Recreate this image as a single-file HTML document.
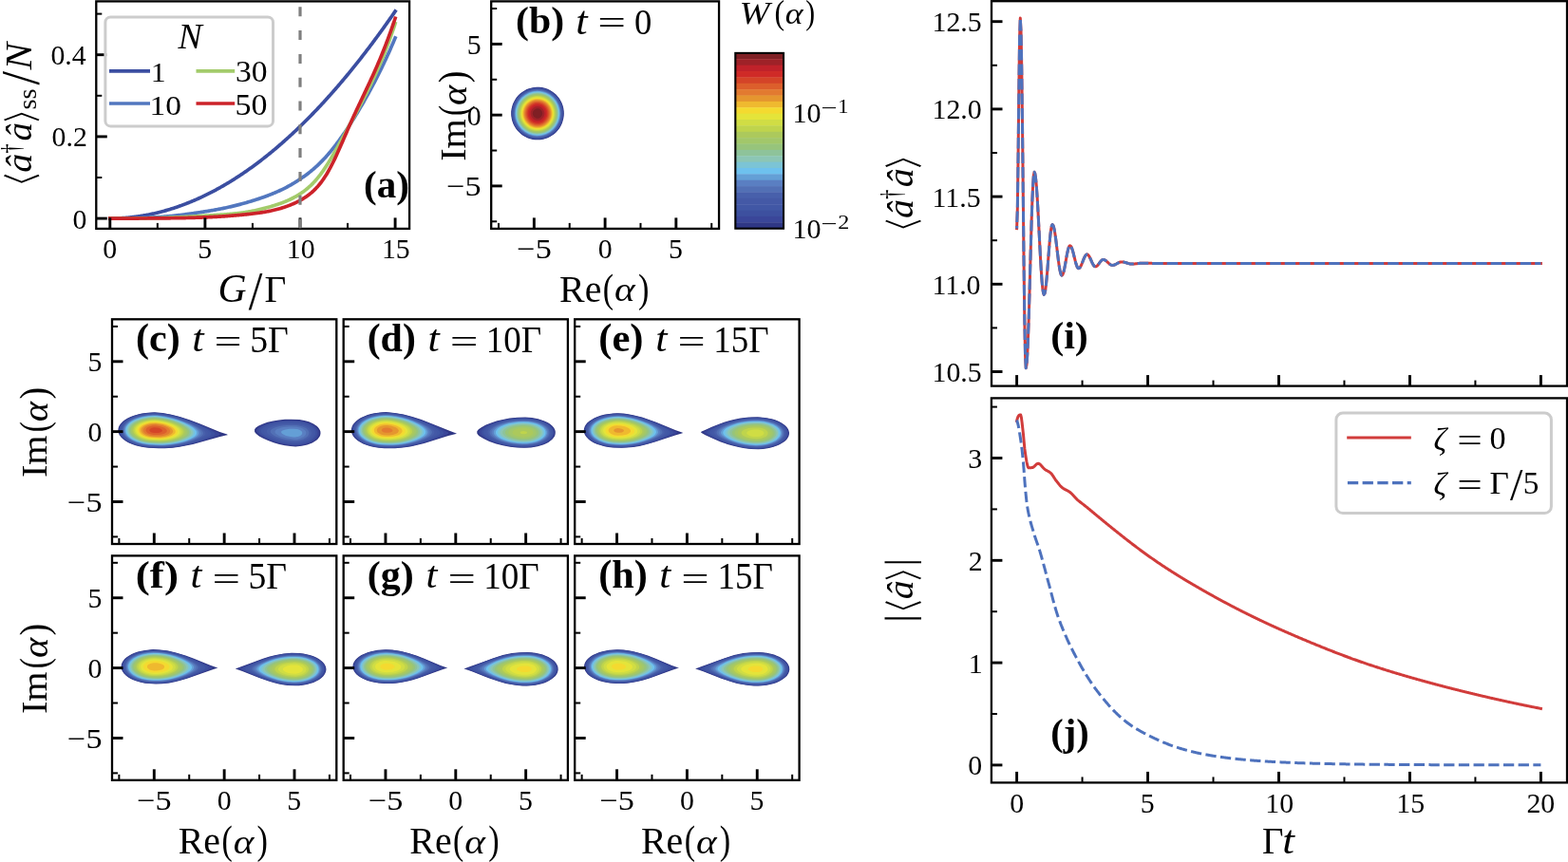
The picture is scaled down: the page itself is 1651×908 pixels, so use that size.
<!DOCTYPE html>
<html><head><meta charset="utf-8"><title>figure</title>
<style>html,body{margin:0;padding:0;background:#fff;overflow:hidden}svg{display:block}</style>
</head><body>
<svg width="1651" height="908" viewBox="0 0 1651 908">
<rect width="1651" height="908" fill="#fff"/>
<defs><clipPath id="ca"><rect x="101.30" y="1.40" width="329.80" height="239.50"/></clipPath></defs>
<path d="M115.80,230.10 L116.80,230.10 L117.81,230.09 L118.81,230.08 L119.82,230.06 L120.82,230.04 L121.83,230.01 L122.83,229.98 L123.83,229.94 L124.84,229.90 L125.84,229.86 L126.85,229.80 L127.85,229.75 L128.86,229.69 L129.86,229.62 L130.87,229.55 L131.87,229.48 L132.87,229.39 L133.88,229.31 L134.88,229.22 L135.89,229.12 L136.89,229.02 L137.90,228.92 L138.90,228.81 L139.90,228.69 L140.91,228.57 L141.91,228.45 L142.92,228.32 L143.92,228.19 L144.93,228.05 L145.93,227.90 L146.93,227.75 L147.94,227.60 L148.94,227.44 L149.95,227.28 L150.95,227.11 L151.96,226.94 L152.96,226.76 L153.97,226.58 L154.97,226.39 L155.97,226.20 L156.98,226.00 L157.98,225.79 L158.99,225.59 L159.99,225.37 L161.00,225.16 L162.00,224.94 L163.00,224.71 L164.01,224.48 L165.01,224.24 L166.02,224.00 L167.02,223.75 L168.03,223.50 L169.03,223.24 L170.03,222.98 L171.04,222.72 L172.04,222.45 L173.05,222.17 L174.05,221.89 L175.06,221.60 L176.06,221.31 L177.07,221.02 L178.07,220.72 L179.07,220.41 L180.08,220.10 L181.08,219.79 L182.09,219.47 L183.09,219.14 L184.10,218.81 L185.10,218.48 L186.10,218.14 L187.11,217.80 L188.11,217.45 L189.12,217.09 L190.12,216.74 L191.13,216.37 L192.13,216.00 L193.13,215.63 L194.14,215.25 L195.14,214.87 L196.15,214.48 L197.15,214.09 L198.16,213.69 L199.16,213.29 L200.17,212.88 L201.17,212.47 L202.17,212.05 L203.18,211.63 L204.18,211.20 L205.19,210.77 L206.19,210.33 L207.20,209.89 L208.20,209.44 L209.20,208.99 L210.21,208.53 L211.21,208.07 L212.22,207.61 L213.22,207.14 L214.23,206.66 L215.23,206.18 L216.23,205.69 L217.24,205.20 L218.24,204.71 L219.25,204.21 L220.25,203.70 L221.26,203.19 L222.26,202.68 L223.27,202.16 L224.27,201.63 L225.27,201.10 L226.28,200.57 L227.28,200.03 L228.29,199.48 L229.29,198.94 L230.30,198.38 L231.30,197.82 L232.30,197.26 L233.31,196.69 L234.31,196.12 L235.32,195.54 L236.32,194.96 L237.33,194.37 L238.33,193.77 L239.33,193.18 L240.34,192.57 L241.34,191.97 L242.35,191.35 L243.35,190.74 L244.36,190.11 L245.36,189.49 L246.37,188.85 L247.37,188.22 L248.37,187.57 L249.38,186.93 L250.38,186.28 L251.39,185.62 L252.39,184.96 L253.40,184.29 L254.40,183.62 L255.40,182.94 L256.41,182.26 L257.41,181.58 L258.42,180.89 L259.42,180.19 L260.43,179.49 L261.43,178.79 L262.43,178.08 L263.44,177.36 L264.44,176.64 L265.45,175.92 L266.45,175.19 L267.46,174.45 L268.46,173.71 L269.47,172.97 L270.47,172.22 L271.47,171.46 L272.48,170.71 L273.48,169.94 L274.49,169.17 L275.49,168.40 L276.50,167.62 L277.50,166.84 L278.50,166.05 L279.51,165.26 L280.51,164.46 L281.52,163.65 L282.52,162.85 L283.53,162.03 L284.53,161.22 L285.53,160.39 L286.54,159.57 L287.54,158.73 L288.55,157.90 L289.55,157.05 L290.56,156.21 L291.56,155.36 L292.57,154.50 L293.57,153.64 L294.57,152.77 L295.58,151.90 L296.58,151.02 L297.59,150.14 L298.59,149.26 L299.60,148.37 L300.60,147.47 L301.60,146.57 L302.61,145.66 L303.61,144.75 L304.62,143.84 L305.62,142.92 L306.63,141.99 L307.63,141.06 L308.63,140.13 L309.64,139.19 L310.64,138.24 L311.65,137.30 L312.65,136.34 L313.66,135.38 L314.66,134.42 L315.67,133.45 L316.67,132.48 L317.67,131.50 L318.68,130.51 L319.68,129.52 L320.69,128.53 L321.69,127.53 L322.70,126.53 L323.70,125.52 L324.70,124.51 L325.71,123.49 L326.71,122.47 L327.72,121.44 L328.72,120.41 L329.73,119.37 L330.73,118.33 L331.73,117.28 L332.74,116.23 L333.74,115.17 L334.75,114.11 L335.75,113.05 L336.76,111.97 L337.76,110.90 L338.77,109.82 L339.77,108.73 L340.77,107.64 L341.78,106.54 L342.78,105.44 L343.79,104.34 L344.79,103.23 L345.80,102.11 L346.80,100.99 L347.80,99.87 L348.81,98.74 L349.81,97.60 L350.82,96.46 L351.82,95.32 L352.83,94.17 L353.83,93.01 L354.83,91.85 L355.84,90.69 L356.84,89.52 L357.85,88.35 L358.85,87.17 L359.86,85.98 L360.86,84.80 L361.87,83.60 L362.87,82.40 L363.87,81.20 L364.88,79.99 L365.88,78.78 L366.89,77.56 L367.89,76.34 L368.90,75.11 L369.90,73.88 L370.90,72.64 L371.91,71.40 L372.91,70.15 L373.92,68.90 L374.92,67.64 L375.93,66.38 L376.93,65.11 L377.93,63.84 L378.94,62.57 L379.94,61.28 L380.95,60.00 L381.95,58.71 L382.96,57.41 L383.96,56.11 L384.97,54.81 L385.97,53.49 L386.97,52.18 L387.98,50.86 L388.98,49.53 L389.99,48.20 L390.99,46.87 L392.00,45.53 L393.00,44.18 L394.00,42.83 L395.01,41.48 L396.01,40.12 L397.02,38.76 L398.02,37.39 L399.03,36.01 L400.03,34.63 L401.03,33.25 L402.04,31.86 L403.04,30.47 L404.05,29.07 L405.05,27.67 L406.06,26.26 L407.06,24.84 L408.07,23.43 L409.07,22.00 L410.07,20.58 L411.08,19.14 L412.08,17.71 L413.09,16.26 L414.09,14.82 L415.10,13.36 L416.10,11.91" fill="none" stroke="#3b4ea1" stroke-width="3.7" stroke-linejoin="round" stroke-linecap="square" clip-path="url(#ca)"/>
<path d="M115.80,230.10 L116.80,230.10 L117.81,230.10 L118.81,230.10 L119.82,230.09 L120.82,230.09 L121.83,230.08 L122.83,230.07 L123.83,230.06 L124.84,230.06 L125.84,230.05 L126.85,230.03 L127.85,230.02 L128.86,230.01 L129.86,229.99 L130.87,229.98 L131.87,229.96 L132.87,229.94 L133.88,229.92 L134.88,229.90 L135.89,229.88 L136.89,229.86 L137.90,229.83 L138.90,229.81 L139.90,229.78 L140.91,229.76 L141.91,229.73 L142.92,229.70 L143.92,229.67 L144.93,229.64 L145.93,229.61 L146.93,229.57 L147.94,229.54 L148.94,229.50 L149.95,229.47 L150.95,229.43 L151.96,229.39 L152.96,229.35 L153.97,229.31 L154.97,229.27 L155.97,229.22 L156.98,229.18 L157.98,229.14 L158.99,229.09 L159.99,229.04 L161.00,228.99 L162.00,228.94 L163.00,228.89 L164.01,228.83 L165.01,228.77 L166.02,228.71 L167.02,228.64 L168.03,228.58 L169.03,228.51 L170.03,228.44 L171.04,228.36 L172.04,228.28 L173.05,228.20 L174.05,228.12 L175.06,228.04 L176.06,227.95 L177.07,227.86 L178.07,227.77 L179.07,227.67 L180.08,227.58 L181.08,227.48 L182.09,227.37 L183.09,227.27 L184.10,227.16 L185.10,227.05 L186.10,226.94 L187.11,226.83 L188.11,226.71 L189.12,226.59 L190.12,226.47 L191.13,226.35 L192.13,226.22 L193.13,226.09 L194.14,225.96 L195.14,225.83 L196.15,225.70 L197.15,225.57 L198.16,225.43 L199.16,225.29 L200.17,225.15 L201.17,225.02 L202.17,224.87 L203.18,224.73 L204.18,224.59 L205.19,224.45 L206.19,224.30 L207.20,224.15 L208.20,224.01 L209.20,223.86 L210.21,223.71 L211.21,223.56 L212.22,223.41 L213.22,223.25 L214.23,223.10 L215.23,222.94 L216.23,222.78 L217.24,222.63 L218.24,222.46 L219.25,222.30 L220.25,222.14 L221.26,221.97 L222.26,221.80 L223.27,221.63 L224.27,221.46 L225.27,221.28 L226.28,221.11 L227.28,220.93 L228.29,220.74 L229.29,220.55 L230.30,220.36 L231.30,220.17 L232.30,219.97 L233.31,219.77 L234.31,219.57 L235.32,219.36 L236.32,219.15 L237.33,218.94 L238.33,218.73 L239.33,218.51 L240.34,218.28 L241.34,218.06 L242.35,217.83 L243.35,217.60 L244.36,217.36 L245.36,217.12 L246.37,216.88 L247.37,216.64 L248.37,216.39 L249.38,216.13 L250.38,215.88 L251.39,215.62 L252.39,215.36 L253.40,215.09 L254.40,214.82 L255.40,214.55 L256.41,214.27 L257.41,213.99 L258.42,213.71 L259.42,213.43 L260.43,213.14 L261.43,212.84 L262.43,212.55 L263.44,212.25 L264.44,211.94 L265.45,211.63 L266.45,211.32 L267.46,211.01 L268.46,210.69 L269.47,210.36 L270.47,210.03 L271.47,209.70 L272.48,209.37 L273.48,209.03 L274.49,208.68 L275.49,208.34 L276.50,207.98 L277.50,207.63 L278.50,207.27 L279.51,206.90 L280.51,206.53 L281.52,206.15 L282.52,205.77 L283.53,205.39 L284.53,205.00 L285.53,204.60 L286.54,204.20 L287.54,203.79 L288.55,203.38 L289.55,202.96 L290.56,202.53 L291.56,202.10 L292.57,201.66 L293.57,201.21 L294.57,200.75 L295.58,200.28 L296.58,199.81 L297.59,199.32 L298.59,198.83 L299.60,198.32 L300.60,197.81 L301.60,197.29 L302.61,196.75 L303.61,196.21 L304.62,195.65 L305.62,195.09 L306.63,194.52 L307.63,193.93 L308.63,193.34 L309.64,192.73 L310.64,192.12 L311.65,191.49 L312.65,190.86 L313.66,190.21 L314.66,189.56 L315.67,188.89 L316.67,188.22 L317.67,187.53 L318.68,186.84 L319.68,186.13 L320.69,185.41 L321.69,184.68 L322.70,183.94 L323.70,183.18 L324.70,182.41 L325.71,181.63 L326.71,180.83 L327.72,180.02 L328.72,179.19 L329.73,178.35 L330.73,177.48 L331.73,176.60 L332.74,175.71 L333.74,174.79 L334.75,173.85 L335.75,172.90 L336.76,171.92 L337.76,170.92 L338.77,169.91 L339.77,168.87 L340.77,167.82 L341.78,166.74 L342.78,165.64 L343.79,164.53 L344.79,163.39 L345.80,162.23 L346.80,161.06 L347.80,159.86 L348.81,158.65 L349.81,157.41 L350.82,156.15 L351.82,154.88 L352.83,153.59 L353.83,152.27 L354.83,150.94 L355.84,149.59 L356.84,148.23 L357.85,146.84 L358.85,145.44 L359.86,144.02 L360.86,142.59 L361.87,141.14 L362.87,139.67 L363.87,138.19 L364.88,136.69 L365.88,135.18 L366.89,133.65 L367.89,132.11 L368.90,130.55 L369.90,128.97 L370.90,127.38 L371.91,125.78 L372.91,124.16 L373.92,122.53 L374.92,120.88 L375.93,119.22 L376.93,117.54 L377.93,115.86 L378.94,114.15 L379.94,112.44 L380.95,110.71 L381.95,108.97 L382.96,107.22 L383.96,105.45 L384.97,103.67 L385.97,101.88 L386.97,100.07 L387.98,98.25 L388.98,96.42 L389.99,94.57 L390.99,92.70 L392.00,90.82 L393.00,88.93 L394.00,87.02 L395.01,85.09 L396.01,83.14 L397.02,81.18 L398.02,79.20 L399.03,77.21 L400.03,75.19 L401.03,73.16 L402.04,71.10 L403.04,69.03 L404.05,66.93 L405.05,64.82 L406.06,62.68 L407.06,60.52 L408.07,58.33 L409.07,56.13 L410.07,53.89 L411.08,51.63 L412.08,49.35 L413.09,47.04 L414.09,44.70 L415.10,42.33 L416.10,39.93" fill="none" stroke="#5277bf" stroke-width="3.7" stroke-linejoin="round" stroke-linecap="square" clip-path="url(#ca)"/>
<path d="M115.80,230.10 L116.80,230.10 L117.81,230.10 L118.81,230.10 L119.82,230.10 L120.82,230.09 L121.83,230.09 L122.83,230.09 L123.83,230.09 L124.84,230.08 L125.84,230.08 L126.85,230.07 L127.85,230.07 L128.86,230.06 L129.86,230.06 L130.87,230.05 L131.87,230.04 L132.87,230.04 L133.88,230.03 L134.88,230.02 L135.89,230.01 L136.89,230.00 L137.90,229.99 L138.90,229.98 L139.90,229.97 L140.91,229.96 L141.91,229.95 L142.92,229.94 L143.92,229.93 L144.93,229.92 L145.93,229.90 L146.93,229.89 L147.94,229.88 L148.94,229.86 L149.95,229.85 L150.95,229.83 L151.96,229.82 L152.96,229.80 L153.97,229.78 L154.97,229.77 L155.97,229.75 L156.98,229.74 L157.98,229.72 L158.99,229.70 L159.99,229.68 L161.00,229.67 L162.00,229.65 L163.00,229.63 L164.01,229.60 L165.01,229.58 L166.02,229.56 L167.02,229.54 L168.03,229.51 L169.03,229.48 L170.03,229.46 L171.04,229.43 L172.04,229.40 L173.05,229.37 L174.05,229.34 L175.06,229.31 L176.06,229.27 L177.07,229.24 L178.07,229.20 L179.07,229.17 L180.08,229.13 L181.08,229.09 L182.09,229.05 L183.09,229.01 L184.10,228.97 L185.10,228.92 L186.10,228.88 L187.11,228.83 L188.11,228.79 L189.12,228.74 L190.12,228.69 L191.13,228.64 L192.13,228.59 L193.13,228.54 L194.14,228.48 L195.14,228.43 L196.15,228.38 L197.15,228.32 L198.16,228.26 L199.16,228.21 L200.17,228.15 L201.17,228.10 L202.17,228.04 L203.18,227.98 L204.18,227.92 L205.19,227.87 L206.19,227.81 L207.20,227.75 L208.20,227.69 L209.20,227.63 L210.21,227.57 L211.21,227.51 L212.22,227.46 L213.22,227.40 L214.23,227.34 L215.23,227.28 L216.23,227.22 L217.24,227.16 L218.24,227.10 L219.25,227.04 L220.25,226.98 L221.26,226.91 L222.26,226.85 L223.27,226.79 L224.27,226.73 L225.27,226.67 L226.28,226.60 L227.28,226.54 L228.29,226.47 L229.29,226.41 L230.30,226.34 L231.30,226.27 L232.30,226.20 L233.31,226.13 L234.31,226.06 L235.32,225.99 L236.32,225.91 L237.33,225.84 L238.33,225.76 L239.33,225.68 L240.34,225.60 L241.34,225.52 L242.35,225.43 L243.35,225.34 L244.36,225.25 L245.36,225.16 L246.37,225.06 L247.37,224.96 L248.37,224.86 L249.38,224.75 L250.38,224.64 L251.39,224.52 L252.39,224.40 L253.40,224.28 L254.40,224.15 L255.40,224.01 L256.41,223.87 L257.41,223.72 L258.42,223.57 L259.42,223.41 L260.43,223.25 L261.43,223.08 L262.43,222.91 L263.44,222.73 L264.44,222.54 L265.45,222.35 L266.45,222.15 L267.46,221.95 L268.46,221.74 L269.47,221.53 L270.47,221.31 L271.47,221.08 L272.48,220.85 L273.48,220.61 L274.49,220.37 L275.49,220.12 L276.50,219.87 L277.50,219.61 L278.50,219.35 L279.51,219.09 L280.51,218.82 L281.52,218.54 L282.52,218.27 L283.53,217.98 L284.53,217.70 L285.53,217.40 L286.54,217.11 L287.54,216.81 L288.55,216.50 L289.55,216.18 L290.56,215.86 L291.56,215.54 L292.57,215.20 L293.57,214.86 L294.57,214.51 L295.58,214.15 L296.58,213.79 L297.59,213.41 L298.59,213.03 L299.60,212.63 L300.60,212.22 L301.60,211.80 L302.61,211.37 L303.61,210.93 L304.62,210.47 L305.62,210.00 L306.63,209.52 L307.63,209.02 L308.63,208.51 L309.64,207.98 L310.64,207.43 L311.65,206.87 L312.65,206.29 L313.66,205.69 L314.66,205.07 L315.67,204.43 L316.67,203.77 L317.67,203.08 L318.68,202.38 L319.68,201.65 L320.69,200.89 L321.69,200.11 L322.70,199.31 L323.70,198.47 L324.70,197.61 L325.71,196.71 L326.71,195.79 L327.72,194.84 L328.72,193.85 L329.73,192.83 L330.73,191.77 L331.73,190.68 L332.74,189.55 L333.74,188.38 L334.75,187.17 L335.75,185.92 L336.76,184.64 L337.76,183.31 L338.77,181.95 L339.77,180.55 L340.77,179.12 L341.78,177.65 L342.78,176.14 L343.79,174.61 L344.79,173.04 L345.80,171.44 L346.80,169.81 L347.80,168.15 L348.81,166.47 L349.81,164.77 L350.82,163.04 L351.82,161.29 L352.83,159.53 L353.83,157.75 L354.83,155.95 L355.84,154.14 L356.84,152.32 L357.85,150.49 L358.85,148.66 L359.86,146.82 L360.86,144.98 L361.87,143.14 L362.87,141.30 L363.87,139.45 L364.88,137.60 L365.88,135.75 L366.89,133.90 L367.89,132.05 L368.90,130.20 L369.90,128.34 L370.90,126.49 L371.91,124.63 L372.91,122.77 L373.92,120.90 L374.92,119.03 L375.93,117.15 L376.93,115.27 L377.93,113.38 L378.94,111.48 L379.94,109.56 L380.95,107.64 L381.95,105.70 L382.96,103.75 L383.96,101.78 L384.97,99.80 L385.97,97.81 L386.97,95.79 L387.98,93.76 L388.98,91.71 L389.99,89.65 L390.99,87.56 L392.00,85.45 L393.00,83.32 L394.00,81.16 L395.01,78.98 L396.01,76.77 L397.02,74.54 L398.02,72.28 L399.03,69.99 L400.03,67.66 L401.03,65.30 L402.04,62.91 L403.04,60.48 L404.05,58.01 L405.05,55.49 L406.06,52.94 L407.06,50.34 L408.07,47.69 L409.07,44.99 L410.07,42.25 L411.08,39.45 L412.08,36.61 L413.09,33.73 L414.09,30.79 L415.10,27.81 L416.10,24.79" fill="none" stroke="#a3cb6b" stroke-width="3.7" stroke-linejoin="round" stroke-linecap="square" clip-path="url(#ca)"/>
<path d="M115.80,230.10 L116.80,230.10 L117.81,230.10 L118.81,230.10 L119.82,230.10 L120.82,230.10 L121.83,230.10 L122.83,230.10 L123.83,230.09 L124.84,230.09 L125.84,230.09 L126.85,230.09 L127.85,230.09 L128.86,230.09 L129.86,230.08 L130.87,230.08 L131.87,230.08 L132.87,230.08 L133.88,230.07 L134.88,230.07 L135.89,230.07 L136.89,230.06 L137.90,230.06 L138.90,230.06 L139.90,230.05 L140.91,230.05 L141.91,230.04 L142.92,230.04 L143.92,230.04 L144.93,230.03 L145.93,230.03 L146.93,230.02 L147.94,230.02 L148.94,230.01 L149.95,230.01 L150.95,230.00 L151.96,229.99 L152.96,229.99 L153.97,229.98 L154.97,229.98 L155.97,229.97 L156.98,229.96 L157.98,229.96 L158.99,229.95 L159.99,229.95 L161.00,229.94 L162.00,229.94 L163.00,229.93 L164.01,229.92 L165.01,229.92 L166.02,229.91 L167.02,229.90 L168.03,229.89 L169.03,229.89 L170.03,229.88 L171.04,229.87 L172.04,229.86 L173.05,229.85 L174.05,229.84 L175.06,229.83 L176.06,229.82 L177.07,229.81 L178.07,229.80 L179.07,229.79 L180.08,229.77 L181.08,229.76 L182.09,229.75 L183.09,229.73 L184.10,229.72 L185.10,229.71 L186.10,229.69 L187.11,229.67 L188.11,229.66 L189.12,229.64 L190.12,229.62 L191.13,229.61 L192.13,229.59 L193.13,229.57 L194.14,229.55 L195.14,229.53 L196.15,229.51 L197.15,229.48 L198.16,229.46 L199.16,229.44 L200.17,229.41 L201.17,229.39 L202.17,229.36 L203.18,229.33 L204.18,229.31 L205.19,229.28 L206.19,229.25 L207.20,229.22 L208.20,229.19 L209.20,229.15 L210.21,229.12 L211.21,229.08 L212.22,229.05 L213.22,229.01 L214.23,228.97 L215.23,228.93 L216.23,228.89 L217.24,228.85 L218.24,228.81 L219.25,228.76 L220.25,228.72 L221.26,228.67 L222.26,228.62 L223.27,228.58 L224.27,228.52 L225.27,228.47 L226.28,228.42 L227.28,228.36 L228.29,228.31 L229.29,228.25 L230.30,228.19 L231.30,228.13 L232.30,228.07 L233.31,228.00 L234.31,227.94 L235.32,227.87 L236.32,227.80 L237.33,227.73 L238.33,227.66 L239.33,227.59 L240.34,227.51 L241.34,227.44 L242.35,227.36 L243.35,227.28 L244.36,227.20 L245.36,227.12 L246.37,227.03 L247.37,226.95 L248.37,226.86 L249.38,226.77 L250.38,226.68 L251.39,226.59 L252.39,226.50 L253.40,226.40 L254.40,226.31 L255.40,226.21 L256.41,226.11 L257.41,226.01 L258.42,225.91 L259.42,225.81 L260.43,225.70 L261.43,225.59 L262.43,225.48 L263.44,225.37 L264.44,225.26 L265.45,225.14 L266.45,225.02 L267.46,224.90 L268.46,224.77 L269.47,224.65 L270.47,224.51 L271.47,224.38 L272.48,224.24 L273.48,224.10 L274.49,223.95 L275.49,223.80 L276.50,223.65 L277.50,223.49 L278.50,223.32 L279.51,223.15 L280.51,222.97 L281.52,222.79 L282.52,222.60 L283.53,222.40 L284.53,222.19 L285.53,221.98 L286.54,221.77 L287.54,221.54 L288.55,221.31 L289.55,221.07 L290.56,220.82 L291.56,220.56 L292.57,220.29 L293.57,220.02 L294.57,219.74 L295.58,219.45 L296.58,219.14 L297.59,218.83 L298.59,218.51 L299.60,218.18 L300.60,217.85 L301.60,217.50 L302.61,217.13 L303.61,216.76 L304.62,216.38 L305.62,215.98 L306.63,215.58 L307.63,215.16 L308.63,214.72 L309.64,214.27 L310.64,213.81 L311.65,213.34 L312.65,212.85 L313.66,212.34 L314.66,211.82 L315.67,211.28 L316.67,210.72 L317.67,210.15 L318.68,209.55 L319.68,208.94 L320.69,208.30 L321.69,207.64 L322.70,206.95 L323.70,206.24 L324.70,205.50 L325.71,204.73 L326.71,203.93 L327.72,203.10 L328.72,202.23 L329.73,201.32 L330.73,200.38 L331.73,199.39 L332.74,198.36 L333.74,197.28 L334.75,196.16 L335.75,194.99 L336.76,193.76 L337.76,192.49 L338.77,191.16 L339.77,189.77 L340.77,188.33 L341.78,186.83 L342.78,185.28 L343.79,183.66 L344.79,181.99 L345.80,180.26 L346.80,178.47 L347.80,176.63 L348.81,174.73 L349.81,172.77 L350.82,170.77 L351.82,168.72 L352.83,166.62 L353.83,164.47 L354.83,162.29 L355.84,160.08 L356.84,157.84 L357.85,155.57 L358.85,153.29 L359.86,150.99 L360.86,148.68 L361.87,146.37 L362.87,144.05 L363.87,141.73 L364.88,139.42 L365.88,137.11 L366.89,134.81 L367.89,132.53 L368.90,130.26 L369.90,128.02 L370.90,125.79 L371.91,123.57 L372.91,121.38 L373.92,119.19 L374.92,117.03 L375.93,114.87 L376.93,112.73 L377.93,110.60 L378.94,108.47 L379.94,106.35 L380.95,104.23 L381.95,102.11 L382.96,99.99 L383.96,97.87 L384.97,95.75 L385.97,93.62 L386.97,91.49 L387.98,89.34 L388.98,87.19 L389.99,85.03 L390.99,82.85 L392.00,80.66 L393.00,78.45 L394.00,76.23 L395.01,73.98 L396.01,71.70 L397.02,69.41 L398.02,67.08 L399.03,64.73 L400.03,62.35 L401.03,59.94 L402.04,57.50 L403.04,55.03 L404.05,52.52 L405.05,49.98 L406.06,47.39 L407.06,44.77 L408.07,42.10 L409.07,39.40 L410.07,36.64 L411.08,33.85 L412.08,31.01 L413.09,28.13 L414.09,25.21 L415.10,22.24 L416.10,19.23" fill="none" stroke="#cc2229" stroke-width="3.7" stroke-linejoin="round" stroke-linecap="square" clip-path="url(#ca)"/>
<rect x="101.30" y="1.40" width="329.80" height="239.50" fill="none" stroke="#000" stroke-width="2.3"/>
<line x1="115.80" y1="240.90" x2="115.80" y2="229.40" stroke="#000" stroke-width="2.9"/>
<line x1="215.90" y1="240.90" x2="215.90" y2="229.40" stroke="#000" stroke-width="2.9"/>
<line x1="316.00" y1="240.90" x2="316.00" y2="229.40" stroke="#000" stroke-width="2.9"/>
<line x1="416.10" y1="240.90" x2="416.10" y2="229.40" stroke="#000" stroke-width="2.9"/>
<line x1="165.85" y1="240.90" x2="165.85" y2="234.90" stroke="#000" stroke-width="2.0"/>
<line x1="265.95" y1="240.90" x2="265.95" y2="234.90" stroke="#000" stroke-width="2.0"/>
<line x1="366.05" y1="240.90" x2="366.05" y2="234.90" stroke="#000" stroke-width="2.0"/>
<line x1="101.30" y1="230.10" x2="112.80" y2="230.10" stroke="#000" stroke-width="2.9"/>
<line x1="101.30" y1="143.90" x2="112.80" y2="143.90" stroke="#000" stroke-width="2.9"/>
<line x1="101.30" y1="57.70" x2="112.80" y2="57.70" stroke="#000" stroke-width="2.9"/>
<line x1="101.30" y1="187.00" x2="107.30" y2="187.00" stroke="#000" stroke-width="2.0"/>
<line x1="101.30" y1="100.80" x2="107.30" y2="100.80" stroke="#000" stroke-width="2.0"/>
<line x1="101.30" y1="14.60" x2="107.30" y2="14.60" stroke="#000" stroke-width="2.0"/>
<line x1="316.0" y1="7.3" x2="316.0" y2="240.9" stroke="#7f7f7f" stroke-width="3.2" stroke-dasharray="10,14.8" clip-path="url(#ca)"/>
<text transform="translate(108.35,272.20) scale(1.0000,1)" font-family="Liberation Serif, DejaVu Serif, serif" font-size="29.80" fill="#000">0</text>
<text transform="translate(208.17,272.20) scale(1.0000,1)" font-family="Liberation Serif, DejaVu Serif, serif" font-size="29.80" fill="#000">5</text>
<text transform="translate(301.86,272.20) scale(1.0000,1)" font-family="Liberation Serif, DejaVu Serif, serif" font-size="29.80" fill="#000">10</text>
<text transform="translate(401.97,272.20) scale(1.0000,1)" font-family="Liberation Serif, DejaVu Serif, serif" font-size="29.80" fill="#000">15</text>
<text transform="translate(76.43,240.50) scale(1.0000,1)" font-family="Liberation Serif, DejaVu Serif, serif" font-size="29.80" fill="#000">0</text>
<text transform="translate(54.59,154.30) scale(1.0000,1)" font-family="Liberation Serif, DejaVu Serif, serif" font-size="29.80" fill="#000">0.2</text>
<text transform="translate(53.42,68.10) scale(1.0000,1)" font-family="Liberation Serif, DejaVu Serif, serif" font-size="29.80" fill="#000">0.4</text>
<rect x="110.9" y="18.05" width="176.6" height="114.85" rx="5.5" ry="5.5" fill="#fff" fill-opacity="0.8" stroke="#cccccc" stroke-width="3.0"/>
<text transform="translate(187.48,51.30) scale(0.9961,1)" font-family="Liberation Serif, DejaVu Serif, serif" font-style="italic" font-size="38.03" fill="#000">N</text>
<line x1="116.85" y1="74.90" x2="156.15" y2="74.90" stroke="#3b4ea1" stroke-width="3.7" stroke-linecap="square"/>
<line x1="116.85" y1="109.00" x2="156.15" y2="109.00" stroke="#5277bf" stroke-width="3.7" stroke-linecap="square"/>
<line x1="208.35" y1="74.90" x2="245.35" y2="74.90" stroke="#a3cb6b" stroke-width="3.7" stroke-linecap="square"/>
<line x1="208.35" y1="109.00" x2="245.35" y2="109.00" stroke="#cc2229" stroke-width="3.7" stroke-linecap="square"/>
<text transform="translate(158.70,86.40) scale(1.0431,1)" font-family="Liberation Serif, DejaVu Serif, serif" font-size="30.50" fill="#000">1</text>
<text transform="translate(157.56,120.60) scale(1.0954,1)" font-family="Liberation Serif, DejaVu Serif, serif" font-size="30.50" fill="#000">10</text>
<text transform="translate(247.89,86.40) scale(1.1012,1)" font-family="Liberation Serif, DejaVu Serif, serif" font-size="30.50" fill="#000">30</text>
<text transform="translate(247.53,120.60) scale(1.1137,1)" font-family="Liberation Serif, DejaVu Serif, serif" font-size="30.50" fill="#000">50</text>
<text transform="translate(383.09,208.16) scale(1.0124,1)" font-family="Liberation Serif, DejaVu Serif, serif" font-weight="bold" font-size="40.59" fill="#000">(a)</text>
<text transform="translate(229.60,317.83) scale(0.9985,1)" font-family="Liberation Serif, DejaVu Serif, serif" font-style="italic" font-size="41.74" fill="#000">G</text>
<text transform="translate(261.70,326.34) scale(0.9178,1)" font-family="Liberation Serif, DejaVu Serif, serif" font-size="57.25" fill="#000">/</text>
<text transform="translate(278.56,317.70) scale(0.9748,1)" font-family="Liberation Serif, DejaVu Serif, serif" font-size="40.47" fill="#000">Γ</text>
<text transform="translate(38.24,192.70) rotate(-90) translate(-14.54,0) scale(0.6144,1)" font-family="Noto Sans CJK JP, sans-serif" font-size="40.24" fill="#000">〈</text>
<text transform="translate(33.10,180.50) rotate(-90) translate(-1.19,0) scale(1.0297,1)" font-family="Liberation Serif, DejaVu Serif, serif" font-style="italic" font-size="38.83" fill="#000">â</text>
<text transform="translate(20.96,160.90) rotate(-90) translate(-0.62,0) scale(0.6719,1)" font-family="Liberation Serif, DejaVu Serif, serif" font-size="30.21" fill="#000">†</text>
<text transform="translate(33.10,147.30) rotate(-90) translate(-1.16,0) scale(1.0059,1)" font-family="Liberation Serif, DejaVu Serif, serif" font-style="italic" font-size="38.83" fill="#000">â</text>
<text transform="translate(38.24,127.20) rotate(-90) translate(-1.23,0) scale(0.5868,1)" font-family="Noto Sans CJK JP, sans-serif" font-size="40.24" fill="#000">〉</text>
<text transform="translate(38.44,114.40) rotate(-90) translate(-1.16,0) scale(1.0748,1)" font-family="Liberation Serif, DejaVu Serif, serif" font-size="26.41" fill="#000">ss</text>
<text transform="translate(41.15,89.60) rotate(-90) translate(-0.00,0) scale(0.9197,1)" font-family="Liberation Serif, DejaVu Serif, serif" font-size="56.36" fill="#000">/</text>
<text transform="translate(32.70,73.70) rotate(-90) translate(0.31,0) scale(1.0640,1)" font-family="Liberation Serif, DejaVu Serif, serif" font-style="italic" font-size="40.17" fill="#000">N</text>
<defs><clipPath id="cb"><rect x="517.20" y="1.40" width="239.85" height="239.50"/></clipPath></defs>
<g clip-path="url(#cb)"><path d="M561.0 146.9l2.5 .3 3 .1 2.4 -.1 3 -.5 4.8 -1.5 2.4 -1.2 2.4 -1.4 2.3 -1.7 1.9 -1.7 1.7 -1.9 1.8 -2.4 1.4 -2.4 1.4 -3 1.3 -4.8 .4 -3 .1 -2.3 -.1 -2.4 -.4 -3 -.8 -3 -.9 -2.4 -1.2 -2.4 -1.4 -2.4 -3.3 -4 -1.8 -1.6 -2.4 -1.8 -2.4 -1.4 -2.4 -1.2 -3 -1 -3 -.7 -3 -.4 -2.4 0 -2.9 .2 -2.4 .5 -3 .8 -2.4 .9 -2.4 1.3 -2.4 1.5 -2.4 1.9 -1.8 1.8 -1.7 2 -1.6 2.4 -1.3 2.4 -1.1 2.4 -1.3 4.8 -.4 3 0 2.4 .1 2.3 .5 3 .6 2.4 1.1 3 1.2 2.4 1.5 2.4 1.8 2.3 1.8 1.8 1.8 1.6 2.4 1.7 2.4 1.4 2.4 1.1 2.4 .8 2.8 .7z" fill="#2f3785"/><path d="M560.5 146.3l4.8 .5 3 -.1 2.4 -.3 2.4 -.5 3 -1 2.4 -1.1 2.4 -1.4 2.4 -1.7 1.8 -1.6 1.8 -2 1.7 -2.2 1.4 -2.4 1.2 -2.4 1.5 -4.8 .4 -2.4 .2 -2.9 -.1 -3 -.3 -2.4 -.7 -3 -.9 -2.4 -1.1 -2.4 -1.4 -2.4 -1.8 -2.4 -1.6 -1.8 -3.9 -3.2 -2.4 -1.5 -2.4 -1.1 -2.4 -.9 -3 -.8 -3 -.4 -2.4 -.1 -2.4 .1 -2.9 .4 -2.4 .6 -3 1.1 -4.2 2.3 -1.8 1.3 -2.4 2.1 -3.2 3.7 -1.5 2.4 -1.2 2.4 -.9 2.4 -.8 3 -.4 3 -.1 2.4 .1 2.3 .4 3 1.4 4.8 1 2.4 1.4 2.4 1.8 2.4 1.5 1.8 1.9 1.8 2.2 1.6 2.4 1.5 2.4 1.2 2.4 .9 2.9 .8z" fill="#3a4699"/><path d="M564.0 146.3l2.5 0 3 -.2 4.8 -1.1 2.4 -.9 2.4 -1.2 4.2 -2.9 1.8 -1.6 2 -2.3 2.7 -4.2 1.1 -2.4 1 -3 .8 -4.8 .1 -2.9 -.1 -2.4 -.6 -3 -.6 -2.4 -1 -2.4 -1.2 -2.4 -1.5 -2.4 -1.4 -1.8 -1.7 -1.8 -2 -1.7 -4.2 -2.7 -2.4 -1.2 -2.4 -.8 -2.4 -.6 -3 -.4 -3 -.1 -2.4 .1 -2.9 .6 -2.4 .6 -2.4 .9 -2.4 1.2 -2.4 1.6 -1.8 1.4 -1.9 1.7 -2 2.4 -2.7 4.2 -1 2.4 -1 3 -.8 4.8 0 3 .2 2.3 1 4.8 .9 2.4 1.2 2.4 1.5 2.4 1.6 2.1 3.6 3.4 2.4 1.7 2.4 1.4 4.8 1.9 2.4 .5 2.8 .4z" fill="#3d509f"/><path d="M563.0 145.7l4.7 .1 3 -.4 2.4 -.5 2.4 -.8 2.4 -1.1 4.2 -2.6 2.1 -1.9 1.7 -1.8 1.5 -1.8 1.5 -2.4 1.9 -4.2 .7 -2.4 .6 -3 .2 -4.7 -.3 -3 -.5 -2.4 -.8 -2.4 -1 -2.4 -2.6 -4.2 -3.2 -3.6 -1.8 -1.5 -2.4 -1.7 -2.4 -1.3 -2.4 -1 -2.4 -.7 -3 -.6 -2.4 -.2 -3 0 -4.7 .8 -4.8 1.8 -2.4 1.3 -2.4 1.6 -2.4 2.1 -1.6 1.8 -2.9 4.2 -1.8 4.2 -.7 2.4 -.6 3 -.1 2.4 .1 2.9 .8 4.8 1.9 4.8 1.3 2.4 1.7 2.4 1.9 2.1 1.8 1.6 1.8 1.3 2.4 1.5 2.4 1.2 2.4 .9 2.4 .6 2.4 .4z" fill="#4157a5"/><path d="M562.4 145.1l4.7 .2 4.8 -.7 2.4 -.6 2.4 -1 2.4 -1.2 2.4 -1.6 2 -1.7 1.8 -1.8 1.4 -1.8 1.6 -2.4 2 -4.2 .9 -3 .4 -2.4 .2 -4.7 -.3 -3 -.6 -2.4 -.7 -2.4 -1.1 -2.4 -2.6 -4.2 -3.3 -3.6 -1.7 -1.4 -2.4 -1.5 -2.4 -1.3 -2.4 -.9 -4.8 -1.2 -2.4 -.2 -3 0 -4.7 .8 -2.4 .8 -2.4 1 -4.2 2.6 -2.2 1.9 -1.7 1.8 -1.9 2.4 -1.1 1.8 -1.9 4.2 -1.2 4.8 -.2 4.8 .3 2.9 .5 2.4 .7 2.4 1 2.4 2.6 4.2 3.3 3.7 1.8 1.5 2.4 1.6 4.2 2 3 .9 2.4 .5z" fill="#4459a6"/><path d="M561.9 144.5l2.8 .3 2.4 0 4.8 -.7 2.4 -.7 2.4 -1 4.2 -2.4 3.7 -3.3 1.5 -1.8 1.6 -2.4 2 -4.2 1.3 -4.8 .3 -2.3 0 -3 -.8 -4.8 -.7 -2.4 -1 -2.4 -2.5 -4.2 -1.8 -2.2 -1.8 -1.7 -2.4 -1.9 -1.8 -1.1 -4.2 -1.9 -4.8 -1.2 -4.8 -.2 -2.3 .3 -2.4 .4 -4.2 1.5 -2.4 1.2 -2.4 1.5 -2.1 1.7 -1.7 1.8 -1.5 1.8 -1.6 2.4 -1.9 4.2 -1.2 4.8 -.3 4.8 .7 4.7 .7 2.4 .9 2.4 2.5 4.2 3.1 3.6 1.8 1.5 2.4 1.7 4.2 2 2.4 .8 2.5 .6z" fill="#4860ab"/><path d="M561.6 143.9l2.5 .3 2.4 .1 4.8 -.6 4.2 -1.3 4.2 -2.3 3.6 -2.9 1.8 -1.9 1.6 -2.2 2.2 -4.2 .9 -2.4 .5 -2.4 .5 -4.7 -.5 -4.8 -.6 -2.4 -.9 -2.4 -2.3 -4.2 -3 -3.6 -2 -1.8 -1.8 -1.3 -2.4 -1.4 -2.4 -1.1 -2.4 -.8 -2.4 -.5 -4.8 -.4 -4.7 .6 -2.4 .7 -2.4 .9 -4.2 2.5 -3.6 3.1 -2.9 3.7 -2.1 4.2 -.8 2.4 -.6 2.4 -.4 4.8 .6 4.7 .6 2.4 .9 2.4 2.4 4.2 3.1 3.6 1.6 1.4 2.4 1.8 4.2 2.1 4.6 1.3z" fill="#5270b5"/><path d="M561.3 143.3l2.8 .4 2.4 0 2.4 -.1 2.4 -.5 4.2 -1.3 4.2 -2.3 3.4 -2.8 2.9 -3.6 2.3 -4.2 .9 -2.4 .6 -2.4 .3 -2.4 .1 -2.3 -.1 -2.4 -.4 -2.4 -.6 -2.4 -.9 -2.4 -2.4 -4.2 -3 -3.6 -3.7 -2.9 -4.2 -2.1 -2.4 -.8 -2.4 -.6 -4.8 -.3 -4.7 .6 -2.4 .7 -2.4 .9 -3.6 2.1 -3.6 3 -2.8 3.6 -2.2 4.2 -.9 2.4 -.5 2.4 -.4 4.8 .5 4.7 1.4 4.2 2.3 4.2 2.9 3.6 2.1 1.8 1.8 1.3 4.2 2.2 4.3 1.3z" fill="#5a7fc2"/><path d="M561.2 142.7l4.1 .5 2.4 -.1 2.4 -.3 2.4 -.5 2.4 -.9 4.2 -2.2 3.6 -2.9 1.8 -2 1.3 -1.8 2.2 -4.2 1.2 -4.2 .4 -2.4 .1 -2.3 -.2 -2.4 -.4 -2.4 -1.3 -4.2 -2.2 -4.2 -2.9 -3.5 -3.6 -2.9 -4.2 -2.2 -2.4 -.8 -2.4 -.6 -4.2 -.4 -4.7 .5 -4.2 1.3 -4.2 2.3 -3.6 2.9 -1.8 2.1 -1.4 1.9 -2.1 4.2 -1.2 4.2 -.4 4.2 .1 2.3 .4 2.4 1.2 4.2 2.2 4.2 3 3.7 3.6 2.9 4.2 2.3 4.2 1.3z" fill="#649fd6"/><path d="M561.1 142.1l4.2 .5 2.4 -.1 2.4 -.3 4.2 -1.1 4.2 -2.2 3.6 -2.8 2.6 -3 1.1 -1.8 1.3 -2.4 1.4 -4.2 .6 -4.1 0 -2.4 -.3 -2.4 -1.1 -4.2 -1 -2.4 -1.4 -2.4 -2.9 -3.6 -3.3 -2.7 -1.8 -1.1 -2.4 -1.2 -4.2 -1.3 -2.4 -.4 -2.4 -.1 -4.1 .4 -4.2 1.2 -4.2 2.2 -3.6 2.8 -2.7 3.2 -1.1 1.8 -1.2 2.4 -1.4 4.2 -.4 2.4 -.1 2.4 .4 4.1 .5 2.4 .8 2.4 1.9 3.6 2.8 3.6 3.5 2.9 1.8 1.2 2.4 1.2 4.1 1.3z" fill="#6ec1ee"/><path d="M561.1 141.5l4.2 .5 2.4 0 2.4 -.4 4.2 -1.2 2.4 -1.1 1.8 -1.1 3.3 -2.7 3 -3.6 1.9 -3.6 1.3 -4.2 .5 -4.1 -.3 -4.2 -1.1 -4.2 -1.1 -2.4 -1 -1.8 -2.9 -3.6 -3 -2.6 -1.8 -1.2 -2.4 -1.2 -4.2 -1.3 -2.4 -.4 -2.4 -.1 -4.1 .4 -4.2 1.2 -3.6 1.9 -3.5 2.7 -2.7 3 -1.2 1.8 -1.2 2.4 -1.4 4.2 -.4 2.4 -.1 2.4 .4 4.1 .5 2.4 .9 2.4 1.9 3.6 3 3.6 3.2 2.7 3.6 1.9 4.1 1.4z" fill="#7cc4d5"/><path d="M561.2 140.9l4.1 .5 4.2 -.3 4.2 -1.1 2.4 -1.1 1.8 -1 1.8 -1.3 1.8 -1.6 2.6 -3.1 2 -3.6 1.3 -4.2 .5 -4.1 -.3 -4.2 -1.2 -4.2 -1.1 -2.4 -1 -1.8 -2.8 -3.4 -1.8 -1.6 -1.8 -1.3 -3.6 -1.9 -4.2 -1.2 -4.2 -.4 -4.1 .4 -4.2 1.3 -3.6 1.9 -1.8 1.3 -1.8 1.6 -2.7 3.3 -1.9 3.6 -1.3 4.2 -.4 4.2 .4 4.1 1.2 4.2 1.8 3.6 1.3 1.8 1.6 1.8 3 2.5 3.6 2.1 4.2 1.4z" fill="#8cc6b5"/><path d="M561.4 140.3l3.9 .5 4.2 -.3 4.2 -1.1 3.6 -1.8 3.4 -2.7 2.6 -3 2.1 -3.6 1.4 -4.2 .5 -4.1 -.3 -4.2 -1.2 -4.2 -1.9 -3.6 -1.3 -1.8 -1.6 -1.8 -3.1 -2.6 -3.6 -1.9 -4.2 -1.3 -4.2 -.4 -4.1 .4 -4.2 1.3 -3.6 2 -3 2.5 -2.5 3 -2 3.6 -1.4 4.2 -.4 4.2 .4 4.1 1.3 4.2 1.9 3.6 2.7 3.3 3 2.5 3.6 2 3.8 1.2z" fill="#8ec39a"/><path d="M561.6 139.7l3.7 .5 4.2 -.3 4.2 -1.2 3.6 -1.9 3.1 -2.5 2.5 -3 2.1 -3.6 1.1 -3.6 .5 -3.5 -.2 -4.2 -1.1 -4.2 -1.8 -3.6 -2.6 -3.4 -3 -2.6 -3.6 -2 -4.2 -1.3 -4.2 -.5 -4.1 .5 -3.6 1.1 -3.6 1.9 -3.3 2.7 -2.5 3 -1.9 3.6 -1.1 3.6 -.5 4.2 .4 4.1 1.1 3.6 1.8 3.6 2.4 3 3 2.6 3.6 2.1 4 1.3z" fill="#97c47b"/><path d="M561.9 139.1l4 .4 3.6 -.3 3.6 -1 3.6 -1.8 3.4 -2.7 2.5 -3 1.9 -3.6 1.1 -3.6 .4 -4.1 -.5 -4.2 -1.1 -3.6 -2 -3.6 -2.6 -3 -3.1 -2.4 -3.6 -1.8 -3.6 -1 -3.6 -.3 -4.1 .5 -3.6 1.1 -3.6 2 -3 2.5 -2.4 3 -1.8 3.6 -1.1 3.6 -.3 3.6 .4 4.1 1.1 3.6 1.9 3.6 2.5 3 2.9 2.4 3.4 1.8 3.7 1.2z" fill="#a2c76a"/><path d="M562.4 138.5l4.1 .3 3.6 -.4 3.6 -1.2 3.1 -1.7 2.9 -2.4 2.4 -3 1.9 -3.6 1 -3.6 .3 -3.5 -.5 -4.2 -1.2 -3.6 -1.7 -3 -2.5 -3 -3.3 -2.6 -3.6 -1.7 -3.6 -.9 -3.6 -.2 -3.5 .5 -3.6 1.1 -3.6 2.1 -2.6 2.3 -2.3 3 -1.8 3.6 -1 3.6 -.2 3.6 .4 3.5 1.1 3.6 2.1 3.6 2.5 2.9 3 2.3 3 1.5 3.6 1.1z" fill="#acc95c"/><path d="M563.1 137.9l3.4 .2 3.6 -.4 3.6 -1.2 3 -1.8 2.6 -2.2 2.4 -3 1.8 -3.6 .9 -3.6 .2 -3.5 -.5 -3.6 -1.2 -3.6 -1.8 -3 -2.6 -2.9 -3 -2.2 -3 -1.4 -3.6 -1 -3.6 -.2 -3.5 .5 -3.6 1.2 -3 1.8 -2.8 2.4 -2.3 3 -1.5 3 -1 3.6 -.2 3.6 .4 3.5 1.2 3.6 1.7 3 2.6 3 3.1 2.3 3 1.5 3.7 1z" fill="#bfd44c"/><path d="M564.1 137.3l3.6 0 3.6 -.7 3 -1.3 3 -1.9 2.4 -2.4 1.9 -2.7 1.3 -3 .8 -3.6 .1 -3.5 -.4 -3 -1.4 -3.6 -1.7 -2.9 -2.3 -2.5 -2.5 -1.8 -3 -1.6 -3.6 -.9 -3.6 -.3 -3.5 .5 -3.6 1.3 -2.7 1.6 -2.7 2.4 -2.2 3 -1.4 3 -.9 3.6 -.2 3.6 .6 3.5 1.4 3.6 2 3 2.5 2.6 3 2 3 1.3 3.5 .7z" fill="#d0dd44"/><path d="M561.8 136.1l2.9 .5 3.6 -.1 3.6 -.9 3 -1.5 2.9 -2.2 2.1 -2.4 1.7 -3 1 -3 .5 -2.9 -.2 -3.6 -.9 -3.6 -1.5 -3 -2.4 -3 -2.6 -2.1 -3 -1.6 -3 -1 -3.6 -.3 -3 .3 -2.9 .8 -3.1 1.5 -2.9 2.3 -2.1 2.5 -1.7 3 -.9 3 -.4 3 .2 3.5 .8 3 1.4 3 2.1 2.8 2.4 2.1 3 1.8 3 1.1z" fill="#e4e43a"/><path d="M562.7 135.5l3.2 .3 3 -.2 3 -.9 3 -1.5 2.4 -1.9 2 -2.4 1.7 -3 1 -3 .3 -3.5 -.3 -3 -.9 -3 -1.6 -3 -1.9 -2.4 -2.7 -2.2 -3 -1.5 -3 -.9 -3 -.2 -3 .3 -2.9 .8 -3 1.6 -2.6 2.1 -2 2.4 -1.5 3 -.9 3 -.3 3 .2 2.9 .8 3 1.6 3 2.3 2.9 2.4 1.9 3 1.6 2.7 .8z" fill="#f4da30"/><path d="M564.3 134.9l2.8 .1 3 -.6 3 -1.1 2.4 -1.6 2.3 -2.2 1.7 -2.4 1.1 -2.4 .7 -3 .2 -2.9 -.5 -3 -1 -3 -1.5 -2.4 -1.8 -2.1 -2.4 -1.9 -3 -1.4 -3 -.8 -3 -.2 -2.9 .4 -3 1.1 -2.4 1.4 -2.4 2.1 -1.9 2.6 -1.4 3 -.7 3 -.1 3 .5 2.9 1.2 3 1.5 2.4 2.1 2.2 2.4 1.8 3 1.3 3.1 .7z" fill="#efb92f"/><path d="M562.6 133.7l2.7 .4 3 -.2 3 -.8 2.4 -1.2 2.3 -1.8 1.9 -2.1 1.5 -2.7 .8 -2.4 .4 -2.9 -.2 -3 -.9 -3 -1.2 -2.4 -2 -2.4 -2 -1.7 -2.4 -1.3 -3 -1 -3 -.3 -2.4 .2 -2.9 .8 -2.4 1.3 -2.4 1.9 -1.7 1.9 -1.4 2.4 -1 3 -.3 2.4 .2 2.9 .8 3 1.1 2.4 1.9 2.4 2.2 1.9 2.4 1.4 2.6 .9z" fill="#e5962f"/><path d="M564.7 133.1l3 0 2.4 -.6 2.4 -1 2.1 -1.4 1.8 -1.8 1.7 -2.4 1 -2.4 .5 -2.3 0 -3 -.5 -2.4 -.9 -2.4 -1.5 -2.4 -1.8 -1.9 -2.4 -1.6 -2.4 -1 -2.4 -.5 -3 -.1 -2.3 .4 -2.4 .9 -2.4 1.6 -1.8 1.6 -1.7 2.4 -1.1 2.4 -.6 3 0 3 .5 2.3 1 2.4 1.7 2.4 2 2 2.4 1.5 2.4 .9 2.3 .4z" fill="#e27a30"/><path d="M563.5 131.9l2.4 .3 2.4 -.3 2.4 -.7 2.2 -1.1 2 -1.6 1.6 -2 1 -1.8 .8 -2.4 .3 -2.3 -.1 -2.4 -.6 -2.4 -1.2 -2.4 -1.4 -1.8 -2 -1.8 -2 -1.2 -2.4 -.8 -2.4 -.3 -2.4 .1 -2.3 .6 -2.4 1.1 -2.2 1.7 -1.5 1.8 -1.4 2.4 -.7 2.4 -.3 2.4 .2 2.3 .7 2.4 1.3 2.4 1.5 1.9 1.8 1.5 2.4 1.3 2.3 .7z" fill="#dc5f2c"/><path d="M563.3 130.7l2 .3 2.4 -.1 2.4 -.6 1.8 -.9 1.8 -1.3 1.8 -2 1.1 -2 .7 -2.2 .2 -1.9 -.1 -2.4 -.7 -2.4 -.9 -1.8 -1.5 -1.9 -1.8 -1.5 -1.8 -1 -2.4 -.8 -1.8 -.2 -2.4 .1 -2.3 .7 -2 1 -1.6 1.2 -1.6 1.8 -1 1.8 -.9 2.4 -.2 1.8 .1 2.4 .6 2.3 .8 1.8 1.6 2.1 1.7 1.5 1.9 1.1 2.1 .7z" fill="#d44428"/><path d="M563.5 129.5l1.8 .3 2.4 -.1 1.8 -.5 1.8 -.8 1.7 -1.3 1.3 -1.5 1.2 -2.1 .6 -1.8 .2 -1.7 -.2 -2.4 -.5 -1.8 -.9 -1.8 -1.4 -1.8 -1.4 -1.2 -1.8 -1 -1.8 -.6 -1.8 -.2 -2.4 .1 -1.7 .5 -1.8 .9 -1.8 1.4 -1.1 1.3 -1.1 1.8 -.6 1.8 -.3 1.8 .1 2.4 .5 1.7 .8 1.8 1.1 1.5 1.6 1.5 2 1.2 1.7 .6z" fill="#cf2a27"/><path d="M564.5 128.3l2 .1 1.8 -.3 1.8 -.7 1.2 -.7 1.2 -1.1 1.1 -1.5 .7 -1.3 .5 -1.6 .1 -1.8 -.2 -1.8 -.6 -1.8 -.6 -1.2 -1 -1.2 -1.2 -1.1 -1.2 -.7 -1.8 -.7 -1.8 -.3 -1.8 .1 -1.8 .4 -1.7 .9 -1.7 1.4 -1 1.2 -.6 1.2 -.6 1.8 -.2 1.8 .1 1.8 .5 1.7 1 1.8 1.1 1.2 1.4 1.1 1.7 .9 1.6 .4z" fill="#c0222a"/><path d="M564.0 126.5l1.3 .3 1.8 -.1 2.4 -.8 1.2 -.8 .9 -1 .8 -1.2 .5 -1.2 .3 -1.1 .1 -1.8 -.7 -2.4 -.7 -1.2 -1.1 -1.2 -1.3 -.9 -1.2 -.5 -1.2 -.3 -1.8 -.1 -1.8 .4 -1.1 .6 -1.2 .8 -1.1 1.2 -.7 1.2 -.4 1.2 -.3 1.2 .1 1.8 .8 2.3 .8 1.2 1.2 1.2 1.3 .8 1.1 .4z" fill="#9e2228"/><path d="M563.7 124.1l1 .4 1.2 .2 1.8 -.3 1.8 -1.1 1.2 -1.7 .3 -1 .2 -1.2 -.4 -1.8 -1.2 -1.8 -1.9 -1.2 -1.8 -.3 -1.8 .4 -1.7 1.2 -1.2 1.7 -.4 1.8 .4 1.9 1 1.6 1.5 1.2z" fill="#7f1f24"/></g>
<rect x="517.20" y="1.40" width="239.85" height="239.50" fill="none" stroke="#000" stroke-width="2.3"/>
<line x1="562.35" y1="240.90" x2="562.35" y2="229.40" stroke="#000" stroke-width="2.9"/>
<line x1="517.20" y1="195.90" x2="528.70" y2="195.90" stroke="#000" stroke-width="2.9"/>
<line x1="637.10" y1="240.90" x2="637.10" y2="229.40" stroke="#000" stroke-width="2.9"/>
<line x1="517.20" y1="121.15" x2="528.70" y2="121.15" stroke="#000" stroke-width="2.9"/>
<line x1="711.85" y1="240.90" x2="711.85" y2="229.40" stroke="#000" stroke-width="2.9"/>
<line x1="517.20" y1="46.40" x2="528.70" y2="46.40" stroke="#000" stroke-width="2.9"/>
<line x1="524.98" y1="240.90" x2="524.98" y2="234.90" stroke="#000" stroke-width="2.0"/>
<line x1="517.20" y1="233.28" x2="523.20" y2="233.28" stroke="#000" stroke-width="2.0"/>
<line x1="599.73" y1="240.90" x2="599.73" y2="234.90" stroke="#000" stroke-width="2.0"/>
<line x1="517.20" y1="158.53" x2="523.20" y2="158.53" stroke="#000" stroke-width="2.0"/>
<line x1="674.48" y1="240.90" x2="674.48" y2="234.90" stroke="#000" stroke-width="2.0"/>
<line x1="517.20" y1="83.78" x2="523.20" y2="83.78" stroke="#000" stroke-width="2.0"/>
<line x1="749.23" y1="240.90" x2="749.23" y2="234.90" stroke="#000" stroke-width="2.0"/>
<line x1="517.20" y1="9.03" x2="523.20" y2="9.03" stroke="#000" stroke-width="2.0"/>
<text transform="translate(544.34,271.90) scale(1.1494,1)" font-family="Liberation Serif, DejaVu Serif, serif" font-size="29.80" fill="#000">−5</text>
<text transform="translate(470.29,206.30) scale(1.1494,1)" font-family="Liberation Serif, DejaVu Serif, serif" font-size="29.80" fill="#000">−5</text>
<text transform="translate(629.65,271.90) scale(1.0000,1)" font-family="Liberation Serif, DejaVu Serif, serif" font-size="29.80" fill="#000">0</text>
<text transform="translate(491.63,131.55) scale(1.0000,1)" font-family="Liberation Serif, DejaVu Serif, serif" font-size="29.80" fill="#000">0</text>
<text transform="translate(704.12,271.90) scale(1.0000,1)" font-family="Liberation Serif, DejaVu Serif, serif" font-size="29.80" fill="#000">5</text>
<text transform="translate(491.66,56.80) scale(1.0000,1)" font-family="Liberation Serif, DejaVu Serif, serif" font-size="29.80" fill="#000">5</text>
<text transform="translate(543.06,35.21) scale(1.0353,1)" font-family="Liberation Serif, DejaVu Serif, serif" font-weight="bold" font-size="40.36" fill="#000">(b)</text>
<text transform="translate(606.34,35.89) scale(1.0710,1)" font-family="Liberation Serif, DejaVu Serif, serif" font-style="italic" font-size="41.55" fill="#000">t</text>
<text transform="translate(629.37,35.87) scale(1.4850,1)" font-family="Liberation Serif, DejaVu Serif, serif" font-size="35.60" fill="#000">=</text>
<text transform="translate(668.11,35.63) scale(0.9603,1)" font-family="Liberation Serif, DejaVu Serif, serif" font-size="38.09" fill="#000">0</text>
<text transform="translate(589.05,317.80) scale(0.9859,1)" font-family="Liberation Serif, DejaVu Serif, serif" font-size="40.48" fill="#000">Re</text>
<text transform="translate(634.81,317.93) scale(0.8040,1)" font-family="Liberation Serif, DejaVu Serif, serif" font-size="42.13" fill="#000">(</text>
<text transform="translate(647.07,317.43) scale(1.1421,1)" font-family="Liberation Serif, DejaVu Serif, serif" font-style="italic" font-size="36.10" fill="#000">α</text>
<text transform="translate(671.90,317.93) scale(0.8133,1)" font-family="Liberation Serif, DejaVu Serif, serif" font-size="42.13" fill="#000">)</text>
<text transform="translate(490.00,168.40) rotate(-90) translate(-1.45,0) scale(1.0321,1)" font-family="Liberation Serif, DejaVu Serif, serif" font-size="38.79" fill="#000">Im</text>
<text transform="translate(490.73,120.60) rotate(-90) translate(-1.45,0) scale(0.7856,1)" font-family="Liberation Serif, DejaVu Serif, serif" font-size="42.13" fill="#000">(</text>
<text transform="translate(490.81,109.70) rotate(-90) translate(-1.20,0) scale(1.0719,1)" font-family="Liberation Serif, DejaVu Serif, serif" font-style="italic" font-size="37.56" fill="#000">α</text>
<text transform="translate(490.73,86.10) rotate(-90) translate(-1.22,0) scale(0.8965,1)" font-family="Liberation Serif, DejaVu Serif, serif" font-size="42.13" fill="#000">)</text>
<rect x="774.30" y="55.90" width="50.70" height="6.77" fill="#7f1f24"/>
<rect x="774.30" y="62.27" width="50.70" height="6.77" fill="#9e2228"/>
<rect x="774.30" y="68.64" width="50.70" height="6.77" fill="#c0222a"/>
<rect x="774.30" y="75.02" width="50.70" height="6.77" fill="#cf2a27"/>
<rect x="774.30" y="81.39" width="50.70" height="6.77" fill="#d44428"/>
<rect x="774.30" y="87.76" width="50.70" height="6.77" fill="#dc5f2c"/>
<rect x="774.30" y="94.13" width="50.70" height="6.77" fill="#e27a30"/>
<rect x="774.30" y="100.51" width="50.70" height="6.77" fill="#e5962f"/>
<rect x="774.30" y="106.88" width="50.70" height="6.77" fill="#efb92f"/>
<rect x="774.30" y="113.25" width="50.70" height="6.77" fill="#f4da30"/>
<rect x="774.30" y="119.62" width="50.70" height="6.77" fill="#e4e43a"/>
<rect x="774.30" y="126.00" width="50.70" height="6.77" fill="#d0dd44"/>
<rect x="774.30" y="132.37" width="50.70" height="6.77" fill="#bfd44c"/>
<rect x="774.30" y="138.74" width="50.70" height="6.77" fill="#acc95c"/>
<rect x="774.30" y="145.11" width="50.70" height="6.77" fill="#a2c76a"/>
<rect x="774.30" y="151.49" width="50.70" height="6.77" fill="#97c47b"/>
<rect x="774.30" y="157.86" width="50.70" height="6.77" fill="#8ec39a"/>
<rect x="774.30" y="164.23" width="50.70" height="6.77" fill="#8cc6b5"/>
<rect x="774.30" y="170.60" width="50.70" height="6.77" fill="#7cc4d5"/>
<rect x="774.30" y="176.98" width="50.70" height="6.77" fill="#6ec1ee"/>
<rect x="774.30" y="183.35" width="50.70" height="6.77" fill="#649fd6"/>
<rect x="774.30" y="189.72" width="50.70" height="6.77" fill="#5a7fc2"/>
<rect x="774.30" y="196.09" width="50.70" height="6.77" fill="#5270b5"/>
<rect x="774.30" y="202.47" width="50.70" height="6.77" fill="#4860ab"/>
<rect x="774.30" y="208.84" width="50.70" height="6.77" fill="#4459a6"/>
<rect x="774.30" y="215.21" width="50.70" height="6.77" fill="#4157a5"/>
<rect x="774.30" y="221.58" width="50.70" height="6.77" fill="#3d509f"/>
<rect x="774.30" y="227.96" width="50.70" height="6.77" fill="#3a4699"/>
<rect x="774.30" y="234.33" width="50.70" height="6.77" fill="#2f3785"/>
<rect x="774.30" y="55.90" width="50.70" height="184.80" fill="none" stroke="#000" stroke-width="2.1"/>
<text transform="translate(778.47,24.58) scale(1.1247,1)" font-family="Liberation Serif, DejaVu Serif, serif" font-style="italic" font-size="34.18" fill="#000">W</text>
<text transform="translate(815.60,24.91) scale(0.8720,1)" font-family="Liberation Serif, DejaVu Serif, serif" font-size="36.61" fill="#000">(</text>
<text transform="translate(826.83,24.77) scale(1.1265,1)" font-family="Liberation Serif, DejaVu Serif, serif" font-style="italic" font-size="31.75" fill="#000">α</text>
<text transform="translate(848.25,24.91) scale(0.8082,1)" font-family="Liberation Serif, DejaVu Serif, serif" font-size="36.61" fill="#000">)</text>
<text transform="translate(834.46,129.41) scale(1.0102,1)" font-family="Liberation Serif, DejaVu Serif, serif" font-size="29.79" fill="#000">10</text>
<text transform="translate(864.59,120.88) scale(1.3719,1)" font-family="Liberation Serif, DejaVu Serif, serif" font-size="22.09" fill="#000">−</text>
<text transform="translate(882.23,119.00) scale(1.0735,1)" font-family="Liberation Serif, DejaVu Serif, serif" font-size="20.90" fill="#000">1</text>
<text transform="translate(834.46,251.41) scale(1.0102,1)" font-family="Liberation Serif, DejaVu Serif, serif" font-size="29.79" fill="#000">10</text>
<text transform="translate(864.59,242.88) scale(1.3719,1)" font-family="Liberation Serif, DejaVu Serif, serif" font-size="22.09" fill="#000">−</text>
<text transform="translate(882.34,240.90) scale(1.1609,1)" font-family="Liberation Serif, DejaVu Serif, serif" font-size="20.84" fill="#000">2</text>
<defs><clipPath id="cc"><rect x="118.00" y="336.30" width="236.30" height="236.70"/></clipPath></defs>
<g clip-path="url(#cc)"><path d="M156.5 471.8l10.5 .4 6.5 0 8.3 -.5 7.1 -.9 6.5 -1.2 7.7 -1.7 27.7 -7.7 7.1 -1.7 1.8 -.3 -.5 -.6 -7.8 -2.7 -21.2 -8.7 -10.6 -4 -10.1 -3.2 -8.9 -2.3 -9.4 -1.7 -8.3 -.7 -4.7 .1 -4.8 .5 -4.1 .6 -4.1 .9 -4.2 1.3 -3.5 1.3 -3.6 1.7 -2.4 1.5 -2.3 1.8 -2.3 2.4 -1.5 2.3 -.8 2.4 -.3 2.4 .4 2.3 1 2.4 1.7 2.4 2.4 2.2 2.4 1.7 2.9 1.7 4.2 1.8 3.5 1.2 4.1 1.1 5.4 1 4.2 .5zM305.8 470.0l5.4 .4 6.5 -.6 5.9 -1.3 5.3 -2 3.9 -2.4 1.4 -1.2 1.5 -1.8 .8 -1.1 .7 -1.8 .3 -1.8 -.1 -1.8 -.6 -1.7 -.7 -1.2 -1.3 -1.7 -1.3 -1.3 -3.4 -2.3 -4.7 -2.1 -4.8 -1.3 -5.3 -.9 -8.8 -.4 -6.5 .1 -6.5 .6 -6 1 -5.9 1.4 -5.3 1.9 -4.4 2 -2.5 1.8 -1.3 1.8 0 2.4 .6 1.1 1.1 1.2 3.1 2.4 4.2 2.3 5.1 2.4 5.9 2.1 5.9 1.7 6 1.3 5.8 .8z" fill="#2f3785"/><path d="M165.2 471.8l7.1 .1 7.7 -.5 8.3 -1 7.1 -1.3 10 -2.4 12.7 -3.8 10.5 -3.5 2.5 -1.2 .5 -.6 -.2 -.6 -.6 -.6 -2.1 -1.2 -15 -6.8 -13 -5.2 -6.5 -2.3 -5.9 -1.8 -10 -2.5 -6 -1 -4.7 -.6 -5.9 -.3 -8.3 .6 -4.7 .8 -4.1 .9 -4.2 1.3 -2.9 1.2 -3.6 1.8 -2.3 1.6 -2.4 1.9 -1.9 2.2 -1.3 2.3 -.6 1.8 -.3 2.4 .4 2.3 1.1 2.4 1.4 2 2.1 2.1 2.7 2 2.9 1.7 3 1.3 3.5 1.3 4.1 1.2 4.8 .9 4.1 .6 10 .5zM308.3 469.4l2.3 .1 3.5 -.1 5.9 -.9 5.4 -1.6 4.1 -1.9 1.8 -1.2 1.7 -1.5 1 -1.2 1.1 -1.7 .5 -1.2 .3 -1.8 -.2 -1.8 -.3 -1.1 -1 -1.8 -.9 -1.2 -2.7 -2.3 -3.7 -2.1 -4.7 -1.7 -4.7 -1.1 -4.7 -.5 -8.3 -.3 -7.1 .3 -5.9 .7 -5.3 1 -5.3 1.5 -4.3 1.6 -3.5 1.7 -2.2 1.8 -1.1 1.8 -.1 .6 .2 1.1 .6 1.2 1.1 1.2 3.1 2.4 4.3 2.3 5.4 2.4 5.9 2 5.3 1.4 5.9 1.1 6.6 .8z" fill="#3a4699"/><path d="M159.5 471.2l9.3 .3 7.1 -.2 8.9 -.8 7.6 -1.3 10.1 -2.3 10 -3 9.1 -3.3 2.6 -1.2 1.7 -1.2 .5 -.6 .1 -.6 -.7 -1.2 -2.5 -1.7 -5.6 -3 -7.7 -3.5 -7.5 -3.2 -6.5 -2.4 -7.7 -2.5 -9.5 -2.3 -9.4 -1.6 -6.5 -.5 -7.7 .4 -7.7 1.2 -4.1 1.1 -3.6 1.3 -2.9 1.3 -3 1.6 -2.8 2 -1.9 1.8 -1.4 1.8 -1.2 2.3 -.6 2.4 0 1.8 .6 2.3 .8 1.8 1.8 2.4 1.9 1.7 2.4 1.8 2.8 1.6 3.5 1.6 3.6 1.2 4.1 1.1 3.6 .7 4.1 .6 4.3 .3zM305.4 468.2l4.6 .5 5.9 -.4 5.3 -1.1 4.8 -1.7 3.5 -2 2.6 -2.4 .9 -1.2 .8 -1.7 .3 -1.2 0 -1.8 -.5 -1.7 -.6 -1.2 -2 -2.4 -3.3 -2.3 -4.1 -1.8 -4.1 -1.2 -4.8 -.8 -7.7 -.3 -5.9 0 -5.9 .5 -5.3 .8 -4.7 1 -4.7 1.5 -3.4 1.4 -2.9 1.8 -1.6 1.8 -.3 .6 -.1 1.2 .7 1.7 1.1 1.2 1.4 1.2 3.7 2.4 4.3 2 5.3 2 5.3 1.5 5.4 1.2 6 .9z" fill="#3d509f"/><path d="M156.8 470.6l10.8 .5 7.1 -.1 7.7 -.7 8.3 -1.2 10 -2.4 9.5 -2.9 8.2 -3.2 2.1 -1.2 1.5 -1.2 .6 -1.2 -.1 -.6 -.7 -1.2 -2.2 -1.7 -4 -2.4 -6.6 -3.3 -7.1 -3 -7.1 -2.7 -6.5 -2.1 -8.9 -2.3 -9.4 -1.6 -6.5 -.6 -7.1 .3 -3.6 .4 -4.7 .9 -6.5 1.8 -3.5 1.5 -3 1.5 -2.3 1.5 -2.1 1.8 -1.6 1.8 -1.2 1.7 -.7 1.8 -.4 2.4 .2 2.3 .7 1.8 1.4 2.4 1.6 1.7 2.1 1.8 2.3 1.5 3 1.6 3.5 1.4 3.6 1.1 4.1 1 7.5 1.1zM309.3 467.6l4.8 -.1 4.8 -.8 4.7 -1.4 3.6 -1.8 1.6 -1.2 1.3 -1.2 1.6 -2.3 .6 -2.4 -.2 -1.8 -.4 -1.1 -1.6 -2.4 -2.4 -2 -3.5 -1.9 -4.2 -1.4 -3.5 -.7 -4.1 -.5 -7.7 -.2 -5.9 .2 -5.3 .6 -4.8 .9 -4.7 1.2 -3.8 1.4 -2.7 1.5 -1.8 1.5 -.6 .8 -.3 1 -.1 .6 .4 1.1 1.3 1.8 3.2 2.4 3.3 1.7 4.6 2 5.4 1.7 5.3 1.3 5.3 .9 5.8 .6z" fill="#4157a5"/><path d="M166.0 470.6l6.9 0 7.7 -.5 7.1 -1 8.3 -1.7 8.2 -2.4 7.5 -2.7 4.8 -2.3 1.7 -1.2 .9 -1.2 .2 -.6 -.1 -1.2 -.8 -1.2 -1.3 -1.1 -3.6 -2.4 -5.6 -2.9 -7.2 -3.3 -7.7 -2.9 -7.7 -2.4 -6.1 -1.5 -8 -1.4 -7.7 -.8 -7.7 .4 -4.1 .5 -4.2 .9 -6.5 2 -2.9 1.3 -3 1.6 -2 1.4 -2.1 1.9 -1.4 1.7 -1.3 2.3 -.5 1.8 -.1 2.4 .4 1.7 .7 1.8 1.2 1.8 1.7 1.7 2.2 1.8 2.4 1.6 3 1.4 3.5 1.4 6.5 1.8 7.7 1.1 9 .4zM307.6 466.5l4.2 .1 4.7 -.5 4.1 -1 3.9 -1.6 2.7 -1.8 1.2 -1.1 .9 -1.2 .6 -1.2 .3 -1.2 .1 -1.2 -.2 -1.2 -.4 -1.1 -.8 -1.2 -1.8 -1.8 -2.9 -1.9 -3.6 -1.4 -3.5 -.9 -4.1 -.6 -7.1 -.3 -4.8 .1 -4.7 .4 -4.7 .7 -4.1 1 -3.7 1.1 -2.8 1.4 -2.4 1.6 -.8 1.2 -.2 .6 -.1 1.1 1 1.8 1.9 1.8 2.9 1.8 4.1 1.9 4.8 1.6 4.7 1.3 5.3 1 5.3 .7z" fill="#4459a6"/><path d="M161.2 470.0l8.8 .2 7.7 -.3 7.6 -.9 7.7 -1.5 8.9 -2.4 7.4 -2.8 4.5 -2.3 1.5 -1.2 .9 -1.2 .3 -.6 -.1 -1.2 -1.1 -1.7 -2.9 -2.4 -5.1 -3 -6.6 -3.1 -6.5 -2.6 -6.5 -2.2 -7.1 -1.9 -8.8 -1.7 -8.3 -.9 -6.5 .3 -5.9 .8 -7.1 1.7 -3 1.1 -2.9 1.4 -2.4 1.3 -2.4 1.7 -1.8 1.8 -1.4 1.8 -.9 1.7 -.5 1.8 -.2 1.8 .5 2.3 .7 1.8 1.3 1.8 1.7 1.7 1.8 1.6 2.4 1.4 2.9 1.5 3 1.2 3.5 1.1 7.1 1.5 7.8 .6zM307.4 465.3l3.8 .2 4.7 -.5 3.6 -.9 3.5 -1.5 2.4 -1.5 1.1 -1.1 .8 -1.2 .7 -1.8 .1 -1.2 -.3 -1.2 -.9 -1.7 -1.6 -1.8 -2.9 -1.8 -2.9 -1.2 -3 -.7 -3.5 -.5 -6.5 -.3 -4.8 .1 -4.7 .4 -4.1 .6 -4.2 1 -2.9 1 -2.7 1.4 -1.4 1.2 -.7 1.2 -.2 .6 .2 1.1 .7 1.2 2 1.8 3.1 1.8 3.1 1.3 4.1 1.4 4.2 1.1 4.7 .9 4.5 .6z" fill="#4860ab"/><path d="M158.2 469.4l9.4 .4 6.5 -.1 7.1 -.6 7.7 -1.2 8.8 -2.2 7.1 -2.5 5.6 -2.6 1.7 -1.2 1.2 -1.2 .6 -1.2 0 -.6 0 -.6 -.5 -1.2 -.9 -1.1 -1.4 -1.2 -3.4 -2.4 -5.6 -2.9 -6.1 -2.7 -6.5 -2.4 -7.1 -2.1 -8.9 -1.9 -8.2 -1 -4.8 -.1 -6.5 .6 -7.1 1.4 -5.9 2 -2.9 1.4 -2.4 1.4 -2 1.6 -1.8 1.8 -1.2 1.7 -.8 1.8 -.4 1.8 0 1.8 .4 1.7 .8 1.8 1.2 1.8 1.8 1.7 2 1.6 2.4 1.4 2.9 1.5 3 1.1 3.5 1 3.6 .8 7.1 .9zM309.1 464.1l3.3 0 3.7 -.6 3.4 -1 2.6 -1.4 2.1 -1.7 1 -1.8 .3 -1.8 -.5 -1.7 -1.4 -1.8 -1.5 -1.2 -2.2 -1.2 -2.8 -.9 -2.4 -.5 -2.9 -.4 -5.9 -.1 -4.2 .1 -4.1 .4 -3.6 .6 -3.3 .8 -2.6 1 -2.2 1.4 -1 1.2 -.2 1.1 .3 1.2 1.4 1.5 2.1 1.5 2.3 1.2 3.1 1.1 3.7 1.1 3.5 .8 8 1.1z" fill="#5270b5"/><path d="M156.7 468.8l9.7 .5 6.5 0 7.1 -.6 6.5 -.9 7.7 -1.8 7.1 -2.3 5.7 -2.6 1.9 -1.1 1.4 -1.2 1.2 -1.8 .1 -.6 -.2 -1.2 -.6 -1.1 -1 -1.2 -3 -2.4 -5.1 -2.9 -5.7 -2.7 -6.5 -2.5 -7.1 -2.1 -8.3 -1.8 -8.3 -1.1 -4.7 -.2 -6.5 .5 -6.5 1.3 -3.5 1 -3 1.1 -4.7 2.5 -2.2 1.6 -1.8 1.8 -1.3 1.7 -.8 1.8 -.4 1.8 0 1.8 .4 1.7 .8 1.8 1.2 1.6 1.3 1.4 2.2 1.7 2.4 1.5 5.3 2.3 6.5 1.8 6.2 .9zM307.2 462.3l2.8 .3 3 -.2 2.3 -.5 2.5 -.8 2.2 -1.1 1.3 -1.2 .8 -1.2 .3 -1.8 -.6 -1.7 -1.1 -1.2 -1.7 -1.2 -1.9 -.9 -2.4 -.6 -2.3 -.4 -7.1 -.2 -6.5 .5 -2.4 .4 -2.9 .9 -1.8 .7 -1.2 .8 -.9 1.2 -.1 1.1 .6 1.2 1.3 1.2 3.3 1.8 5.6 1.7 6.9 1.2z" fill="#5a7fc2"/><path d="M166.1 468.8l6.8 0 6.5 -.5 6.5 -1 7.1 -1.6 5.9 -1.9 5.3 -2.3 3.2 -2.1 1.1 -1.2 .7 -1.2 0 -1.8 -.5 -1.1 -.9 -1.2 -1.3 -1.2 -2.4 -1.8 -4.6 -2.6 -6.5 -2.9 -6.5 -2.4 -6.5 -1.8 -6.5 -1.4 -7.7 -1 -2.3 -.1 -3 0 -7.1 .7 -3.5 .7 -3.6 .9 -5.3 2 -2.3 1.3 -2.4 1.5 -1.8 1.6 -1.5 1.8 -.7 1.1 -.7 1.8 -.3 1.8 .1 1.7 .6 1.8 .6 1.2 1.4 1.8 1.7 1.6 1.8 1.3 2.3 1.4 5.4 2.3 5.9 1.5 6.5 1 8.5 .3zM305.9 460.0l4.1 .4 3.5 -.4 1.8 -.6 1.2 -.6 .8 -.6 .8 -1.2 .2 -1.2 -.5 -1.2 -.7 -.7 -1.2 -.8 -2.9 -1 -4.2 -.3 -4.1 0 -4.2 .6 -3 1.1 -.8 .6 -.5 .5 -.1 .6 .1 .6 .8 1 1.2 .8 2.9 1.3 4.8 1.1z" fill="#649fd6"/><path d="M163.6 468.2l7 .2 7.1 -.4 6.5 -.9 6.5 -1.4 5.9 -1.8 5 -2.2 2 -1.1 1.6 -1.2 1.2 -1.2 .6 -1.2 .1 -1.8 -.4 -1.1 -.9 -1.2 -2.6 -2.4 -4.3 -2.6 -5.3 -2.6 -5.9 -2.3 -5.9 -1.8 -6.5 -1.5 -7.1 -1.1 -5.3 -.5 -7.1 .5 -6.5 1.1 -5.3 1.7 -3 1.3 -2.3 1.3 -1.8 1.3 -1.9 1.7 -.9 1.2 -1.1 1.7 -.4 1.2 -.3 1.8 .1 1.7 .6 1.8 1.1 1.8 1.5 1.8 1.9 1.5 1.8 1.2 4.7 2.3 5.9 1.7 6.5 1.1 7.2 .4z" fill="#6ec1ee"/><path d="M160.1 467.6l8.1 .3 5.9 -.1 5.9 -.6 6.5 -1.1 6.5 -1.8 5.2 -2 2.3 -1.2 1.9 -1.1 1.3 -1.2 1 -1.2 .5 -1.8 -.2 -1.2 -.6 -1.1 -2.2 -2.4 -3.4 -2.4 -5.2 -2.7 -5.3 -2.2 -5.9 -1.9 -5.9 -1.5 -7.1 -1.2 -5.9 -.6 -5.9 .3 -5.9 .9 -5.9 1.6 -3 1.1 -2.4 1.2 -1.7 1.2 -1.9 1.5 -1.2 1.2 -1.3 1.7 -.7 1.8 -.3 1.2 0 1.8 .5 1.7 .9 1.8 .9 1.2 1.3 1.3 1.8 1.4 4.1 2.3 5.3 1.9 5.3 1.2 6.7 .7z" fill="#7cc4d5"/><path d="M158.9 467.1l8.1 .3 5.9 -.1 5.9 -.5 6 -1 5.9 -1.5 5.3 -1.9 3.5 -1.9 1.5 -1.1 1.2 -1.2 .9 -1.8 0 -1.2 -.3 -1.1 -.7 -1.2 -1.1 -1.2 -3 -2.4 -4.4 -2.5 -5.3 -2.3 -5.9 -2 -5.5 -1.4 -6.9 -1.3 -6.5 -.7 -5.3 .2 -5.4 .8 -5.3 1.3 -2.9 1.1 -2.4 1 -3.5 2.3 -1.4 1.2 -1.5 1.7 -.9 1.8 -.4 1.2 -.2 1.2 .2 1.7 .4 1.2 .9 1.8 1.5 1.8 1.4 1.2 1.7 1.2 2.4 1.3 4.7 1.9 5.3 1.3 6.1 .8z" fill="#8cc6b5"/><path d="M158.2 466.5l8.2 .3 5.4 0 5.9 -.5 5.3 -.8 5.9 -1.4 5 -1.8 3.8 -2 1.3 -.9 1.2 -1.2 .9 -1.8 .1 -1.2 -.3 -1.1 -1.1 -1.8 -2.7 -2.4 -4.1 -2.5 -5.3 -2.4 -5.3 -1.9 -5.9 -1.6 -6.5 -1.2 -6.5 -.7 -4.7 .2 -5.4 .7 -5.3 1.3 -4.7 1.9 -3.6 2.2 -1.7 1.5 -1.1 1.3 -.8 1.2 -.6 1.8 -.2 1.2 .2 1.7 .6 1.8 .8 1.2 2.2 2.4 3.6 2.3 4.7 2 5.3 1.4 5.4 .8z" fill="#8ec39a"/><path d="M157.8 465.9l8 .4 5.4 0 5.9 -.5 4.7 -.7 5.3 -1.2 4.7 -1.7 3.6 -1.8 1.5 -1 1.2 -1.2 1 -1.8 .2 -1.2 -.3 -1.1 -1 -1.8 -2.6 -2.4 -3.8 -2.3 -4.5 -2.1 -5.3 -1.9 -5.3 -1.5 -6.5 -1.2 -6.5 -.7 -4.2 .1 -4.7 .6 -5.3 1.2 -4.7 1.8 -3.6 2.1 -1.7 1.5 -1.1 1.2 -1.3 2.4 -.3 1.2 0 1.8 .5 1.7 .6 1.2 2.1 2.4 3.4 2.3 4.3 2 4.8 1.3 5.5 .9z" fill="#97c47b"/><path d="M157.8 465.3l8 .4 4.8 0 5.3 -.4 5.3 -.8 5.3 -1.3 4.2 -1.5 3.3 -1.7 2.1 -1.8 1.1 -1.8 .1 -1.2 -.2 -1.1 -1 -1.8 -2.5 -2.4 -3.5 -2.2 -4.2 -1.9 -4.7 -1.7 -5.3 -1.5 -6.5 -1.2 -5.9 -.6 -4.2 .1 -4.1 .5 -5.3 1.2 -4.1 1.6 -3.9 2.2 -2.5 2.3 -1.3 2.4 -.3 1.2 0 1.8 .5 1.7 .7 1.2 2 2.3 3 2 4.1 1.9 4.7 1.3 5 .8z" fill="#a2c76a"/><path d="M158.0 464.7l7.8 .4 4.8 0 5.3 -.4 4.7 -.8 4.7 -1.1 4.3 -1.7 3.1 -1.7 1.8 -1.8 .8 -1.8 -.1 -1.7 -.9 -1.8 -2.5 -2.4 -2.9 -1.8 -4.1 -2 -4.8 -1.7 -4.7 -1.3 -5.9 -1.1 -5.9 -.6 -3.6 .1 -4.1 .4 -4.7 1.1 -4.2 1.4 -3.5 2 -1.5 1.2 -1.2 1.1 -1.4 2.4 -.3 1.2 0 1.8 .9 2.3 2 2.4 3.3 2.2 3.5 1.6 4.1 1.2 5.2 .9z" fill="#acc95c"/><path d="M158.5 464.1l7.3 .4 4.2 0 4.7 -.4 4.7 -.7 4.4 -1.1 3.9 -1.4 2.8 -1.5 1.9 -1.8 .9 -1.8 0 -1.7 -.9 -1.8 -1.1 -1.2 -1.4 -1.2 -2.8 -1.7 -4.1 -2 -4.2 -1.4 -5.1 -1.4 -4.9 -.8 -5.3 -.6 -4.2 .2 -4.1 .5 -4.1 1 -4.2 1.6 -2.9 1.8 -2.3 2.2 -.8 1.2 -.4 1.2 -.2 1.2 0 1.2 .4 1.1 .6 1.2 .9 1.2 1.2 1.2 2.9 1.9 3.6 1.6 4.1 1.1 4.5 .7z" fill="#bfd44c"/><path d="M159.5 463.5l6.3 .3 4.2 0 4.7 -.4 4.1 -.7 4.2 -1 3.5 -1.4 2.5 -1.5 1.7 -1.8 .7 -1.8 -.3 -1.7 -1.2 -1.8 -2 -1.8 -2.9 -1.7 -3.8 -1.8 -4.1 -1.4 -4.2 -1 -4.7 -.8 -4.7 -.5 -4.2 .1 -4.1 .6 -4.1 1.1 -3.6 1.5 -2.9 1.9 -1.9 2 -.6 1.2 -.4 1.2 0 1.2 .2 1.1 .5 1.2 .8 1.2 1.8 1.8 2.9 1.8 3.2 1.2 4.1 1.1 4.3 .6z" fill="#d0dd44"/><path d="M161.5 462.9l5.5 .2 3.6 -.1 4.1 -.4 4.1 -.8 3.6 -1 3.2 -1.4 1.8 -1.2 1.5 -1.8 .4 -1.8 -.5 -1.7 -1.5 -1.8 -2.3 -1.8 -3.2 -1.7 -3.5 -1.4 -4.2 -1.2 -4.1 -.8 -4.2 -.6 -3.5 -.2 -4.7 .4 -4 .8 -3.7 1.3 -3 1.6 -2.1 1.8 -1.2 1.8 -.5 1.8 .1 1.2 .4 1.1 1.2 1.8 2.1 1.9 3 1.6 3.5 1.2 4.2 .9 3.9 .3z" fill="#e4e43a"/><path d="M157.5 461.7l3.6 .4 5.3 .2 4.2 -.1 3.5 -.4 3.6 -.7 3.5 -1 2.8 -1.3 1.6 -1.2 1 -1.2 .5 -1.8 -.5 -1.7 -1.4 -1.8 -2.2 -1.6 -2.5 -1.3 -3.4 -1.4 -3.6 -1.1 -4.7 -.9 -4.7 -.6 -3 0 -2.9 .3 -3.6 .7 -3.5 1.2 -2.4 1.2 -2.2 1.7 -1.3 1.8 -.5 1.8 .3 1.7 .6 1.2 .7 1 1.8 1.6 3 1.6 2.9 1 3.5 .7z" fill="#f4da30"/><path d="M159.7 461.1l8.5 .3 3.6 -.2 2.9 -.5 3.3 -.7 2.6 -1 2.3 -1.4 1.2 -1.2 .6 -1.2 -.1 -1.7 -1.2 -1.8 -1.3 -1.2 -2.1 -1.3 -2.9 -1.3 -3 -1.1 -3.5 -.8 -3.6 -.6 -3.5 -.4 -3.6 .2 -2.9 .4 -3 .8 -2.9 1.2 -1.9 1.1 -1.8 1.8 -.8 1.8 0 1.8 .8 1.7 1 1.2 2.1 1.5 2.3 1.1 3.3 1 3.6 .5z" fill="#efb92f"/><path d="M158.2 460.0l2.9 .3 4.7 .2 3.6 -.1 2.9 -.3 3 -.6 2.4 -.8 2.2 -1.1 1.3 -1.1 .8 -1.3 .2 -1.1 -.4 -1.2 -.9 -1.2 -1.4 -1.2 -2.4 -1.3 -2.5 -1 -3.4 -1.1 -3.6 -.7 -3.5 -.4 -4.8 .2 -2.9 .6 -2.5 .8 -2.4 1.1 -1.5 1.2 -1 1.2 -.6 1.8 .3 1.7 .8 1.2 1.2 1.2 2.1 1.3 2.4 .9 3 .8z" fill="#e5962f"/><path d="M164.6 459.4l5.4 -.2 4.6 -1 1.9 -.8 1.6 -1 .7 -.9 .4 -.9 0 -1.1 -.7 -1.2 -1.2 -1.2 -1.4 -.9 -1.8 -.9 -2.9 -1 -5.4 -1 -2.3 -.3 -2.4 .1 -2.9 .5 -2.4 .6 -2.4 1.1 -1.1 .9 -1.3 1.5 -.3 1.2 .1 1.2 .6 1.1 1.2 1.2 2 1.2 1.8 .7 2.4 .6 2.3 .3 3.5 .2z" fill="#e27a30"/><path d="M159.4 457.6l2.3 .3 3 .1 4.1 -.2 3.7 -.8 2.2 -1.2 .6 -.6 .5 -1.1 -.1 -.6 -.6 -1.2 -1.5 -1.2 -1.1 -.6 -3.7 -1.3 -4.7 -.8 -3.6 .2 -3.5 .9 -1.2 .5 -1.4 1.1 -.5 .6 -.5 1.2 .2 1.2 .3 .5 1.1 1.2 1 .6 1.6 .7 1.8 .5z" fill="#dc5f2c"/><path d="M160.7 455.8l2.2 .3 3.5 -.1 2.4 -.5 1.7 -.9 .4 -.5 0 -.6 -.3 -.8 -1.3 -1 -2.3 -.9 -2.3 -.4 -2.4 -.1 -2.4 .4 -1.8 1 -.6 .6 -.2 .6 0 .6 .2 .6 .6 .5 .9 .6 1.7 .6z" fill="#d44428"/></g>
<rect x="118.00" y="336.30" width="236.30" height="236.70" fill="none" stroke="#000" stroke-width="2.3"/>
<line x1="162.30" y1="573.00" x2="162.30" y2="561.50" stroke="#000" stroke-width="2.9"/>
<line x1="118.00" y1="528.50" x2="129.50" y2="528.50" stroke="#000" stroke-width="2.9"/>
<line x1="236.15" y1="573.00" x2="236.15" y2="561.50" stroke="#000" stroke-width="2.9"/>
<line x1="118.00" y1="454.65" x2="129.50" y2="454.65" stroke="#000" stroke-width="2.9"/>
<line x1="310.00" y1="573.00" x2="310.00" y2="561.50" stroke="#000" stroke-width="2.9"/>
<line x1="118.00" y1="380.80" x2="129.50" y2="380.80" stroke="#000" stroke-width="2.9"/>
<line x1="125.38" y1="573.00" x2="125.38" y2="567.00" stroke="#000" stroke-width="2.0"/>
<line x1="118.00" y1="565.42" x2="124.00" y2="565.42" stroke="#000" stroke-width="2.0"/>
<line x1="199.23" y1="573.00" x2="199.23" y2="567.00" stroke="#000" stroke-width="2.0"/>
<line x1="118.00" y1="491.57" x2="124.00" y2="491.57" stroke="#000" stroke-width="2.0"/>
<line x1="273.07" y1="573.00" x2="273.07" y2="567.00" stroke="#000" stroke-width="2.0"/>
<line x1="118.00" y1="417.72" x2="124.00" y2="417.72" stroke="#000" stroke-width="2.0"/>
<line x1="346.93" y1="573.00" x2="346.93" y2="567.00" stroke="#000" stroke-width="2.0"/>
<line x1="118.00" y1="343.88" x2="124.00" y2="343.88" stroke="#000" stroke-width="2.0"/>
<text transform="translate(142.95,370.20) scale(1.0197,1)" font-family="Liberation Serif, DejaVu Serif, serif" font-weight="bold" font-size="41.36" fill="#000">(c)</text>
<text transform="translate(202.14,369.50) scale(1.0987,1)" font-family="Liberation Serif, DejaVu Serif, serif" font-style="italic" font-size="40.51" fill="#000">t</text>
<text transform="translate(225.53,372.45) scale(1.4327,1)" font-family="Liberation Serif, DejaVu Serif, serif" font-size="36.00" fill="#000">=</text>
<text transform="translate(263.21,370.51) scale(0.9480,1)" font-family="Liberation Serif, DejaVu Serif, serif" font-size="39.73" fill="#000">5Γ</text>
<text transform="translate(71.09,538.90) scale(1.1494,1)" font-family="Liberation Serif, DejaVu Serif, serif" font-size="29.80" fill="#000">−5</text>
<text transform="translate(92.43,465.05) scale(1.0000,1)" font-family="Liberation Serif, DejaVu Serif, serif" font-size="29.80" fill="#000">0</text>
<text transform="translate(92.46,391.20) scale(1.0000,1)" font-family="Liberation Serif, DejaVu Serif, serif" font-size="29.80" fill="#000">5</text>
<text transform="translate(49.30,501.65) rotate(-90) translate(-1.45,0) scale(1.0321,1)" font-family="Liberation Serif, DejaVu Serif, serif" font-size="38.79" fill="#000">Im</text>
<text transform="translate(50.03,453.85) rotate(-90) translate(-1.45,0) scale(0.7856,1)" font-family="Liberation Serif, DejaVu Serif, serif" font-size="42.13" fill="#000">(</text>
<text transform="translate(50.11,442.95) rotate(-90) translate(-1.20,0) scale(1.0719,1)" font-family="Liberation Serif, DejaVu Serif, serif" font-style="italic" font-size="37.56" fill="#000">α</text>
<text transform="translate(50.03,419.35) rotate(-90) translate(-1.22,0) scale(0.8965,1)" font-family="Liberation Serif, DejaVu Serif, serif" font-size="42.13" fill="#000">)</text>
<defs><clipPath id="cd"><rect x="361.70" y="336.30" width="236.20" height="236.70"/></clipPath></defs>
<g clip-path="url(#cd)"><path d="M399.1 471.8l5.7 .4 11.2 .1 8.3 -.7 7.6 -1.2 6.5 -1.4 8.3 -2.1 25.4 -7.8 8.1 -2.1 .6 -.6 -1 -.2 -6.5 -2.4 -20.7 -8.3 -8.8 -3.4 -9.5 -3.1 -9.4 -2.5 -9.5 -1.6 -8.9 -.8 -4.1 .2 -4.1 .4 -4.2 .6 -3.5 .8 -3.6 1 -3.5 1.3 -3.5 1.7 -2.4 1.4 -2.5 1.9 -2.2 2.3 -1.4 1.9 -1.1 2.3 -.5 2.4 .1 2.3 .6 2.4 1.3 2.4 1.9 2.3 2.6 2.3 2.4 1.6 3.5 1.8 4.2 1.6 4.1 1.3 3.5 .8 5 .7zM551.8 471.8l7.2 -.4 7.1 -1.2 5.9 -1.8 2.9 -1.2 2.5 -1.3 2.2 -1.6 1.7 -1.4 1.6 -1.8 1.1 -1.7 .6 -1.8 .2 -1.8 -.1 -1.7 -.6 -1.8 -1 -1.8 -1.5 -1.8 -2 -1.7 -1.7 -1.2 -2.4 -1.3 -2.9 -1.3 -6 -1.9 -6.5 -1.2 -7 -.5 -8.3 .2 -8.3 .8 -7.1 1.3 -5.9 1.4 -6.5 2.1 -5.3 2.2 -4.5 2.3 -3.3 2.4 -1.6 1.9 0 2.4 1.2 1.6 1.4 1.2 4.7 2.9 5.6 2.6 7.1 2.5 7.1 1.9 7.7 1.4 7.1 .8 7.6 .3z" fill="#2f3785"/><path d="M404.4 471.8l8.6 .1 7.1 -.3 7.1 -.8 8.3 -1.6 9.4 -2.4 10.1 -3.1 11.9 -4.3 2.9 -1.2 2 -1.2 .4 -.6 -.1 -.6 -.5 -.6 -3 -1.7 -4.9 -2.4 -7.8 -3.5 -8 -3.3 -7.7 -2.9 -6.5 -2.1 -8.3 -2.2 -9.4 -1.8 -8.9 -.8 -7.1 .3 -7.6 1.3 -4.2 1.1 -3.5 1.2 -3 1.4 -2.9 1.6 -2.4 1.7 -2.3 2.1 -1.4 1.8 -1.3 2.3 -.6 2.4 -.1 2.4 .5 2.3 1.1 2.4 1.3 1.8 2.2 2.2 2.4 1.7 2.9 1.8 3.6 1.6 3.5 1.3 4.2 1.1 3.5 .7 4.1 .5 4.4 .3zM547.2 471.2l7.6 .1 7.1 -.8 6.5 -1.4 3 -1 2.9 -1.3 2.4 -1.3 2.1 -1.4 1.4 -1.2 1.7 -1.8 1.1 -1.7 .6 -1.8 .3 -1.8 -.2 -1.7 -.6 -1.8 -1 -1.8 -1.3 -1.5 -1.6 -1.4 -1.9 -1.4 -2.4 -1.4 -5.3 -2.1 -5.9 -1.5 -7.1 -1 -7.1 -.1 -7.7 .4 -7.1 .9 -6.5 1.3 -6.5 1.8 -5.9 2.1 -5.6 2.7 -3.4 2.4 -1.3 1.2 -.8 1.2 -.3 1.1 0 .6 .5 1.2 .9 1.2 2.9 2.4 4.8 2.7 5.9 2.4 7.1 2.3 7.1 1.6 7.1 1.1 6.5 .5z" fill="#3a4699"/><path d="M401.3 471.2l9.4 .3 7.1 -.2 8.2 -.8 7.7 -1.4 9.5 -2.4 10.6 -3.4 5.5 -2.2 3.9 -1.7 2.2 -1.2 1.4 -1.2 .3 -.6 .1 -.6 -.7 -1.2 -2.3 -1.7 -4.2 -2.4 -6.8 -3.3 -7.1 -3 -7.1 -2.7 -6.5 -2.1 -8.8 -2.3 -9.5 -1.6 -7.1 -.6 -7.1 .4 -7.6 1.2 -6.5 2 -3 1.2 -2.9 1.6 -2.4 1.6 -2.4 2.1 -1.7 2 -1 1.7 -.7 1.8 -.4 2.4 .1 1.7 .7 2.4 1.3 2.4 1.7 2 2.4 2 2.4 1.6 2.9 1.6 3 1.3 3.5 1.1 3.6 .9 4.1 .8 4.2 .5zM545.4 470.6l7.7 .2 6.5 -.4 6.5 -1.2 5.9 -2 2.3 -1.1 2.5 -1.4 1.7 -1.2 1.8 -1.8 .9 -1.1 1 -1.8 .6 -1.8 .1 -1.8 -.3 -1.7 -.8 -1.8 -1.2 -1.8 -1.2 -1.2 -1.5 -1.3 -2.4 -1.5 -4.7 -2.2 -5.9 -1.8 -6.5 -1 -5.9 -.4 -8.3 .3 -6.5 .6 -6.5 1.2 -6.5 1.6 -6.2 2.2 -5.2 2.3 -3.6 2.4 -1.4 1.2 -.9 1.2 -.5 1.1 -.1 1.2 .4 1.2 .8 1.2 2.7 2.4 4.1 2.3 5.2 2.3 5.9 2 5.9 1.5 6.5 1.1 7.1 .8z" fill="#3d509f"/><path d="M399.6 470.6l4 .3 5.9 .2 7.1 -.1 7.7 -.7 7.6 -1.3 8.9 -2.2 9.5 -3.1 7.5 -3.1 3.2 -1.8 1.5 -1.2 .8 -1.2 .1 -.6 -.4 -1.2 -1.7 -1.7 -3.6 -2.4 -5.7 -2.9 -7.1 -3.2 -6.5 -2.5 -6.5 -2.2 -7.6 -2 -8.9 -1.6 -8.3 -.8 -5.9 .3 -7.1 1 -3.5 .8 -3.6 1.2 -2.9 1.2 -3 1.4 -2.4 1.6 -2.2 1.8 -1.6 1.8 -1.3 1.8 -1 2.3 -.3 1.8 .1 2.3 .4 1.8 .8 1.8 1.8 2.4 1.8 1.7 2.2 1.7 2.3 1.4 3 1.5 2.9 1.1 4.2 1.2 4.1 .9 3.7 .5zM544.3 470.0l7.6 .3 5.9 -.3 5.9 -.9 5.9 -1.6 4.9 -2.2 2.2 -1.4 1.8 -1.4 1.2 -1.4 1.2 -1.7 .7 -1.8 .2 -1.2 0 -1.8 -.5 -1.7 -.9 -1.8 -1 -1.2 -1.5 -1.5 -1.8 -1.3 -4.1 -2.3 -5.4 -1.9 -5.9 -1.2 -6.5 -.6 -7 0 -6.5 .5 -6.5 1 -6.5 1.4 -6 1.9 -5.2 2.3 -4 2.3 -1.4 1.2 -1.1 1.2 -.7 1.2 -.3 1.1 .2 1.2 .5 1.2 1 1.2 1.3 1.2 3.6 2.3 4.4 2.1 5.3 1.9 5.9 1.7 6.5 1.2 6.6 .8z" fill="#4157a5"/><path d="M407.3 470.6l6.9 0 7.1 -.4 7.7 -1.1 7.7 -1.8 8.2 -2.5 7.1 -2.7 5.2 -2.7 1.6 -1.2 1 -1.2 .3 -.6 .1 -1.2 -.2 -.6 -.8 -1.1 -2.8 -2.4 -5 -2.9 -6.2 -3 -6.8 -2.8 -7 -2.3 -7.4 -2 -8.6 -1.6 -8.3 -.7 -7.1 .3 -6.5 1.1 -6.5 1.9 -2.9 1.2 -3 1.6 -2.2 1.5 -2.1 1.8 -1.5 1.8 -1.1 1.7 -.7 1.8 -.4 1.8 .1 2.3 .5 1.8 .8 1.8 1.3 1.8 1.8 1.9 2.4 1.8 2.3 1.4 3 1.5 3.5 1.3 3 .8 4.1 .9 3.6 .6 7.8 .4zM543.7 469.4l7 .4 5.9 -.2 6.5 -.9 5.3 -1.4 4.7 -2 3.6 -2.4 1.3 -1.2 1.4 -1.7 .7 -1.2 .6 -1.8 .1 -1.8 -.4 -1.7 -.4 -1.2 -1.2 -1.8 -2.7 -2.5 -4.1 -2.5 -4.8 -1.8 -5.9 -1.4 -6.5 -.7 -6.5 0 -6.5 .4 -6.5 .9 -5.9 1.3 -5.3 1.7 -4.7 1.9 -3.9 2.1 -2.9 2.4 -.8 1.2 -.5 1.1 0 1.8 .6 1.2 .9 1.2 2.9 2.3 4.3 2.4 5.3 2.1 5.9 1.7 5.9 1.3 6.6 .8z" fill="#4459a6"/><path d="M402.8 470.0l8.5 .3 7.1 -.3 7 -.8 7.1 -1.4 8.3 -2.3 7.1 -2.6 3.8 -1.8 2.1 -1.1 1.6 -1.2 1.2 -1.2 .5 -.6 .4 -1.2 0 -.6 -.4 -1.1 -.9 -1.2 -1.3 -1.2 -3.4 -2.4 -5.4 -2.9 -6.5 -2.9 -7.1 -2.5 -6.5 -1.9 -8.2 -1.8 -8.3 -.9 -5.3 -.1 -7.1 .7 -6.5 1.4 -5.9 2.2 -2.4 1.3 -2.4 1.5 -2.1 1.8 -1.6 1.8 -1.1 1.7 -.8 1.8 -.4 2.4 .2 1.7 .4 1.8 .9 1.8 1.3 1.8 1.7 1.7 2.1 1.7 2.4 1.4 3 1.4 2.9 1.2 6.5 1.7 3.6 .5 3.9 .4zM543.3 468.8l6.8 .5 5.9 -.2 5.3 -.6 5.3 -1.3 4.8 -1.8 2.3 -1.3 1.7 -1.2 2.4 -2.3 .8 -1.2 .8 -1.8 .3 -1.8 -.1 -1.2 -.3 -1.1 -.8 -1.8 -.9 -1.2 -1.5 -1.5 -3.5 -2.4 -4.8 -2 -5.3 -1.5 -5.9 -.8 -6.5 -.2 -6.5 .3 -5.9 .7 -5.9 1.2 -5.9 1.7 -5.2 2.2 -3.7 2.1 -2.3 2 -.8 1.2 -.5 1.1 0 1.2 .3 1.2 1.2 1.8 2.8 2.3 3.5 2 4.7 1.9 5.3 1.7 5.9 1.3 6.2 .8z" fill="#4860ab"/><path d="M401.2 469.4l8.9 .4 6.5 -.2 7.1 -.7 7.7 -1.4 7.6 -2.1 6.7 -2.5 3.4 -1.6 2.3 -1.3 1.6 -1.2 1.1 -1.2 .8 -1.8 -.3 -1.7 -.7 -1.2 -1.1 -1.2 -3.2 -2.4 -5.2 -2.9 -6 -2.7 -6.5 -2.4 -5.9 -1.7 -8.2 -1.8 -7.7 -1 -5.3 -.1 -6.5 .6 -6.5 1.3 -5.9 2.1 -2.4 1.2 -2.5 1.5 -2.2 1.8 -1.6 1.8 -1.2 1.7 -.8 1.8 -.3 1.8 0 1.8 .3 1.7 .8 1.8 1.2 1.8 1.6 1.7 1.7 1.5 2.4 1.5 2.4 1.3 2.9 1.2 6.5 1.9 6.5 .9zM543.3 468.2l6.2 .5 5.9 -.1 5.3 -.6 5.4 -1.3 4.1 -1.6 3.8 -2.2 2.6 -2.3 .8 -1.2 .8 -1.8 .3 -1.8 -.1 -1.2 -.8 -2.3 -1.3 -1.8 -1.2 -1.2 -3.1 -2.1 -4.2 -1.9 -5.3 -1.5 -5.3 -.9 -5.9 -.2 -6.5 .2 -5.9 .7 -5.9 1.1 -4.8 1.3 -4.7 1.8 -3.8 2.1 -2.3 1.8 -1 1.2 -.7 1.2 -.2 1.7 .3 1.2 .7 1.2 1 1.2 1.4 1.2 3.4 2 4.2 1.8 5.3 1.7 5.3 1.2 6.2 .9z" fill="#5270b5"/><path d="M400.1 468.8l5.3 .4 10 0 7.1 -.6 6.5 -1.1 7.1 -1.8 6.5 -2.3 2.9 -1.4 2.8 -1.4 1.7 -1.2 1.3 -1.2 1.1 -1.8 .2 -1.2 -.2 -1.1 -.7 -1.2 -1 -1.2 -3 -2.4 -4.5 -2.7 -5.3 -2.4 -6 -2.3 -6.8 -2 -7.3 -1.6 -7.7 -1 -5.3 -.1 -5.9 .5 -6.5 1.3 -5.4 1.8 -2.3 1.1 -2.4 1.4 -1.8 1.3 -1.8 1.8 -1.4 1.8 -.9 1.7 -.5 1.8 -.2 1.8 .3 1.7 .6 1.8 1.1 1.8 1.1 1.3 1.7 1.6 1.8 1.3 2.4 1.4 2.9 1.4 3 1 3.5 1 6 1zM543.6 467.6l6.5 .5 5.3 -.1 5.3 -.7 4.8 -1.1 4.1 -1.6 3.5 -2.2 1.6 -1.3 1 -1.1 1.3 -2.4 .2 -1.2 0 -1.8 -.9 -2.3 -2 -2.4 -1.4 -1.2 -2.1 -1.3 -4.2 -1.8 -4.7 -1.3 -5.3 -.8 -5.9 -.2 -5.9 .2 -5.9 .7 -5.3 1.1 -4.8 1.4 -4.7 1.9 -3.2 1.9 -2 1.8 -.8 1.2 -.5 1.1 0 1.2 .3 1.2 1.1 1.8 2 1.8 3.1 1.8 4.1 1.8 4.8 1.5 5.3 1.2 5.3 .7z" fill="#5a7fc2"/><path d="M410.1 468.8l6.5 -.1 6.5 -.7 6.5 -1.2 6.5 -1.8 5.4 -2.1 4.6 -2.3 1.7 -1.2 1.3 -1.2 .8 -1.2 .5 -1.2 -.2 -1.7 -.6 -1.2 -.9 -1.2 -2.8 -2.4 -5 -2.9 -6 -2.8 -5.9 -2.1 -6.5 -1.7 -5.9 -1.2 -7.7 -.9 -5.3 0 -6.5 .8 -6.5 1.6 -5.3 2.2 -2.4 1.4 -2 1.5 -1.2 1.2 -1.4 1.8 -1 1.7 -.5 1.8 -.1 1.8 .2 1.7 .7 1.8 1.1 1.8 1.3 1.4 1.7 1.5 1.8 1.3 2.4 1.3 4.7 2 6.5 1.6 5.9 .7 7.1 .2zM544.3 467.1l5.8 .3 4.7 0 4.8 -.6 4.7 -1 4.1 -1.6 3.3 -1.9 2.6 -2.3 1.3 -2.4 .3 -1.2 0 -1.8 -1 -2.3 -2 -2.4 -2.7 -1.8 -3.6 -1.7 -4.7 -1.4 -5.3 -.9 -5.3 -.2 -5.9 .2 -5.3 .6 -4.8 .9 -4.7 1.4 -4.4 1.7 -3.1 1.8 -2 1.8 -.9 1.2 -.4 1.1 0 1.8 .5 1.2 .9 1.2 2 1.8 3 1.7 3.8 1.6 4.4 1.4 4.5 1 5.4 .8z" fill="#649fd6"/><path d="M406.9 468.2l6.7 .1 6.5 -.5 6.5 -1 5.9 -1.5 5.9 -2 4.6 -2.2 3.4 -2.3 1 -1.2 .7 -1.2 .2 -1.8 -.4 -1.1 -.7 -1.2 -2.3 -2.4 -4.1 -2.7 -4.7 -2.3 -5.9 -2.4 -5.9 -1.7 -5.9 -1.4 -6.5 -.9 -5.9 -.4 -6 .4 -6.5 1.3 -5.3 1.8 -4.5 2.4 -2 1.5 -1.4 1.5 -1 1.2 -1 1.7 -.4 1.2 -.2 1.8 .1 1.7 .5 1.8 1 1.8 1.2 1.5 1.6 1.4 2 1.5 2.4 1.3 2.3 1.1 5.3 1.7 6.5 1.2 6.3 .3zM545.4 466.5l5.3 .3 4.7 -.2 4.7 -.6 4.2 -1 3.6 -1.5 2.9 -1.8 1.4 -1.1 1 -1.2 .8 -1.2 .4 -1.2 .1 -1.2 -.1 -1.2 -.3 -1.1 -.7 -1.2 -.9 -1.2 -1.3 -1.2 -2.7 -1.7 -3.6 -1.6 -4.2 -1.1 -4.7 -.7 -4.7 -.2 -5.3 .2 -5.3 .6 -4.8 .9 -4.2 1.3 -4.2 1.7 -2.8 1.7 -1.9 1.9 -.8 1.7 0 1.8 .9 1.8 1.7 1.8 3.1 1.9 3.8 1.6 4.4 1.4 4.8 .9 4.7 .7z" fill="#6ec1ee"/><path d="M404.4 467.6l7.5 .2 5.9 -.3 5.9 -.8 5.9 -1.2 5.3 -1.7 4.9 -2.1 3.8 -2.3 1.3 -1.2 .8 -1.2 .6 -1.8 -.2 -1.1 -.4 -1.2 -.9 -1.2 -1.1 -1.2 -3.1 -2.3 -4.5 -2.5 -5.3 -2.3 -5.9 -1.9 -6 -1.4 -6.5 -1 -5.9 -.5 -5.9 .4 -5.9 1.1 -5.3 1.7 -4.1 2 -3.3 2.6 -1.1 1.2 -1.2 1.7 -.6 1.2 -.4 1.8 0 1.2 .3 1.7 .7 1.8 .7 1.2 1.6 1.8 1.5 1.3 1.8 1.2 2.3 1.3 4.8 1.8 5.9 1.4 6.1 .6zM547.4 465.9l5.1 .1 4.1 -.2 4.1 -.7 4.2 -1.3 3.2 -1.5 2.4 -1.7 1.5 -1.8 .7 -1.2 .3 -1.2 0 -1.2 -.2 -1.1 -1 -1.8 -1 -1.2 -1.2 -1 -3 -1.8 -3.5 -1.4 -4.1 -1 -4.2 -.5 -4.7 -.1 -4.7 .3 -4.7 .6 -4.2 .9 -4.1 1.3 -3.5 1.5 -2.6 1.8 -1.6 1.8 -.6 1.7 .3 1.8 1.2 1.8 2.3 1.8 2.7 1.4 3.6 1.4 4.1 1.2 4.7 .8 4.4 .5z" fill="#7cc4d5"/><path d="M403.7 467.1l7 .2 5.9 -.3 5.9 -.7 5.9 -1.2 5.3 -1.7 4.7 -2 3.1 -2 1.3 -1.2 .9 -1.2 .5 -1.8 0 -1.1 -.5 -1.2 -.8 -1.2 -1.1 -1.2 -3 -2.3 -4.3 -2.4 -4.9 -2.1 -5.3 -1.7 -5.9 -1.4 -6 -1 -5.9 -.4 -5.3 .3 -5.3 .9 -5.3 1.6 -4.2 2 -3.2 2.4 -1.2 1.2 -1.2 1.7 -.6 1.2 -.4 1.8 0 1.8 .2 1.1 .8 1.8 .8 1.2 2.5 2.6 3.5 2.2 4.8 2 5.3 1.3 6 .8zM544.0 464.7l4.3 .4 4.8 .1 4.1 -.3 3.5 -.7 3.6 -1.2 2.6 -1.3 2.4 -1.7 1.4 -1.8 .6 -1.8 0 -1.2 -.2 -1.1 -1 -1.8 -1.9 -1.8 -2.7 -1.6 -3.5 -1.3 -3.6 -.9 -4.2 -.5 -4.1 -.1 -4.7 .3 -4.2 .6 -4.1 .9 -3.5 1.2 -3.1 1.4 -1.7 1.2 -1.7 1.8 -.6 1.7 .3 1.8 1.3 1.8 1.4 1.2 2.9 1.6 3.5 1.3 4.2 1.1 3.9 .7z" fill="#8cc6b5"/><path d="M403.6 466.5l6.5 .2 5.3 -.2 5.9 -.6 5.3 -1.1 5.3 -1.6 4.8 -2 2.8 -1.8 1.2 -1.2 .9 -1.2 .6 -1.8 0 -1.1 -.4 -1.2 -1.3 -1.8 -2.7 -2.4 -4 -2.3 -4.8 -2.2 -5.3 -1.7 -5.3 -1.3 -6 -1 -5.3 -.4 -5.3 .2 -5.3 .9 -4.7 1.4 -4.2 1.9 -3.1 2.2 -1.2 1.2 -1.3 1.7 -.6 1.2 -.5 1.8 0 1.8 .3 1.1 .8 1.8 .8 1.2 2.4 2.4 3.6 2.2 4.2 1.7 4.7 1.2 5.9 .8zM547.0 464.1l4.3 .2 3.5 -.1 3.6 -.5 3.1 -.8 2.9 -1.2 2.2 -1.3 1.7 -1.6 1 -1.8 .2 -1.8 -.6 -1.7 -1.4 -1.8 -2.5 -1.8 -2.7 -1.2 -3.3 -.9 -3.6 -.6 -3.5 -.2 -4.2 .2 -4.1 .4 -3.5 .7 -3.6 1 -3 1.2 -1.9 1.2 -1.4 1.2 -1 1.7 0 1.8 .5 1.2 1.8 1.8 1.9 1.2 2.6 1.1 3.5 1.1 3.5 .8 4 .5z" fill="#8ec39a"/><path d="M403.9 465.9l6.8 .2 5.3 -.3 5.3 -.6 4.7 -1 4.8 -1.4 3.7 -1.7 2.8 -1.7 1.4 -1.2 .9 -1.2 .6 -1.8 0 -1.1 -.4 -1.2 -1.2 -1.8 -2.7 -2.4 -4 -2.3 -4.1 -1.8 -4.7 -1.6 -5.6 -1.3 -5.1 -.9 -5.3 -.4 -5.3 .2 -4.7 .8 -4.7 1.4 -3.9 1.8 -3.3 2.4 -2 2.3 -1 2.4 -.1 1.2 .1 1.7 .7 1.8 .7 1.2 2.3 2.4 3.5 2.3 4.1 1.7 4.8 1.2 5.6 .7zM545.9 462.9l3.6 .3 3.6 .1 2.9 -.3 3 -.6 2.3 -.7 2.5 -1.1 1.7 -1.3 1.4 -1.7 .4 -1.2 -.1 -1.8 -.9 -1.7 -1.4 -1.3 -1.8 -1.1 -3 -1.2 -2.9 -.7 -3.2 -.4 -3.3 -.1 -3.5 .2 -3.6 .4 -2.9 .6 -3 1 -2.4 1.1 -2.1 1.5 -.9 1.2 -.4 1.1 .1 1.2 .3 .6 .8 1.2 1.5 1.2 2.2 1.2 2.7 1 2.9 .7 3.5 .6z" fill="#97c47b"/><path d="M405.0 465.3l6.3 .1 4.7 -.2 4.7 -.6 4.9 -1.1 4.6 -1.5 3.5 -1.7 2.9 -2.1 1.2 -1.8 .5 -1.8 -.2 -1.1 -.5 -1.2 -.9 -1.2 -1.2 -1.2 -2.4 -1.7 -3.5 -2 -4.7 -1.9 -4.8 -1.4 -4.7 -1 -5.3 -.7 -4.2 -.2 -5.3 .5 -4.7 .9 -4.1 1.5 -3.6 1.9 -2.8 2.4 -1.5 2.3 -.6 2.4 .1 1.2 .5 1.7 1.5 2.4 2.8 2.4 3.2 1.7 3.9 1.5 4.7 1 5 .5zM546.8 461.7l3.3 .3 3 0 2.7 -.3 2.6 -.5 1.8 -.6 2.2 -1.2 1.4 -1.2 .8 -1.2 .2 -1.8 -.4 -1.1 -.9 -1.2 -1.5 -1.2 -1.9 -.9 -2.3 -.8 -2.4 -.4 -2.5 -.3 -5.7 .2 -5.4 1 -2.3 .9 -1.8 .9 -1.5 1.2 -.8 1.1 -.2 1.2 .4 1.2 .9 1 1 .8 2 1.1 1.8 .7 2.3 .6 3.2 .5z" fill="#a2c76a"/><path d="M408.5 464.7l5.1 -.1 4.8 -.4 4.7 -.9 4.1 -1.2 3.7 -1.5 2.8 -1.8 1.7 -1.8 .7 -1.8 -.1 -1.7 -.5 -1.2 -.8 -1.2 -1.9 -1.8 -2.8 -1.7 -3.7 -1.8 -4.4 -1.6 -4.7 -1.2 -4.8 -.8 -5.3 -.5 -4.1 .2 -4.7 .7 -4.2 1.2 -3.5 1.6 -3.1 2.2 -1.9 2.3 -.9 2.4 .1 2.3 1.1 2.4 2.3 2.4 2.7 1.7 3.8 1.7 4.2 1.1 4.1 .6 5.5 .2zM546.6 460.0l4.7 .4 3.5 -.2 1.8 -.4 1.8 -.6 1.2 -.7 1.1 -.9 .7 -1.2 .1 -1.2 -.6 -1.1 -.5 -.6 -.8 -.7 -1.8 -.8 -3.4 -.9 -4.3 -.1 -4.1 .5 -3.6 1.1 -1.6 .9 -.6 .6 -.5 .5 -.2 1.2 .5 1.2 .6 .6 2.4 1.4 3.6 1z" fill="#acc95c"/><path d="M401.4 463.5l4 .4 5.9 0 4.7 -.3 4.1 -.6 4.2 -1 3.5 -1.3 2.6 -1.3 2.2 -1.8 1.2 -1.8 .2 -1.7 -.6 -1.8 -1.4 -1.8 -2.4 -1.9 -3.6 -1.9 -3.8 -1.5 -4.4 -1.3 -4.8 -.9 -5.3 -.5 -3.5 0 -3.6 .5 -4.1 .9 -3.5 1.3 -3 1.7 -2 1.8 -1.3 1.8 -.4 1.2 -.2 1.2 .1 1.2 .3 1.1 .6 1.2 .9 1.2 2.6 2.2 2.9 1.6 3.6 1.2 4.3 .9zM549.5 457.0l3 .2 1 -.2 .7 -.3 .4 -.3 .4 -.6 -.1 -.6 -.7 -.6 -.6 -.2 -2.3 -.3 -2.7 .5 -.8 .6 -.1 .6 .4 .6 1.4 .6z" fill="#bfd44c"/><path d="M403.5 462.9l5.4 .2 3.5 0 4.2 -.4 4.1 -.7 3.6 -1.1 2.9 -1.2 2.3 -1.5 1.7 -1.8 .6 -1.8 -.3 -1.7 -1.1 -1.8 -1.4 -1.3 -2.5 -1.6 -3.4 -1.7 -3.6 -1.2 -4.1 -1 -4.1 -.7 -4.2 -.3 -4.1 .2 -3.5 .5 -3.6 1.1 -3 1.3 -2.6 1.8 -1.6 1.7 -.8 1.8 -.2 1.2 .1 1.2 .3 1.1 .6 1.2 1.6 1.8 2.6 1.8 3 1.3 3.6 1 4 .6z" fill="#d0dd44"/><path d="M401.5 461.7l3.3 .4 5.3 .1 3.5 -.1 3.6 -.5 3.5 -.8 3 -1 2.3 -1.1 2.2 -1.7 .8 -1.2 .4 -1.7 -.6 -1.8 -1 -1.4 -2 -1.6 -2.7 -1.5 -3 -1.2 -3.5 -1.1 -4.2 -.8 -4.7 -.5 -2.9 0 -3 .4 -3.5 .7 -2.9 1.1 -2.4 1.4 -1.9 1.5 -1.2 1.8 -.5 1.8 .1 1.2 .4 1.1 1.2 1.8 1.9 1.6 2.4 1.4 2.9 1 3.2 .7z" fill="#e4e43a"/><path d="M406.0 461.1l7 -.1 3.6 -.4 2.6 -.6 2.7 -1 2.4 -1.2 1.5 -1.4 .7 -1.2 .2 -1.1 -.5 -1.8 -1.3 -1.6 -1.8 -1.3 -2.4 -1.2 -2.9 -1.2 -5.9 -1.3 -4.2 -.5 -2.3 0 -3.6 .4 -2.9 .8 -3 1.2 -1.9 1.1 -1.2 1.2 -1.1 1.8 -.3 1.8 .5 1.7 1.4 1.8 1.6 1.2 2.3 1.2 2.8 .9 3 .6 3 .2z" fill="#f4da30"/><path d="M407.2 460.0l5.8 -.2 4.9 -1 2.2 -.9 1.6 -.9 1.2 -1.2 .7 -1.2 0 -1.1 -.5 -1.2 -1 -1.2 -1.6 -1.2 -2.3 -1.2 -2.2 -.8 -3 -.7 -2.9 -.5 -3 -.3 -2.3 .1 -3 .4 -2.2 .7 -1.9 .8 -1.8 1.1 -1.2 1.2 -.8 1.6 0 1.8 .5 1.1 1 1.2 1.6 1.2 2.5 1.1 2.1 .7 2.6 .4 3 .2z" fill="#efb92f"/><path d="M404.1 458.2l5.4 .2 4.1 -.5 3.1 -.9 1.2 -.6 1.3 -1.2 .4 -.6 .2 -1.1 -.3 -.7 -.7 -1.1 -1.6 -1.2 -1.2 -.6 -3.6 -1.2 -4.7 -.7 -3.6 .2 -2.3 .5 -1.7 .6 -1.2 .7 -1.3 1.1 -.5 .9 -.3 .9 .1 1.2 .7 1.1 1.3 1.1 1.2 .7 1.7 .7 2.3 .5z" fill="#e5962f"/><path d="M406.3 455.8l2.6 0 1.8 -.3 1.7 -.6 1 -.8 .1 -.6 -.1 -.6 -1 -.9 -1.8 -.9 -2.3 -.5 -2.3 -.1 -2.4 .6 -1 .6 -.5 .6 -.3 .6 0 .6 .3 .6 .5 .5 1.6 .8 2.1 .4z" fill="#e27a30"/></g>
<rect x="361.70" y="336.30" width="236.20" height="236.70" fill="none" stroke="#000" stroke-width="2.3"/>
<line x1="405.95" y1="573.00" x2="405.95" y2="561.50" stroke="#000" stroke-width="2.9"/>
<line x1="361.70" y1="528.50" x2="373.20" y2="528.50" stroke="#000" stroke-width="2.9"/>
<line x1="479.80" y1="573.00" x2="479.80" y2="561.50" stroke="#000" stroke-width="2.9"/>
<line x1="361.70" y1="454.65" x2="373.20" y2="454.65" stroke="#000" stroke-width="2.9"/>
<line x1="553.65" y1="573.00" x2="553.65" y2="561.50" stroke="#000" stroke-width="2.9"/>
<line x1="361.70" y1="380.80" x2="373.20" y2="380.80" stroke="#000" stroke-width="2.9"/>
<line x1="369.02" y1="573.00" x2="369.02" y2="567.00" stroke="#000" stroke-width="2.0"/>
<line x1="361.70" y1="565.42" x2="367.70" y2="565.42" stroke="#000" stroke-width="2.0"/>
<line x1="442.87" y1="573.00" x2="442.87" y2="567.00" stroke="#000" stroke-width="2.0"/>
<line x1="361.70" y1="491.57" x2="367.70" y2="491.57" stroke="#000" stroke-width="2.0"/>
<line x1="516.72" y1="573.00" x2="516.72" y2="567.00" stroke="#000" stroke-width="2.0"/>
<line x1="361.70" y1="417.72" x2="367.70" y2="417.72" stroke="#000" stroke-width="2.0"/>
<line x1="590.57" y1="573.00" x2="590.57" y2="567.00" stroke="#000" stroke-width="2.0"/>
<line x1="361.70" y1="343.88" x2="367.70" y2="343.88" stroke="#000" stroke-width="2.0"/>
<text transform="translate(386.66,370.20) scale(1.0126,1)" font-family="Liberation Serif, DejaVu Serif, serif" font-weight="bold" font-size="41.36" fill="#000">(d)</text>
<text transform="translate(450.46,369.50) scale(1.0890,1)" font-family="Liberation Serif, DejaVu Serif, serif" font-style="italic" font-size="40.51" fill="#000">t</text>
<text transform="translate(473.67,372.45) scale(1.4685,1)" font-family="Liberation Serif, DejaVu Serif, serif" font-size="36.00" fill="#000">=</text>
<text transform="translate(511.85,370.52) scale(0.9449,1)" font-family="Liberation Serif, DejaVu Serif, serif" font-size="39.12" fill="#000">10Γ</text>
<defs><clipPath id="ce"><rect x="605.20" y="336.30" width="236.40" height="236.70"/></clipPath></defs>
<g clip-path="url(#ce)"><path d="M790.8 473.0l7.6 .2 4.8 -.3 3.5 -.4 4.1 -.8 3.6 -.9 3.5 -1.2 3 -1.3 2.9 -1.7 2.4 -1.7 2.1 -2 1.3 -1.8 .8 -1.7 .5 -1.8 .1 -1.8 -.5 -2.3 -.8 -1.8 -1.2 -1.8 -1.7 -1.7 -2.3 -1.8 -2.4 -1.5 -3 -1.4 -2.9 -1.2 -3.6 -1 -7.1 -1.4 -7.7 -.6 -9.4 .3 -8.9 1 -5.9 1.2 -5.3 1.3 -5.9 1.7 -5.3 1.9 -7.7 3 -7.1 3.2 -3.5 1.7 -.6 .5 0 .6 4.4 2.5 8.8 4.1 7.4 3.1 7.1 2.5 6.5 1.9 6.5 1.5 5.4 .9 6.5 .8zM654.2 471.8l6 -.2 6.5 -.6 6.5 -1.1 5.9 -1.3 10.6 -3 21.3 -7.1 7.7 -2.2 .2 -.5 -7.3 -2.6 -20.7 -8.4 -7.7 -2.9 -7.1 -2.3 -9.4 -2.4 -5.3 -1 -4.8 -.6 -7 -.4 -4.2 .2 -4.1 .5 -4.2 .7 -4.1 1 -4.1 1.4 -3 1.3 -2.9 1.6 -2.4 1.6 -2.4 2.1 -1.5 2 -1 1.7 -.8 2.4 -.2 2.4 .5 2.3 1.1 2.4 1.3 1.8 2.4 2.3 2.4 1.8 2.9 1.7 3.6 1.5 3.5 1.2 4.2 1.1 4.1 .8 4.1 .5 9.4 .3z" fill="#2f3785"/><path d="M789.0 472.4l7.7 .4 4.1 -.1 4.1 -.4 4.2 -.7 3.5 -.8 3.6 -1.1 2.9 -1.2 2.9 -1.4 2.4 -1.6 1.7 -1.4 1.7 -1.8 1.2 -1.7 .8 -1.8 .3 -1.8 -.1 -2.4 -.6 -1.7 -.9 -1.8 -1.5 -1.8 -2 -1.8 -2.3 -1.6 -3 -1.6 -5.9 -2.2 -6.5 -1.5 -7.1 -.8 -8.3 0 -8.2 .7 -5.9 .9 -6 1.3 -6.5 1.8 -6.5 2.1 -8.2 3.3 -6.1 3 -2.8 1.7 -.5 .6 .1 .6 .6 .6 1.7 1.2 5.6 3 7.3 3.2 7.7 3 5.9 1.8 6.5 1.7 5.9 1.2 6.5 .9zM646.5 471.2l8.4 .2 6.5 -.3 7.1 -.8 7 -1.3 8.3 -2.1 8.3 -2.6 15.3 -5.5 5.6 -2.4 .4 -.6 -.4 -.6 -6.1 -2.9 -17.2 -7.5 -11.8 -4.2 -8.3 -2.4 -8.8 -1.7 -4.8 -.6 -4.7 -.3 -5.9 .2 -3.5 .4 -4.8 .8 -3.5 .9 -3.5 1.1 -3 1.2 -3 1.6 -2.5 1.6 -2.1 1.8 -1.6 1.8 -1.5 2.3 -.7 2.4 -.2 1.8 .2 1.7 .7 2.4 1.5 2.4 1.6 1.7 2.1 1.8 2.5 1.7 3 1.5 3.5 1.4 3.6 1.1 4.1 1 4.2 .6 4 .4z" fill="#3a4699"/><path d="M787.6 471.8l8.5 .6 6.5 -.3 7.1 -1.1 6.5 -1.9 2.9 -1.2 2.4 -1.2 2.3 -1.6 1.9 -1.6 1.6 -1.8 1.1 -1.7 .6 -1.8 .2 -1.8 -.1 -1.8 -.6 -1.7 -1 -1.8 -1.5 -1.8 -2 -1.7 -1.9 -1.4 -2.4 -1.3 -3 -1.3 -5.9 -1.8 -7.1 -1.2 -4.1 -.3 -4.1 -.1 -8.3 .3 -6.5 .8 -5.9 1.2 -6.5 1.6 -5.9 1.9 -7.2 2.7 -6.3 3 -3 1.8 -1.3 1.1 -.3 .6 .1 .6 .8 1.2 3.6 2.4 6.5 3.2 7.1 2.9 7.1 2.4 5.9 1.7 5.9 1.3 6.3 .9zM644.1 470.6l9 .4 6.5 -.1 7.1 -.7 8.3 -1.5 9.4 -2.5 8.9 -3 11.2 -4.4 2.5 -1.2 1.7 -1.2 .3 -.6 -.1 -.6 -.5 -.6 -1.7 -1.1 -4.4 -2.4 -6.3 -2.9 -7.5 -3.3 -5.9 -2.2 -5.9 -2 -8.2 -2.3 -8.9 -1.7 -8.3 -.7 -5.9 .2 -7.1 1 -3.5 .8 -3.6 1.1 -2.9 1.1 -3.6 1.8 -2.3 1.6 -2 1.6 -1.7 1.8 -1.1 1.7 -.8 1.8 -.5 2.4 0 1.7 .7 2.4 1.3 2.4 1.5 1.7 2 1.8 2.3 1.7 3 1.6 3 1.2 3.5 1.2 3.5 .9 7 1.1z" fill="#3d509f"/><path d="M793.1 471.8l7.1 0 7.1 -.8 5.9 -1.4 3 -1 2.9 -1.3 2.5 -1.4 2.2 -1.6 1.5 -1.4 1.4 -1.8 1 -1.7 .5 -1.8 .1 -1.8 -.3 -1.7 -.7 -1.8 -1.2 -1.8 -1.7 -1.8 -1.7 -1.3 -2.4 -1.5 -2.4 -1.2 -5.9 -2.1 -5.9 -1.2 -6.5 -.7 -8.3 0 -7.6 .7 -6.5 1.1 -5.4 1.2 -6.5 1.9 -5.9 2.2 -4.9 2.1 -4.4 2.4 -2.3 1.8 -.7 1.1 0 .6 .3 .6 1 1.2 1.6 1.2 3 1.8 6.4 3.1 7.7 2.9 6.5 2 7.1 1.7 6.5 1 5.9 .5zM653.1 470.6l7.1 -.2 6.5 -.7 7.1 -1.2 7.1 -1.8 8.8 -2.9 8.4 -3.2 3.8 -1.8 2 -1.2 1.3 -1.2 .3 -.6 0 -.6 -.3 -.6 -2 -1.7 -4.1 -2.4 -6.4 -3.1 -7.1 -3.1 -5.9 -2.2 -5.9 -1.9 -5.9 -1.5 -8.3 -1.6 -8.3 -.7 -6.5 .3 -7.1 1 -6.5 1.9 -2.9 1.2 -3 1.5 -2.6 1.7 -2 1.8 -1.5 1.8 -1.1 1.7 -.7 1.8 -.3 1.8 .1 2.3 .6 1.8 1.4 2.4 1.4 1.7 1.8 1.5 2.3 1.7 2.4 1.3 3 1.3 2.9 1.1 4.1 1.1 3.6 .6 4.1 .6 8.3 .3z" fill="#4157a5"/><path d="M791.3 471.2l6.5 .2 7.1 -.5 6.5 -1.4 3 -.9 2.9 -1.1 2.4 -1.2 2.4 -1.5 1.7 -1.5 1.5 -1.6 1.1 -1.7 .7 -1.8 .3 -1.8 -.2 -1.8 -.6 -1.7 -1.1 -1.8 -1.1 -1.3 -1.7 -1.6 -1.8 -1.2 -2.4 -1.3 -5.3 -2.2 -5.9 -1.4 -6.5 -.8 -7.7 -.2 -7.1 .5 -5.9 .8 -5.9 1.3 -6.5 1.8 -5.3 1.9 -5.9 2.5 -4.2 2.4 -2 1.8 -.6 1.1 0 .6 .2 .6 .8 1.2 3.2 2.4 5.6 2.9 6.4 2.7 5.9 1.9 6.5 1.7 6.5 1.3 6.5 .7zM647.0 470.0l7.9 .2 6.5 -.3 6.5 -.8 7.1 -1.4 8.2 -2.3 8.3 -2.9 6.8 -3.1 2 -1.2 1.5 -1.2 .7 -1.2 .1 -.6 -.6 -1.1 -2 -1.8 -3.9 -2.4 -5.9 -2.9 -6.4 -2.8 -6.5 -2.4 -6.5 -1.9 -8.3 -1.9 -7.6 -1 -5.9 -.2 -7.1 .6 -7.1 1.5 -3.6 1.2 -2.9 1.2 -2.4 1.3 -2.3 1.5 -2 1.7 -1.6 1.8 -1.1 1.7 -.7 1.8 -.3 1.8 .1 1.7 .4 1.8 .8 1.8 1.3 1.8 1.9 1.8 2.2 1.7 2.5 1.5 3 1.4 2.9 1.1 6.5 1.6 3.6 .6 3.9 .3z" fill="#4459a6"/><path d="M790.2 470.6l7.1 .3 6.4 -.4 6.5 -1.2 5.4 -1.7 2.4 -1.1 2.3 -1.4 1.8 -1.3 1.6 -1.5 1 -1.2 1 -1.7 .5 -1.8 .1 -1.8 -.3 -1.7 -.8 -1.8 -1.3 -1.8 -1.1 -1.2 -1.9 -1.5 -1.8 -1.1 -4.7 -2.2 -5.3 -1.5 -6.5 -1.1 -7.1 -.3 -6.5 .2 -6.5 .8 -5.9 1.1 -6.5 1.7 -5.3 1.8 -5.1 2.1 -4.3 2.4 -1.6 1.2 -1.1 1.2 -.6 1.1 0 .6 .2 .6 .7 1.2 1.2 1.2 1.7 1.2 4.2 2.3 5.8 2.6 5.9 2 6 1.7 5.9 1.2 6.5 .8zM645.0 469.4l8.1 .4 6.5 -.2 6.5 -.7 7.7 -1.4 8.2 -2.3 7.9 -2.9 6.2 -2.9 1.8 -1.2 1.3 -1.2 .7 -1.2 0 -.6 -.4 -1.1 -1.7 -1.8 -3.5 -2.4 -5.2 -2.7 -6.5 -2.9 -6.5 -2.4 -5.3 -1.6 -8.3 -1.8 -7.6 -1 -5.3 -.3 -7.1 .6 -6.5 1.3 -3.6 1.1 -2.9 1.2 -2.4 1.2 -2.3 1.4 -1.8 1.4 -1.6 1.6 -1.3 1.7 -.8 1.8 -.5 1.8 0 1.8 .3 1.7 .7 1.8 1.1 1.8 1.7 1.7 2.1 1.8 2.4 1.5 5.3 2.3 5.9 1.7 6.7 1z" fill="#4860ab"/><path d="M789.5 470.0l7.2 .4 5.9 -.3 5.9 -1 5.9 -1.7 2.3 -1.1 2.4 -1.3 1.8 -1.2 1.6 -1.5 1 -1.2 1.1 -1.7 .6 -1.8 .1 -1.2 -.1 -1.2 -.5 -1.7 -1 -1.8 -.9 -1.2 -1.3 -1.3 -1.8 -1.3 -2.4 -1.4 -2.3 -1.1 -5.3 -1.7 -6 -1.1 -5.9 -.5 -6.9 .1 -5.5 .5 -6.5 1.1 -5.3 1.2 -5.9 1.8 -5.3 2.2 -4 2.1 -1.7 1.2 -1.3 1.2 -.7 1.1 -.2 .6 0 .6 .3 1.2 .9 1.2 1.4 1.2 3.8 2.3 5 2.4 5.9 2.2 6 1.7 5.9 1.2 5.8 .8zM643.7 468.8l5.9 .4 8.8 0 7.1 -.7 6.5 -1.1 7.1 -1.9 7.5 -2.6 6.3 -2.9 1.9 -1.2 1.5 -1.2 .9 -1.2 .2 -.6 .1 -.6 -.3 -1.1 -1.4 -1.8 -2.4 -1.8 -5.2 -2.9 -5.6 -2.6 -5.9 -2.3 -5.9 -1.9 -7.7 -1.8 -7.1 -1 -5.3 -.3 -6.5 .3 -6.5 1.2 -5.9 1.8 -2.3 1 -2.7 1.4 -2.1 1.4 -1.7 1.6 -1.1 1.2 -1.2 1.7 -.7 1.8 -.4 1.8 .1 1.7 .5 1.8 .9 1.8 1.3 1.8 1.7 1.6 1.8 1.4 2.4 1.4 2.9 1.3 3 1.1 3.5 1 6 1z" fill="#5270b5"/><path d="M789.1 469.4l7 .5 5.3 -.2 5.9 -.9 5.3 -1.5 4.6 -2 3.5 -2.4 1.4 -1.4 1 -1.5 .6 -1.2 .4 -1.8 0 -1.8 -.3 -1.1 -.8 -1.8 -.9 -1.2 -1.2 -1.3 -1.8 -1.4 -4.1 -2.3 -5.3 -1.8 -5.4 -1.1 -5.9 -.5 -6.5 0 -5.9 .5 -5.9 .9 -5.9 1.4 -5.3 1.7 -4.7 1.9 -3.7 2 -1.6 1.2 -1.3 1.2 -.8 1.7 -.1 .6 .4 1.2 .8 1.2 1.3 1.2 3.2 2.1 4 2 5.4 2.1 6 1.8 5.3 1.1 6 .9zM651.9 468.8l6.5 -.1 6.5 -.6 6.5 -1.1 5.9 -1.5 6.5 -2.2 6 -2.7 3.6 -2.4 1.2 -1.2 .6 -1.2 .1 -.6 -.3 -1.1 -1.3 -1.8 -3 -2.4 -4.5 -2.6 -5.3 -2.4 -6.5 -2.5 -5.9 -1.7 -6 -1.3 -7 -1 -5.9 -.2 -6.5 .5 -6.5 1.3 -5.4 1.8 -2.3 1.1 -2.4 1.5 -1.9 1.4 -1.6 1.7 -1 1.2 -.9 1.8 -.4 1.2 -.2 1.8 .2 1.7 .7 1.8 1 1.8 1.6 1.8 1.9 1.6 1.8 1.1 4.7 2.3 5.9 1.8 6.5 1.1 7.1 .3z" fill="#5a7fc2"/><path d="M789.1 468.8l7 .5 5.3 -.2 5.3 -.8 5.3 -1.5 4.7 -2.1 3.3 -2.4 1.9 -2.3 .6 -1.2 .5 -1.8 -.1 -1.8 -.3 -1.1 -.9 -1.8 -.8 -1.1 -2.8 -2.5 -3.7 -2 -4.7 -1.7 -5.4 -1.2 -5.3 -.5 -5.9 0 -5.9 .4 -5.3 .7 -5.9 1.3 -5.3 1.7 -4.8 1.9 -3.2 1.8 -1.7 1.2 -1.1 1.2 -.9 1.7 0 .6 .3 1.2 1.3 1.8 3.2 2.3 3.9 2.1 4.7 1.9 5.4 1.6 5.3 1.2 6 .9zM647.9 468.2l7 .2 5.9 -.3 5.9 -.8 6.5 -1.3 6.5 -1.9 5.8 -2.4 4.3 -2.3 1.5 -1.2 1.1 -1.2 .6 -1.2 .1 -.6 -.5 -1.7 -.8 -1.2 -1.3 -1.2 -3.4 -2.4 -5.1 -2.6 -5.3 -2.2 -5.9 -2 -5.9 -1.5 -7.1 -1.2 -6.5 -.6 -5.9 .3 -5.9 .9 -5.9 1.7 -4.7 2.1 -1.8 1.2 -2 1.6 -1.2 1.2 -1.3 1.7 -.5 1.2 -.5 1.8 -.1 1.8 .4 1.7 .7 1.8 .8 1.2 1.3 1.4 1.8 1.5 4.1 2.5 5.4 2 5.3 1.3 6.6 .7z" fill="#649fd6"/><path d="M789.3 468.2l6.2 .5 4.7 -.1 5.3 -.7 4.7 -1.2 4.2 -1.6 3.5 -2.2 2.3 -2.3 .8 -1.2 .6 -1.8 .2 -1.8 -.2 -1.2 -1.2 -2.3 -.9 -1.2 -1.6 -1.4 -3.5 -2.2 -4.2 -1.6 -5.3 -1.3 -5.3 -.6 -5.9 -.1 -5.9 .3 -5.3 .8 -5.3 1.1 -4.7 1.5 -4.4 1.7 -3.3 1.8 -1.6 1.2 -1.1 1.2 -.9 1.7 .3 1.8 1.2 1.8 2.6 2 4 2.1 4.3 1.8 5.3 1.6 5.4 1.2 5 .7zM646.6 467.6l7.1 .3 5.9 -.2 6.5 -.8 5.9 -1.2 5.9 -1.7 5.6 -2.3 4.3 -2.3 1.5 -1.2 1 -1.2 .7 -1.8 -.4 -1.7 -1.3 -1.8 -3 -2.4 -4.2 -2.3 -5.4 -2.5 -5.3 -1.8 -5.9 -1.6 -7.1 -1.3 -7.1 -.7 -5.3 .2 -4.7 .7 -5.9 1.5 -4.8 1.9 -3.7 2.4 -1.6 1.4 -1.2 1.5 -.7 1.2 -.7 1.8 -.2 1.2 .1 1.7 .5 1.8 .6 1.2 1.3 1.8 1.5 1.4 2.1 1.5 2 1.2 4.8 2 5.3 1.4 5.9 .7z" fill="#6ec1ee"/><path d="M790.0 467.6l6.1 .4 4.1 -.1 4.7 -.6 4.8 -1.2 4.1 -1.7 3.2 -2.1 2.2 -2.3 1.1 -2.4 .2 -1.2 -.3 -1.8 -1.2 -2.3 -2.3 -2.3 -2.9 -1.9 -4.1 -1.7 -4.8 -1.1 -4.7 -.7 -5.9 -.1 -5.3 .3 -5.3 .7 -4.8 1 -4.7 1.3 -4.7 2 -3.3 1.9 -1.9 1.8 -.8 1.7 .2 1.8 1.2 1.8 2.2 1.8 3.6 1.9 4.1 1.7 4.7 1.5 5.3 1.2 5.2 .7zM645.9 467.1l7.2 .3 5.3 -.2 5.9 -.6 5.9 -1.1 5.9 -1.7 5.4 -2.1 4.3 -2.3 1.4 -1.2 1.1 -1.2 .7 -1.8 -.4 -1.7 -1.2 -1.8 -2.9 -2.4 -4.1 -2.3 -4.9 -2.2 -4.7 -1.7 -5.9 -1.6 -7.1 -1.3 -6.5 -.6 -4.7 .2 -4.7 .6 -5.3 1.3 -4.8 1.9 -3.6 2.2 -1.7 1.4 -1.3 1.5 -.8 1.2 -.7 1.8 -.2 1.8 .1 1.1 .3 1.2 .9 1.8 .8 1.2 1.5 1.5 3.5 2.5 4.8 2 4.7 1.4 5.8 .9z" fill="#7cc4d5"/><path d="M791.2 467.1l5.5 .2 4.1 -.2 4.7 -.7 4.2 -1.1 3.5 -1.6 2.9 -2 1.2 -1.1 .8 -1.2 .6 -1.2 .3 -1.2 0 -1.2 -.2 -1.2 -.5 -1.1 -.8 -1.2 -1.1 -1.2 -1.4 -1.2 -3 -1.6 -4.1 -1.6 -4.2 -.9 -4.7 -.5 -5.3 -.1 -4.7 .3 -4.7 .6 -4.8 1 -4.1 1.3 -3.7 1.5 -3.1 1.8 -1.9 1.8 -.9 1.7 .2 1.8 1.2 1.8 2.2 1.8 3.2 1.7 4 1.7 4.7 1.4 4.7 1 5.2 .7zM645.6 466.5l6.9 .3 5.3 -.1 5.9 -.6 5.9 -1.1 5.9 -1.7 4.8 -1.9 3.4 -2 1.5 -1.2 1 -1.2 .8 -1.8 -.3 -1.7 -1.2 -1.8 -2.8 -2.4 -4 -2.3 -4.3 -1.9 -5.4 -1.9 -4.7 -1.3 -6.5 -1.1 -5.9 -.6 -4.7 .1 -4.7 .6 -5.4 1.3 -4.6 1.8 -3.6 2.2 -2.6 2.5 -.7 1.2 -.7 1.8 -.3 1.8 .1 1.1 .3 1.2 .9 1.8 2.1 2.4 3.2 2.3 4.2 1.9 4.7 1.4 5.5 .9z" fill="#8cc6b5"/><path d="M793.6 466.5l4.2 .1 4.8 -.5 4.1 -.8 4.1 -1.5 3 -1.7 2.3 -2.1 1 -1.8 .3 -1.2 .1 -1.2 -.3 -1.2 -.5 -1.1 -1.4 -1.8 -2.3 -1.8 -3.3 -1.7 -3.6 -1.1 -4.1 -.8 -4.2 -.3 -5.3 0 -4.7 .4 -4.1 .7 -4.2 1 -3.7 1.2 -2.8 1.3 -2.7 1.7 -1.6 1.8 -.5 1.7 .5 1.8 1.5 1.8 2.6 1.7 3.2 1.6 4 1.4 4.3 1.1 4.7 .8 4.6 .5zM645.7 465.9l6.8 .3 5.3 -.1 5.3 -.5 5.4 -1 5.3 -1.5 4.8 -2 3.4 -2 1.2 -.9 1 -1.2 .7 -1.8 -.2 -1.7 -1.1 -1.8 -2.7 -2.4 -3.6 -2.1 -4.1 -1.8 -4.7 -1.7 -5.4 -1.4 -5.9 -1 -5.9 -.5 -4.1 .1 -4.7 .6 -4.8 1.2 -4.1 1.6 -3.5 2.1 -2.5 2.3 -1.4 2.4 -.4 1.8 0 1.2 .4 1.7 .6 1.2 1.9 2.4 3.2 2.3 4.1 2 4.7 1.4 5 .8z" fill="#8ec39a"/><path d="M646.1 465.3l6.4 .3 4.7 -.1 5.3 -.5 5.4 -1 4.7 -1.4 4.1 -1.6 3.6 -2.1 1.8 -1.9 .8 -1.8 -.2 -1.7 -1 -1.8 -2.7 -2.4 -3.5 -2 -4.1 -1.8 -4.1 -1.4 -4.8 -1.3 -5.3 -.9 -5.9 -.5 -4.1 .1 -4.7 .7 -4.2 1 -4.1 1.7 -3.4 2.1 -2.3 2.3 -1.2 2.4 -.3 1.8 .1 1.1 1 2.4 2 2.4 2.9 2.1 3.6 1.6 4.7 1.4 4.8 .8zM790.0 465.3l4.3 .4 4.1 0 4.2 -.4 3.5 -.8 3.6 -1.3 2.5 -1.5 2 -1.7 1.2 -1.8 .3 -1.2 0 -1.2 -.5 -1.7 -1.2 -1.8 -2.2 -1.8 -2.7 -1.4 -3.6 -1.2 -4.1 -.8 -4.1 -.3 -4.8 .1 -4.1 .3 -4.1 .7 -3.6 .9 -3.5 1.2 -3.3 1.7 -1.6 1.2 -1.3 1.7 -.3 1.2 .5 1.8 1.6 1.8 2.6 1.7 2.7 1.2 3.8 1.3 4.1 1 4 .7z" fill="#97c47b"/><path d="M647.0 464.7l5.5 .2 4.7 -.1 4.8 -.5 4.7 -.8 4.7 -1.4 3.8 -1.5 3 -1.8 1.8 -1.8 .8 -1.8 -.1 -1.7 -1.1 -1.8 -1.8 -1.8 -2.8 -1.8 -4.2 -2 -4.1 -1.4 -4.8 -1.3 -5.3 -.9 -5.3 -.4 -4.7 .2 -4.1 .6 -4.8 1.3 -3.5 1.6 -2.6 1.8 -2.1 2.3 -.7 1.2 -.4 1.2 -.1 1.2 .1 1.1 1.1 2.4 .9 1.2 1.2 1.2 3.2 2 3.5 1.5 4.2 1.1 4.5 .7zM794.2 464.7l3.6 .1 3.6 -.4 3.5 -.7 3 -1 2.3 -1.3 1.9 -1.4 1.3 -1.8 .4 -1.8 -.3 -1.8 -1.1 -1.7 -2.2 -1.8 -2.2 -1.2 -3.1 -1.1 -3.5 -.7 -3.6 -.3 -4.1 0 -4.1 .3 -3.6 .5 -3.5 .9 -3 1 -2.5 1.2 -1.7 1.2 -1.1 1.2 -.4 .5 -.3 1.2 .1 .8 .4 1 1 1.2 2.2 1.6 2.8 1.3 3.4 1.2 3.2 .8 3.6 .6 4 .4z" fill="#a2c76a"/><path d="M648.8 464.1l5.5 .1 4.1 -.2 4.7 -.6 4.2 -.9 4 -1.4 3.1 -1.4 2.2 -1.5 1.6 -1.8 .5 -1.8 -.4 -1.7 -1.3 -1.8 -2.2 -1.8 -3.1 -1.7 -3.8 -1.7 -4.2 -1.3 -4.7 -1 -4.7 -.6 -4.2 -.2 -4.7 .4 -4.1 .8 -3.8 1.2 -3.4 1.8 -2.2 1.7 -.9 1.2 -.7 1.2 -.5 1.8 0 1.2 .3 1.1 .5 1.2 .8 1.2 2.2 2 3 1.7 3.5 1.3 4.1 1 4.6 .5zM793.5 463.5l3.2 .2 2.9 -.2 3 -.5 2.5 -.7 2.7 -1.2 1.7 -1.1 1.1 -1.2 .9 -1.8 -.1 -1.8 -.6 -1.1 -1.6 -1.8 -2 -1.2 -2.3 -.9 -2.9 -.8 -3 -.4 -3.5 -.1 -3.6 .1 -3.5 .5 -3 .6 -3.3 1 -2.5 1.2 -1.6 1.2 -.9 1.1 -.4 1.2 .2 1.2 .8 1.2 1.4 1.2 2 1.2 3 1.1 2.5 .7 3 .6 3.9 .5z" fill="#acc95c"/><path d="M645.1 462.9l3.9 .4 5.3 .1 4.1 -.2 4.1 -.6 3.8 -.9 3.6 -1.1 2.7 -1.4 2.4 -1.7 1.2 -1.7 .2 -1.2 -.3 -1.7 -1.3 -1.8 -2.2 -1.8 -3.3 -1.7 -3.2 -1.3 -4.1 -1.2 -4.8 -1 -4.7 -.5 -3.5 0 -3.6 .4 -3.5 .7 -3.6 1.2 -3.1 1.7 -2.1 1.7 -1.2 1.8 -.4 1.2 -.2 1.2 .2 1.1 .4 1.2 1.2 1.8 2.1 1.8 3.1 1.6 3 1.1 3.8 .8zM790.7 461.7l6 .5 4.7 -.5 2.1 -.6 2 -.8 1.4 -.9 1.1 -1.2 .6 -1.2 0 -1.2 -.4 -1.2 -1 -1.1 -1.6 -1.2 -1.9 -.8 -2.3 -.7 -2.4 -.4 -5.9 0 -5 .7 -2.1 .6 -2.3 .9 -1.5 .9 -1.1 1.1 -.5 1.2 .2 1.2 .9 1.2 .7 .6 1.9 1 1.7 .8 4.7 1.1z" fill="#bfd44c"/><path d="M647.6 462.3l4.9 .2 3.5 -.1 3.6 -.3 3.5 -.6 3.4 -.9 2.9 -1.2 2 -1.2 1.9 -1.8 .6 -1.2 0 -1.7 -1 -1.8 -1.2 -1.2 -2.7 -1.7 -2.5 -1.2 -3.4 -1.2 -4.1 -1 -4.1 -.7 -4.2 -.3 -3.5 .2 -3 .5 -3.5 1 -3 1.3 -2 1.3 -1.6 1.8 -.9 1.8 -.1 1.2 .1 1.1 .9 1.8 1.6 1.8 2 1.3 3 1.3 3.1 .9 3.8 .6zM793.6 460.0l3.7 .1 2.9 -.4 2.4 -.9 .8 -.6 .9 -1.2 .1 -1.2 -.2 -.6 -1.2 -1.1 -1 -.6 -1.6 -.6 -2.6 -.5 -3.5 0 -3.5 .6 -3 1.1 -1.4 1.1 -.2 .6 .3 1.2 1.2 1.2 2.9 1.2 3 .6z" fill="#d0dd44"/><path d="M646.4 461.1l3.2 .4 4.1 0 3.5 -.2 3.6 -.5 3.3 -.8 2.6 -1 2.5 -1.4 1.2 -1.2 .7 -1.2 .2 -1.1 -.5 -1.5 -1.2 -1.5 -1.5 -1.2 -2.6 -1.4 -3 -1.1 -3.5 -.9 -3.9 -.7 -3.8 -.3 -5.3 .4 -2.9 .6 -2.9 1.1 -2.1 1.1 -1.9 1.8 -1 1.8 -.1 1.8 .7 1.7 .9 1.2 1.6 1.3 2.4 1.3 2.9 1 2.8 .5z" fill="#e4e43a"/><path d="M647.0 460.0l2.6 .2 3.5 .1 2.9 -.1 3 -.4 2.4 -.6 2.3 -.8 1.8 -.8 1.5 -1.2 .9 -1.2 .2 -1.1 -.3 -1.2 -.8 -1.2 -1.4 -1.2 -2.2 -1.2 -2.6 -1 -2.7 -.7 -3.2 -.6 -3 -.3 -4.7 .2 -2.4 .5 -2.3 .8 -2.2 1.1 -1.5 1.2 -.9 1.2 -.4 1.8 .4 1.7 .9 1.2 1.5 1.2 2.2 1.1 1.8 .7 2.7 .6z" fill="#f4da30"/><path d="M646.5 458.2l3.6 .5 5.4 -.2 4.1 -.8 1.8 -.7 1.1 -.7 1.2 -1.1 .3 -.6 0 -1.1 -.3 -.7 -.9 -1.1 -.8 -.6 -2.3 -1.2 -1.9 -.6 -4.1 -.8 -4.1 -.2 -2.4 .3 -1.8 .5 -1.8 .7 -1.2 .7 -.7 .6 -.8 1.2 -.3 1.2 .3 1.1 .8 1.2 1.4 1 1.5 .8 1.9 .6z" fill="#efb92f"/><path d="M650.2 455.8l2.6 0 2.1 -.4 1.6 -.8 .4 -.5 .1 -.6 -.3 -.6 -.8 -.6 -1.3 -.6 -2.1 -.5 -1.8 -.1 -1.7 .2 -1.2 .4 -.9 .6 -.5 .6 -.1 .6 .1 .6 .5 .5 .9 .6 2.4 .6z" fill="#e5962f"/></g>
<rect x="605.20" y="336.30" width="236.40" height="236.70" fill="none" stroke="#000" stroke-width="2.3"/>
<line x1="649.55" y1="573.00" x2="649.55" y2="561.50" stroke="#000" stroke-width="2.9"/>
<line x1="605.20" y1="528.50" x2="616.70" y2="528.50" stroke="#000" stroke-width="2.9"/>
<line x1="723.40" y1="573.00" x2="723.40" y2="561.50" stroke="#000" stroke-width="2.9"/>
<line x1="605.20" y1="454.65" x2="616.70" y2="454.65" stroke="#000" stroke-width="2.9"/>
<line x1="797.25" y1="573.00" x2="797.25" y2="561.50" stroke="#000" stroke-width="2.9"/>
<line x1="605.20" y1="380.80" x2="616.70" y2="380.80" stroke="#000" stroke-width="2.9"/>
<line x1="612.63" y1="573.00" x2="612.63" y2="567.00" stroke="#000" stroke-width="2.0"/>
<line x1="605.20" y1="565.42" x2="611.20" y2="565.42" stroke="#000" stroke-width="2.0"/>
<line x1="686.48" y1="573.00" x2="686.48" y2="567.00" stroke="#000" stroke-width="2.0"/>
<line x1="605.20" y1="491.57" x2="611.20" y2="491.57" stroke="#000" stroke-width="2.0"/>
<line x1="760.33" y1="573.00" x2="760.33" y2="567.00" stroke="#000" stroke-width="2.0"/>
<line x1="605.20" y1="417.72" x2="611.20" y2="417.72" stroke="#000" stroke-width="2.0"/>
<line x1="834.18" y1="573.00" x2="834.18" y2="567.00" stroke="#000" stroke-width="2.0"/>
<line x1="605.20" y1="343.88" x2="611.20" y2="343.88" stroke="#000" stroke-width="2.0"/>
<text transform="translate(630.23,370.20) scale(1.0316,1)" font-family="Liberation Serif, DejaVu Serif, serif" font-weight="bold" font-size="41.36" fill="#000">(e)</text>
<text transform="translate(690.16,369.50) scale(1.0890,1)" font-family="Liberation Serif, DejaVu Serif, serif" font-style="italic" font-size="40.51" fill="#000">t</text>
<text transform="translate(713.52,372.45) scale(1.4386,1)" font-family="Liberation Serif, DejaVu Serif, serif" font-size="36.00" fill="#000">=</text>
<text transform="translate(751.25,370.52) scale(0.9381,1)" font-family="Liberation Serif, DejaVu Serif, serif" font-size="39.41" fill="#000">15Γ</text>
<defs><clipPath id="cf"><rect x="118.00" y="585.40" width="236.30" height="236.40"/></clipPath></defs>
<g clip-path="url(#cf)"><path d="M302.8 721.9l7.8 .4 4.1 -.1 4.2 -.5 4.1 -.7 3.5 -.9 3.6 -1.2 2.9 -1.3 3 -1.7 2.3 -1.7 1.9 -1.7 1.8 -2.4 .8 -1.8 .6 -2.3 0 -1.8 -.6 -2.4 -1.2 -2.3 -1.4 -1.8 -1.9 -1.8 -2.3 -1.7 -3 -1.6 -2.9 -1.3 -3 -1 -4.1 -1.1 -3.5 -.7 -4.2 -.5 -8.3 -.2 -8.2 .7 -8.3 1.5 -6.5 1.6 -7.1 2.2 -22.4 8.3 -5.4 1.8 -1.3 .3 .9 .6 6.4 2.2 17.7 7 10 3.6 5.9 1.7 4.8 1.1 4.1 .8 5.2 .7zM156.8 720.1l7.3 .3 6.5 -.2 7.7 -.8 7 -1.4 6.5 -1.7 5.9 -1.8 24.9 -8.8 5.9 -1.9 1.2 -.2 -1.2 -.3 -6.5 -2.3 -17.8 -7.2 -8.8 -3.3 -10.1 -3.1 -8.2 -1.9 -8.3 -1.1 -7.7 -.3 -4.1 .3 -4.2 .5 -4.1 .8 -3.5 .9 -3.6 1.2 -2.9 1.3 -3 1.6 -2.3 1.6 -2.1 1.8 -1.9 2.4 -1 1.8 -.7 2.3 -.1 2.4 .5 2.4 .7 1.7 1.7 2.4 2.3 2.2 2.3 1.8 3 1.7 2.9 1.3 3 1.1 4.1 1.1 4.7 1 4 .4z" fill="#2f3785"/><path d="M308.8 721.9l3.6 0 4.1 -.3 7.1 -1.2 4.1 -1.2 3 -1.1 2.9 -1.4 2.4 -1.4 2.1 -1.7 1.8 -1.7 1.3 -1.8 1 -2.4 .4 -2.3 -.1 -1.8 -.5 -1.8 -.8 -1.7 -1.3 -1.8 -1.8 -1.8 -2.1 -1.6 -2.4 -1.5 -2.9 -1.4 -3 -1.1 -3.5 -1 -3.6 -.8 -7.1 -.8 -8.8 0 -7.7 .8 -8.3 1.7 -8.8 2.5 -10.1 3.6 -17.2 6.7 -1.1 .6 .2 .6 22.3 9.2 6.5 2.3 5.3 1.7 6.5 1.8 5.9 1.1 5.3 .7 5.3 .3zM154.9 719.6l6.2 .4 8.9 -.1 7.1 -.7 8.2 -1.6 7.1 -1.9 8.9 -2.9 13.4 -5.1 8.5 -3.5 .6 -.6 -.2 -.6 -2.2 -1.2 -17.2 -7.4 -11.8 -4.4 -8.8 -2.6 -8.3 -1.8 -8.3 -.9 -7.1 -.1 -7.6 .8 -6.5 1.4 -3.6 1.2 -2.9 1.3 -3 1.6 -2.4 1.6 -2.3 2.2 -1.5 1.8 -1.2 2.4 -.5 1.7 -.1 2.4 .3 1.8 1 2.3 1.2 1.8 2 2.1 2.3 1.9 2.4 1.4 2.9 1.5 3 1.1 3.5 1.1 3.6 .9 4.4 .7z" fill="#3a4699"/><path d="M305.1 721.3l4.3 .2 3.6 0 4.1 -.4 3.5 -.5 3.6 -.8 3.5 -1 5.3 -2.3 2.7 -1.7 2.1 -1.6 1.7 -1.9 1.2 -1.8 .8 -1.8 .3 -1.7 -.1 -2.4 -.5 -1.8 -.8 -1.7 -1.4 -1.8 -1.8 -1.8 -1.8 -1.4 -2.4 -1.4 -2.9 -1.4 -3.6 -1.3 -2.9 -.8 -6.5 -1.2 -7.7 -.4 -8.3 .4 -7.6 1.2 -5.4 1.2 -4.7 1.3 -10.6 3.6 -14.9 6.1 -2.3 1.2 -.6 .6 .1 .6 .7 .6 2.2 1.2 7.9 3.5 9.2 3.8 7.1 2.6 5.3 1.6 6.5 1.6 5.4 1 5.7 .6zM159.2 719.6l7.2 .1 6.5 -.4 7.1 -1 6.5 -1.4 8.3 -2.4 9.4 -3.4 10.9 -4.5 2.4 -1.2 1.8 -1.2 .3 -.6 0 -.6 -.5 -.6 -1.7 -1.2 -4.7 -2.3 -7.3 -3.3 -7.1 -3 -6.5 -2.3 -5.3 -1.7 -8.2 -2 -8.9 -1.4 -7.1 -.3 -7.7 .5 -7.1 1.4 -3.5 1.1 -3 1.1 -2.9 1.4 -2.4 1.5 -2.1 1.7 -1.8 1.7 -1.2 1.8 -.9 1.8 -.6 2.3 -.1 1.8 .6 2.4 .8 1.7 1.2 1.8 1.8 1.9 2.1 1.7 2.6 1.6 2.9 1.4 3.6 1.4 3.5 1 3.6 .8 7.5 .9z" fill="#3d509f"/><path d="M303.2 720.7l7.4 .4 3.5 -.1 4.2 -.5 6.5 -1.3 2.9 -.9 3 -1.2 2.3 -1.3 2.5 -1.6 2.1 -1.7 1.5 -1.8 1.1 -1.8 .6 -1.8 .3 -1.7 -.2 -1.8 -.5 -1.8 -.9 -1.7 -1.4 -1.8 -1.8 -1.8 -2.1 -1.5 -2.3 -1.3 -2.4 -1.1 -3.5 -1.3 -6.5 -1.5 -6.5 -.7 -8.3 0 -7.7 .9 -4.7 .8 -5.3 1.3 -5.9 1.8 -6.5 2.3 -6.7 2.7 -6.5 2.9 -2.9 1.8 -.4 .6 0 .6 .4 .6 1.7 1.2 4.7 2.3 8.5 3.7 7.7 3 5.9 1.9 4.7 1.3 5.9 1.2 5.6 .7zM156.7 719.0l7.4 .3 6.5 -.2 7.1 -.8 7.1 -1.4 8.2 -2.3 8.9 -3.2 8.5 -3.7 3.4 -1.7 1.7 -1.2 .8 -1.2 0 -.6 -.3 -.6 -1.3 -1.2 -2.9 -1.7 -5.9 -3 -7.6 -3.3 -6.5 -2.4 -6.1 -2 -8 -1.9 -7.7 -1.2 -7.1 -.4 -7.1 .4 -7.1 1.2 -3.5 1 -3 1.1 -2.9 1.4 -2.4 1.4 -1.8 1.2 -1.9 1.7 -1.4 1.8 -1.1 1.8 -.6 1.8 -.3 2.3 .4 2.4 .7 1.8 1.1 1.7 1.4 1.6 1.7 1.6 2.4 1.6 2.3 1.4 3 1.3 3.5 1.2 3.6 .9 6.8 1.1z" fill="#4157a5"/><path d="M301.7 720.1l7.7 .6 6.5 -.3 6.5 -1.1 5.9 -1.8 3 -1.3 2.3 -1.4 1.8 -1.3 1.8 -1.6 1.4 -1.8 1 -1.8 .5 -1.7 .1 -1.8 -.2 -1.8 -.7 -1.8 -1.1 -1.7 -1.6 -1.8 -1.8 -1.5 -2.3 -1.6 -2.4 -1.2 -3 -1.2 -2.9 -.9 -3.6 -.8 -5.9 -.9 -7.7 -.1 -7 .5 -5.4 .8 -5.9 1.3 -5.9 1.7 -6.5 2.3 -6.7 2.8 -6.1 2.9 -2.4 1.8 -.3 .6 0 .6 .3 .6 1.3 1.2 3.1 1.7 6.7 3.2 7.1 2.9 5.9 2.1 5.9 1.6 5.3 1.2 5.3 .8zM155.2 718.4l6.5 .5 8.3 -.2 7.1 -.8 7.7 -1.5 8.2 -2.4 8.3 -3 7 -3.3 3 -1.7 1.4 -1.2 .7 -1.2 -.2 -1.2 -1.7 -1.8 -2.7 -1.7 -5.1 -2.7 -6.5 -2.9 -6.5 -2.4 -5.4 -1.7 -7.6 -1.9 -7.7 -1.2 -7.1 -.4 -6.5 .3 -7.1 1.2 -5.9 1.9 -3 1.3 -2.3 1.3 -1.9 1.3 -2.1 1.7 -1.5 1.8 -1.1 1.8 -.6 1.8 -.3 1.7 .1 1.8 .5 1.8 .8 1.7 1.4 1.9 1.7 1.7 1.8 1.4 2.4 1.5 2.9 1.4 5.9 2 7.1 1.4z" fill="#4459a6"/><path d="M306.9 720.1l6.6 0 6.5 -.8 3.6 -.8 2.9 -.9 5 -2.2 2.1 -1.3 1.8 -1.4 1.4 -1.4 1.3 -1.8 .8 -1.8 .4 -1.7 0 -1.8 -.4 -1.8 -.8 -1.8 -1.3 -1.7 -1.4 -1.4 -1.8 -1.4 -2.3 -1.5 -2.4 -1.1 -5.3 -1.9 -5.9 -1.2 -5.9 -.5 -7.7 .2 -7.1 .8 -5.3 1 -5.3 1.4 -5.9 1.9 -5.9 2.3 -5.8 2.6 -3.2 1.7 -2 1.8 -.3 .6 0 .6 .2 .6 1.1 1.2 3.8 2.3 6.7 3.2 7.7 3 5.9 1.9 6.5 1.6 6.5 1.1 5.2 .4zM160.2 718.4l6.8 0 6.5 -.5 7.1 -1.1 7.1 -1.7 7.7 -2.5 7.4 -3.1 5.4 -2.9 1.5 -1.2 1 -1.2 .2 -1.2 -.2 -.6 -.8 -1.2 -2.1 -1.7 -4 -2.4 -5.5 -2.6 -5.9 -2.4 -6.5 -2.3 -5.9 -1.5 -7.7 -1.5 -7.6 -.7 -6.5 .2 -6.5 .9 -5.9 1.5 -5.4 2.3 -2.3 1.3 -1.8 1.3 -1.8 1.7 -1.4 1.8 -1 1.8 -.5 1.7 -.2 1.8 .2 1.8 .7 1.8 1 1.7 1.5 1.8 2 1.8 4.2 2.6 3 1.3 2.9 1 6.5 1.5 6.8 .7z" fill="#4860ab"/><path d="M305.1 719.6l6.7 .2 6.5 -.7 5.9 -1.3 5.3 -2 2.4 -1.3 2 -1.4 1.5 -1.4 1.3 -1.6 .8 -1.2 .7 -1.8 .3 -1.7 -.2 -1.8 -.5 -1.8 -1.1 -1.7 -2.5 -2.7 -1.9 -1.5 -2.1 -1.2 -4.8 -2 -5.4 -1.4 -6.5 -.8 -7 -.1 -6.5 .5 -6 1 -5.3 1.3 -5.9 1.8 -5.3 1.9 -4.5 2 -4.4 2.3 -2.2 1.8 -.7 1.2 0 .6 .1 .6 1 1.2 3.4 2.3 5.5 2.8 5.9 2.4 5.9 2 5.4 1.5 5.9 1.2 6.3 .8zM158.0 717.8l7.3 .2 6.5 -.3 6.5 -.9 7 -1.6 7.7 -2.4 6.8 -2.7 5.4 -3 1.6 -1.1 1.2 -1.2 .5 -1.2 0 -.6 -.3 -1.2 -1.7 -1.7 -3.4 -2.4 -4.8 -2.5 -5.9 -2.6 -5.3 -1.9 -5.9 -1.7 -7.7 -1.5 -7.1 -.8 -5.9 -.1 -6.5 .6 -5.9 1.3 -3.5 1.2 -2.4 1 -2.4 1.2 -2.3 1.6 -1.5 1.2 -1.6 1.8 -1.1 1.8 -.7 1.8 -.3 1.7 .1 1.8 .5 1.8 .9 1.7 1.3 1.8 1.3 1.2 1.7 1.4 2.3 1.4 4.8 2.2 3.5 1.1 3 .7 6.3 .9z" fill="#5270b5"/><path d="M304.0 719.0l6.6 .3 5.9 -.4 5.3 -1 5.3 -1.7 4.2 -2.1 1.7 -1.3 1.7 -1.5 1 -1.2 1.1 -1.8 .6 -1.7 .1 -1.8 -.1 -1.2 -.6 -1.8 -1.1 -1.7 -1 -1.2 -1.7 -1.6 -1.7 -1.2 -2.4 -1.3 -2.4 -1.1 -5.3 -1.6 -5.9 -1 -6.5 -.2 -6.5 .3 -5.9 .8 -5.3 1.1 -5.3 1.5 -5.9 2.1 -5.1 2.2 -4.2 2.3 -2 1.8 -.6 1.2 -.1 .6 .2 .6 .8 1.2 2.2 1.7 4.2 2.4 6.3 2.8 5.9 2.1 5.4 1.5 5.3 1.1 5.8 .8zM156.7 717.2l5.6 .3 7.7 -.1 5.9 -.7 7.1 -1.4 7.1 -2 6.6 -2.6 5.7 -3 1.7 -1.1 1.2 -1.2 1 -1.8 0 -.6 -.3 -1.2 -1.4 -1.7 -2.4 -1.8 -4 -2.4 -5.8 -2.6 -5.9 -2.2 -5.9 -1.7 -7.1 -1.5 -6.5 -.7 -5.9 -.2 -5.9 .5 -5.9 1.2 -3 .9 -2.9 1.2 -4.1 2.2 -1.8 1.4 -1.6 1.5 -1 1.2 -1 1.8 -.6 1.7 -.1 1.8 .2 1.8 .7 1.8 1 1.7 1.1 1.2 1.9 1.7 1.7 1.3 2.4 1.3 2.4 1.1 5.9 1.8 6.2 1.1z" fill="#5a7fc2"/><path d="M303.3 718.4l6.7 .4 5.3 -.3 5.9 -1 4.8 -1.5 4.1 -2 1.8 -1.2 1.7 -1.5 1.1 -1.2 1.1 -1.8 .4 -1.2 .3 -1.7 -.1 -1.8 -.4 -1.2 -.9 -1.8 -.9 -1.1 -1.7 -1.7 -1.8 -1.3 -4.2 -2.1 -5.3 -1.7 -5.3 -1 -5.3 -.3 -7.1 .2 -5.3 .6 -5.3 1 -5.9 1.6 -5.4 1.9 -4.9 2.2 -4.1 2.3 -1.9 1.8 -.6 1.2 0 .6 .1 .6 .8 1.2 2 1.7 4.1 2.4 4.5 2.1 5.4 2 5.3 1.6 5.3 1.1 5.7 .9zM155.9 716.6l5.8 .4 7.1 0 6.5 -.7 6.5 -1.3 6.5 -1.8 6.6 -2.5 2.8 -1.4 2.8 -1.6 1.6 -1.1 1.2 -1.2 .9 -1.8 0 -.6 -.3 -1.2 -1.3 -1.7 -2.2 -1.8 -3.9 -2.4 -5.3 -2.4 -5.3 -2 -5.9 -1.7 -6.5 -1.4 -6.5 -.7 -5.9 -.2 -5.9 .5 -5.3 1.1 -5.3 1.8 -4.2 2.1 -1.7 1.3 -1.8 1.6 -1 1.2 -1 1.8 -.6 1.7 -.2 1.2 .1 1.8 .6 1.8 .6 1.2 1.2 1.7 1.5 1.4 2 1.6 4.5 2.4 5.3 1.7 6 1.2z" fill="#649fd6"/><path d="M302.9 717.8l5.9 .4 5.3 -.1 5.4 -.8 5.3 -1.5 4.5 -2.2 3.1 -2.3 2 -2.4 .5 -1.2 .5 -1.7 .1 -1.2 -.4 -1.8 -.7 -1.8 -.9 -1.1 -2.4 -2.4 -4 -2.3 -4.1 -1.6 -5.3 -1.3 -5.3 -.5 -6.5 0 -5.4 .5 -5.3 .8 -5.3 1.3 -5.3 1.7 -4.8 2 -4.3 2.3 -2.2 1.8 -.8 1.2 -.2 .6 0 .6 .3 1.2 1.6 1.7 3.6 2.4 3.8 1.9 5.4 2.1 5.3 1.7 5.3 1.2 5.3 .8zM155.4 716.0l5.1 .5 7.1 0 6.5 -.6 5.9 -1 6.5 -1.8 5.9 -2.1 5.2 -2.7 3.1 -2.3 1.2 -1.8 .2 -.6 0 -1.2 -.9 -1.8 -2.6 -2.3 -3.8 -2.4 -4.7 -2.2 -5.3 -2 -5.4 -1.5 -5.9 -1.2 -7.1 -.9 -5.3 -.1 -5.3 .5 -5.9 1.2 -4.7 1.6 -4.2 2.2 -3 2.4 -1.1 1.3 -1 1.7 -.5 1.2 -.3 1.7 .1 1.8 .3 1.2 .9 1.8 1.1 1.5 1.4 1.4 1.6 1.2 4.1 2.3 4.7 1.7 6.1 1.3z" fill="#6ec1ee"/><path d="M302.9 717.2l5.9 .4 4.7 -.1 5.4 -.7 4.7 -1.3 4.2 -1.9 3.4 -2.3 2 -2.4 .6 -1.2 .5 -1.7 0 -1.2 -.3 -1.8 -1.2 -2.4 -1 -1.1 -1.7 -1.5 -3.6 -2.1 -4.1 -1.6 -4.7 -1.2 -5.3 -.5 -5.9 0 -5.4 .4 -5.3 .8 -4.7 1.2 -4.9 1.5 -4.6 1.9 -4.1 2.2 -2.1 1.8 -.7 1.2 -.2 .6 -.1 .6 .4 1.2 1.4 1.7 2.5 1.8 4.1 2.2 4.7 1.9 4.8 1.5 5.3 1.3 5.3 .8zM161.5 716.0l6.1 0 5.3 -.5 5.9 -.9 6 -1.6 5.3 -1.9 4.6 -2.2 3.4 -2.3 1.2 -1.2 .6 -1.2 .2 -1.8 -.8 -1.8 -1.7 -1.7 -3.5 -2.4 -4.6 -2.3 -4.7 -1.8 -5.4 -1.6 -5.3 -1.2 -5.9 -.8 -5.9 -.3 -5.3 .4 -5.3 .9 -5.4 1.7 -4.1 2.1 -3 2.3 -1.1 1.2 -1.1 1.8 -.5 1.2 -.4 1.7 .1 1.2 .4 1.8 .9 1.8 .8 1.1 2.7 2.5 4.2 2.4 4.7 1.7 5.9 1.2 5.7 .5z" fill="#7cc4d5"/><path d="M303.2 716.6l5.6 .4 4.7 -.1 4.8 -.7 4.7 -1.2 4.1 -1.9 3 -2.1 1.4 -1.5 .8 -1.2 .8 -2.3 0 -1.2 -.3 -1.8 -1.3 -2.4 -2.5 -2.3 -3 -1.9 -4.2 -1.6 -4.7 -1.1 -4.7 -.5 -5.4 0 -4.7 .3 -5.3 .8 -4.7 1 -4.8 1.5 -4.7 2 -3.2 1.8 -2 1.8 -1 1.8 0 .6 .3 1.2 1.4 1.7 2.4 1.8 3.3 1.8 4.2 1.8 4.7 1.5 5.3 1.2 5 .8zM160.6 715.4l5.8 .1 5.4 -.4 5.9 -.9 5.3 -1.3 5.3 -1.9 4.5 -2.1 3.4 -2.3 1.5 -1.8 .5 -1.8 -.5 -1.8 -1.3 -1.7 -3.1 -2.4 -4.4 -2.3 -4.7 -1.9 -5.4 -1.7 -5.3 -1.1 -5.9 -.8 -5.3 -.2 -5.3 .3 -5.3 1 -4.8 1.5 -4.1 2.2 -3 2.4 -1.7 2.4 -.8 2.3 0 1.8 .2 1.2 .7 1.8 .8 1.1 2.6 2.5 3.7 2.3 4.6 1.7 5.3 1.3 5.4 .5z" fill="#8cc6b5"/><path d="M303.9 716.0l5.5 .4 4.1 -.2 4.8 -.7 4.1 -1.1 3.6 -1.6 3 -2.1 1.9 -2.4 .9 -2.3 -.1 -2.4 -1.1 -2.4 -1 -1.1 -1.3 -1.2 -2.9 -1.9 -3.6 -1.4 -4.7 -1.2 -4.7 -.6 -5.4 0 -4.7 .4 -4.7 .7 -4.6 1 -4.3 1.4 -3.8 1.6 -3.1 1.7 -2 1.8 -.9 1.8 -.1 .6 .3 1.2 1.4 1.7 2.3 1.8 3.4 1.8 4.3 1.7 4.1 1.3 4.8 1 4.5 .7zM160.7 714.8l5.7 .1 5.4 -.4 4.7 -.7 5.3 -1.3 4.7 -1.6 4.3 -2 2.8 -1.9 1.2 -1 .9 -1.2 .5 -1.8 -.4 -1.8 -1.4 -1.7 -3 -2.4 -3.7 -2 -4.7 -1.9 -5.3 -1.6 -4.8 -1 -5.3 -.7 -5.3 -.2 -5.3 .3 -4.7 .9 -4.2 1.3 -3.9 1.9 -3.1 2.4 -1.8 2.4 -.8 2.3 -.1 1.8 .3 1.2 .7 1.8 .9 1.1 2.5 2.4 3.5 2.1 4.2 1.5 5.3 1.2 4.9 .5z" fill="#8ec39a"/><path d="M305.4 715.4l4.6 .2 4.1 -.2 4.2 -.7 4.1 -1.2 3.3 -1.6 2.3 -1.8 1.1 -1.2 .7 -1.2 .5 -1.1 .2 -1.2 -.1 -1.2 -.3 -1.2 -.6 -1.2 -.9 -1.2 -2.1 -1.7 -3.1 -1.8 -3.4 -1.2 -4.1 -.9 -4.1 -.5 -5.3 .1 -4.8 .4 -4.7 .8 -4.1 1 -4.2 1.5 -2.9 1.4 -2.4 1.5 -1.7 1.8 -.3 .6 -.3 1.2 .3 1.2 1.3 1.7 2.4 1.8 3.4 1.8 3.8 1.4 4.1 1.2 4.7 1 4.3 .5zM161.9 714.2l5.1 0 5.3 -.5 4.8 -.8 4.7 -1.2 4.4 -1.6 3.5 -1.8 2.4 -1.7 1.1 -1.2 .7 -1.2 .2 -1.8 -.7 -1.8 -.9 -1.1 -1.3 -1.1 -2.8 -1.9 -3.6 -1.8 -4.2 -1.5 -4.7 -1.3 -4.7 -.9 -5.4 -.6 -4.7 -.1 -4.7 .5 -4.7 1 -4.2 1.5 -3.6 2 -2.5 2.4 -1.4 2.4 -.3 1.1 0 1.8 .7 2.4 1.8 2.3 2.4 1.9 3.5 1.9 4.2 1.4 4.7 .9 4.9 .4z" fill="#97c47b"/><path d="M309.1 714.8l3.9 -.1 4.1 -.6 3.8 -1 3.3 -1.6 2.3 -1.7 1.7 -2.1 .6 -1.7 .1 -1.2 -.2 -1.2 -.9 -1.8 -1.8 -2 -2.4 -1.5 -3.6 -1.5 -3.5 -.9 -3.5 -.5 -4.2 -.1 -4.7 .2 -4.1 .6 -4.2 .9 -4.1 1.3 -2.9 1.2 -2.4 1.4 -1.8 1.5 -.8 1.2 -.2 .6 .1 1.2 .9 1.7 2.1 1.8 2.6 1.5 3.5 1.5 3.8 1.2 3.9 .8 4.2 .6 4.4 .3zM156.5 713.1l4.6 .4 5.3 0 4.8 -.3 4.7 -.8 4.7 -1.2 4.2 -1.5 3.6 -2 2.2 -1.7 1.2 -1.8 .2 -1.8 -.6 -1.8 -1.6 -1.7 -2.5 -1.8 -3.7 -1.9 -4.2 -1.6 -4.6 -1.2 -4.8 -.9 -5.3 -.5 -4.2 0 -4.1 .5 -4.1 .9 -4.2 1.5 -2.9 1.7 -2.4 2.1 -1.4 2.4 -.4 1.1 -.1 1.2 .2 1.2 .4 1.2 1.6 2.3 2.7 2.2 2.9 1.6 3.6 1.2 4.2 1z" fill="#a2c76a"/><path d="M305.0 713.6l4.4 .3 3.6 -.1 3.5 -.5 3 -.8 2.9 -1.3 2.5 -1.7 1.5 -1.8 .7 -1.7 0 -1.8 -.7 -1.8 -1.5 -1.8 -2.7 -1.7 -2.7 -1.2 -3.6 -.9 -3.5 -.5 -3.6 -.1 -4.1 .2 -3.6 .5 -4 .8 -3.1 .9 -3.3 1.5 -2 1.1 -1.4 1.2 -1 1.8 0 1.2 1 1.7 2 1.8 2.2 1.2 2.9 1.2 3.8 1.1 3.5 .8 3.3 .4zM157.7 712.5l4 .3 5.3 0 4.8 -.5 4.1 -.7 4.1 -1.2 3.9 -1.5 3 -1.8 2 -1.7 .7 -1.2 .2 -1.8 -.6 -1.8 -1.6 -1.7 -2.5 -1.8 -3.6 -1.8 -3.8 -1.3 -4.2 -1.1 -4.7 -.8 -4.7 -.3 -3.6 0 -4.1 .5 -4.1 1 -3.6 1.4 -2.9 1.8 -1.9 1.8 -.7 1.2 -.5 1.1 -.3 1.2 .1 1.2 .3 1.2 .5 1.2 1.4 1.7 2.3 1.8 2.9 1.5 3.5 1.2 4.3 .9z" fill="#acc95c"/><path d="M304.2 712.5l3.4 .3 3.6 .1 3.5 -.4 2.7 -.6 3.1 -1.2 1.9 -1.2 1.3 -1.2 1.1 -1.7 .3 -1.8 -.5 -1.8 -1.5 -1.8 -1.5 -1.1 -2.4 -1.2 -2.7 -.9 -3 -.5 -3.5 -.2 -3.5 .1 -3.4 .3 -3.1 .6 -3 .7 -2.8 1.1 -2.2 1.1 -1.5 1.2 -.9 1.2 -.3 1.2 0 .6 .6 1.2 1 1.1 1.7 1.2 2.4 1.2 3.2 1.1 6 1.3zM160.1 711.9l4.6 .1 4.1 -.2 3.9 -.5 3.8 -.8 3.5 -1.2 3.5 -1.6 1.8 -1.3 1.6 -1.6 .5 -1.2 0 -1.8 -1 -1.7 -1.9 -1.8 -2.7 -1.6 -3.2 -1.4 -3.8 -1.2 -3.6 -.8 -4.2 -.5 -4.1 -.2 -4.1 .2 -3.6 .6 -3.5 1.1 -3 1.4 -2.4 1.8 -1.5 1.8 -.7 1.7 -.1 1.2 .2 1.2 .8 1.8 1.9 2 2.4 1.6 3.5 1.5 3.6 .9 3.7 .5z" fill="#bfd44c"/><path d="M305.6 711.3l5.6 .2 2.5 -.2 2.6 -.6 2 -.7 1.8 -1.1 1.4 -1.2 .7 -1.1 .4 -1.2 -.4 -1.8 -.7 -1.2 -1.4 -1.2 -2.1 -1.1 -2.1 -.7 -2.4 -.5 -2.9 -.3 -5.9 .3 -3 .5 -2.6 .7 -2.1 .7 -1.9 1 -1.4 1.2 -.7 1.2 -.1 1.2 .6 1.2 2.1 1.7 2 1 2.3 .8 2.4 .6 3.3 .6zM158.2 710.7l3.5 .3 4.1 0 4.1 -.3 3.5 -.6 3.1 -.8 2.9 -1.1 2.4 -1.2 2 -1.6 .8 -1.2 .4 -1.8 -.7 -1.8 -1 -1.1 -2.5 -1.8 -2.4 -1.2 -3.3 -1.2 -3.3 -.8 -3.6 -.6 -4.1 -.4 -3.1 .1 -3.4 .4 -3.4 .7 -3 1.2 -2 1.2 -2 1.8 -1 1.7 -.3 1.8 .4 1.8 1.2 1.8 2.1 1.7 2.2 1.2 3.4 1.2 3 .6z" fill="#d0dd44"/><path d="M158.1 709.5l3 .4 3.6 0 3.5 -.2 3 -.4 2.9 -.7 2.6 -.9 2.4 -1.1 1.6 -1.2 .9 -1.2 .4 -1.2 -.2 -1.5 -1 -1.4 -1.3 -1.2 -2.4 -1.4 -2.5 -1 -3.4 -.9 -3 -.6 -3.5 -.3 -3 -.1 -2.9 .3 -3 .7 -2.6 .9 -2.2 1.2 -1.4 1.2 -.9 1.2 -.6 1.7 .2 1.8 1 1.8 1.3 1.2 2.2 1.3 2.4 .9 2.9 .7zM306.9 709.5l4.3 .2 3.5 -.7 2.6 -1.3 1 -.9 .5 -.8 .1 -.6 -.1 -1.2 -.5 -.9 -1 -.9 -2.6 -1.3 -2.1 -.5 -2 -.1 -4.1 .1 -3.6 .7 -3 1.1 -1.1 .8 -.8 1 -.1 .6 .3 1.2 .5 .6 1.3 .9 1.7 .8 1.8 .6 3.4 .6z" fill="#e4e43a"/><path d="M159.9 708.3l2.4 .2 3.5 0 5.3 -.8 2 -.6 2.2 -.9 1.4 -.8 1.2 -1.2 .5 -1.2 -.1 -1.2 -.6 -1.2 -.6 -.5 -1.6 -1.2 -2 -.9 -2.3 -.8 -2.4 -.6 -3 -.4 -2.9 -.2 -4.6 .5 -2.2 .6 -2.1 .9 -1.2 .9 -1.2 1.2 -.6 1.1 -.2 1.2 .3 1.2 1.2 1.6 1.1 .9 2 1 2.2 .8 2.3 .4z" fill="#f4da30"/><path d="M159.3 706.0l3 .4 4.1 -.2 3.8 -.8 2.1 -1.2 .8 -1.2 0 -1.2 -.3 -.6 -1.4 -1.1 -2.9 -1.2 -3.2 -.6 -3.6 -.1 -3.3 .7 -2.2 1.2 -.6 .5 -.6 1.2 0 1.2 .3 .6 1.3 1.2 1 .6 1.7 .6z" fill="#efb92f"/></g>
<rect x="118.00" y="585.40" width="236.30" height="236.40" fill="none" stroke="#000" stroke-width="2.3"/>
<line x1="162.30" y1="821.80" x2="162.30" y2="810.30" stroke="#000" stroke-width="2.9"/>
<line x1="118.00" y1="777.45" x2="129.50" y2="777.45" stroke="#000" stroke-width="2.9"/>
<line x1="236.15" y1="821.80" x2="236.15" y2="810.30" stroke="#000" stroke-width="2.9"/>
<line x1="118.00" y1="703.60" x2="129.50" y2="703.60" stroke="#000" stroke-width="2.9"/>
<line x1="310.00" y1="821.80" x2="310.00" y2="810.30" stroke="#000" stroke-width="2.9"/>
<line x1="118.00" y1="629.75" x2="129.50" y2="629.75" stroke="#000" stroke-width="2.9"/>
<line x1="125.38" y1="821.80" x2="125.38" y2="815.80" stroke="#000" stroke-width="2.0"/>
<line x1="118.00" y1="814.37" x2="124.00" y2="814.37" stroke="#000" stroke-width="2.0"/>
<line x1="199.23" y1="821.80" x2="199.23" y2="815.80" stroke="#000" stroke-width="2.0"/>
<line x1="118.00" y1="740.52" x2="124.00" y2="740.52" stroke="#000" stroke-width="2.0"/>
<line x1="273.07" y1="821.80" x2="273.07" y2="815.80" stroke="#000" stroke-width="2.0"/>
<line x1="118.00" y1="666.67" x2="124.00" y2="666.67" stroke="#000" stroke-width="2.0"/>
<line x1="346.93" y1="821.80" x2="346.93" y2="815.80" stroke="#000" stroke-width="2.0"/>
<line x1="118.00" y1="592.82" x2="124.00" y2="592.82" stroke="#000" stroke-width="2.0"/>
<text transform="translate(142.81,619.39) scale(1.1057,1)" font-family="Liberation Serif, DejaVu Serif, serif" font-weight="bold" font-size="40.89" fill="#000">(f)</text>
<text transform="translate(200.51,618.60) scale(1.0598,1)" font-family="Liberation Serif, DejaVu Serif, serif" font-style="italic" font-size="40.51" fill="#000">t</text>
<text transform="translate(223.49,621.55) scale(1.4565,1)" font-family="Liberation Serif, DejaVu Serif, serif" font-size="36.00" fill="#000">=</text>
<text transform="translate(261.41,619.61) scale(0.9480,1)" font-family="Liberation Serif, DejaVu Serif, serif" font-size="39.73" fill="#000">5Γ</text>
<text transform="translate(71.09,787.85) scale(1.1494,1)" font-family="Liberation Serif, DejaVu Serif, serif" font-size="29.80" fill="#000">−5</text>
<text transform="translate(92.43,714.00) scale(1.0000,1)" font-family="Liberation Serif, DejaVu Serif, serif" font-size="29.80" fill="#000">0</text>
<text transform="translate(92.46,640.15) scale(1.0000,1)" font-family="Liberation Serif, DejaVu Serif, serif" font-size="29.80" fill="#000">5</text>
<text transform="translate(49.30,750.60) rotate(-90) translate(-1.45,0) scale(1.0321,1)" font-family="Liberation Serif, DejaVu Serif, serif" font-size="38.79" fill="#000">Im</text>
<text transform="translate(50.03,702.80) rotate(-90) translate(-1.45,0) scale(0.7856,1)" font-family="Liberation Serif, DejaVu Serif, serif" font-size="42.13" fill="#000">(</text>
<text transform="translate(50.11,691.90) rotate(-90) translate(-1.20,0) scale(1.0719,1)" font-family="Liberation Serif, DejaVu Serif, serif" font-style="italic" font-size="37.56" fill="#000">α</text>
<text transform="translate(50.03,668.30) rotate(-90) translate(-1.22,0) scale(0.8965,1)" font-family="Liberation Serif, DejaVu Serif, serif" font-size="42.13" fill="#000">)</text>
<text transform="translate(144.29,853.20) scale(1.1494,1)" font-family="Liberation Serif, DejaVu Serif, serif" font-size="29.80" fill="#000">−5</text>
<text transform="translate(228.70,853.20) scale(1.0000,1)" font-family="Liberation Serif, DejaVu Serif, serif" font-size="29.80" fill="#000">0</text>
<text transform="translate(302.27,853.20) scale(1.0000,1)" font-family="Liberation Serif, DejaVu Serif, serif" font-size="29.80" fill="#000">5</text>
<text transform="translate(187.70,899.10) scale(0.9859,1)" font-family="Liberation Serif, DejaVu Serif, serif" font-size="40.48" fill="#000">Re</text>
<text transform="translate(233.46,899.23) scale(0.8040,1)" font-family="Liberation Serif, DejaVu Serif, serif" font-size="42.13" fill="#000">(</text>
<text transform="translate(245.72,898.73) scale(1.1421,1)" font-family="Liberation Serif, DejaVu Serif, serif" font-style="italic" font-size="36.10" fill="#000">α</text>
<text transform="translate(270.55,899.23) scale(0.8133,1)" font-family="Liberation Serif, DejaVu Serif, serif" font-size="42.13" fill="#000">)</text>
<defs><clipPath id="cg"><rect x="361.70" y="585.40" width="236.20" height="236.40"/></clipPath></defs>
<g clip-path="url(#cg)"><path d="M550.2 722.5l4 .1 4.8 -.3 4.7 -.6 3.5 -.6 4.2 -1.2 2.9 -1 3 -1.4 2.9 -1.7 2.4 -1.7 2.3 -2.2 1.6 -2.4 .7 -1.8 .5 -2.3 -.2 -2.4 -.5 -1.8 -1.2 -2.3 -1.5 -1.8 -1.9 -1.8 -2.2 -1.6 -2.9 -1.7 -3 -1.3 -2.9 -1.1 -4.2 -1.1 -3.5 -.7 -4.1 -.5 -4.2 -.3 -8.2 .2 -8.3 .9 -9.5 2 -10.6 3.3 -23.6 8.7 -5.4 1.8 -1.3 .3 1 .6 7.4 2.5 18.3 7.2 10.7 3.6 6.5 1.8 5.9 1.2 6.5 1 5.4 .4zM398.6 719.6l6.2 .4 8.2 0 7.1 -.7 7.1 -1.2 6.5 -1.6 6.5 -2 24.2 -8.8 5.9 -1.9 1.2 -.2 -1.2 -.3 -6.5 -2.4 -17.1 -7.1 -8.3 -3.2 -8.2 -2.7 -8.9 -2.2 -8.3 -1.2 -7.1 -.3 -4.1 .2 -4.1 .4 -7.1 1.4 -3.6 1.1 -3.5 1.4 -3 1.4 -2.6 1.7 -2.1 1.8 -1.7 1.7 -1.6 2.4 -.7 1.8 -.4 2.3 .3 2.4 .8 2.4 1.1 1.7 1.6 1.9 2.4 2 2.9 1.9 3 1.5 3.5 1.4 3.6 1 3.5 .8 4.5 .8z" fill="#2f3785"/><path d="M546.8 721.9l8 .3 4.2 -.2 4.1 -.6 4.1 -.8 3.6 -.9 2.9 -1.1 3.6 -1.6 2.7 -1.6 2.3 -1.8 1.8 -1.7 1.6 -2.4 .8 -1.8 .5 -2.3 -.1 -1.8 -.6 -2.4 -.9 -1.7 -1.6 -2.1 -1.8 -1.7 -2.4 -1.8 -2.9 -1.6 -3 -1.4 -3.5 -1.2 -3 -.8 -7.1 -1.2 -4.1 -.3 -4.7 0 -8.3 .5 -8.9 1.5 -7.6 1.9 -7.7 2.5 -8.3 3 -18.9 7.4 .4 .6 1.4 .6 20.1 7.9 10 3.6 5.9 1.8 6.5 1.6 5.3 1 5.6 .6zM402.7 719.6l7.4 .1 6.5 -.3 6.5 -.9 7.1 -1.5 7.1 -2 8.2 -2.8 19.1 -7.4 1.3 -.6 .9 -.6 -.4 -.6 -1.1 -.6 -16.8 -7.3 -8.9 -3.6 -7.8 -2.7 -8.1 -2.2 -8.9 -1.5 -7.7 -.6 -7.1 .4 -4.1 .6 -3.5 .7 -4.2 1.1 -2.9 1.1 -3 1.3 -2.9 1.7 -2.1 1.6 -1.9 1.7 -1.8 2.4 -.8 1.8 -.6 2.3 0 1.8 .4 1.8 1 2.3 1.3 1.8 1.7 1.8 2.2 1.7 2.3 1.5 3 1.4 3.5 1.4 3 .9 4.1 1 4.2 .6 3.8 .4z" fill="#3a4699"/><path d="M544.8 721.3l8.3 .5 4.1 -.1 3.5 -.3 3.6 -.6 4.1 -.9 3.6 -1.1 2.9 -1.2 3 -1.5 2.3 -1.5 2.4 -2.1 1.6 -1.8 1 -1.8 .7 -1.8 .3 -2.3 -.1 -1.8 -.9 -2.4 -1 -1.7 -1.5 -1.8 -2 -1.8 -2.2 -1.5 -3 -1.6 -2.9 -1.2 -3.6 -1.2 -6.5 -1.4 -4.1 -.5 -3.6 -.1 -8.2 .2 -8.3 1 -8.9 1.9 -11.2 3.6 -7.7 2.8 -11.1 4.5 -3.9 1.8 -.7 .6 .2 .6 .8 .6 2.6 1.2 13.3 5.5 9.5 3.6 5.9 1.9 6.5 1.8 5.3 1.1 5.9 .8zM400.3 719.0l5.6 .3 8.3 -.1 7.7 -.9 6.5 -1.3 8.3 -2.3 8.8 -3.1 12.4 -5 2.6 -1.2 2 -1.2 .5 -.6 -.1 -.6 -.6 -.6 -4.3 -2.3 -13.6 -6.2 -6.5 -2.6 -6 -2 -7.6 -2.1 -8.3 -1.6 -8.3 -.7 -6.5 .3 -3.5 .4 -4.2 .8 -3.5 .9 -3.5 1.1 -3 1.3 -2.4 1.3 -2.3 1.5 -1.9 1.6 -1.6 1.8 -1.2 1.8 -.9 2.4 -.2 1.7 .2 2.4 .6 1.8 1 1.7 1.5 1.8 1.9 1.8 2.3 1.6 3 1.6 2.4 1.1 3.5 1.2 3 .8 4.1 .9 3.8 .5z" fill="#3d509f"/><path d="M549.8 721.3l3.8 .1 4.2 -.1 7.1 -1 6.5 -1.8 2.9 -1.1 3 -1.5 2.4 -1.7 2.1 -1.7 1.6 -1.8 1 -1.8 .7 -1.8 .3 -1.7 -.1 -2.4 -.6 -1.8 -.9 -1.7 -1.4 -1.8 -1.9 -1.8 -2 -1.5 -2.4 -1.3 -3 -1.4 -3.5 -1.2 -3 -.8 -7 -1.2 -7.7 -.4 -8.3 .5 -8.3 1.4 -4.7 1.1 -5.9 1.6 -11.8 4.3 -7.6 3.1 -5.2 2.3 -1.9 1.2 -.5 .6 .1 .6 .6 .6 2 1.2 7.8 3.5 9.4 3.8 8.3 2.9 6.5 1.9 5.9 1.3 5.9 .9 5.6 .4zM398.8 718.4l6 .5 8.2 -.1 7.1 -.7 7.1 -1.3 8.3 -2.2 8.3 -2.9 9.4 -4 3.7 -1.7 1.9 -1.2 1 -1.2 0 -.6 -1 -1.2 -2.8 -1.7 -5.9 -3 -6.9 -3.1 -6.5 -2.6 -5.3 -1.8 -8.3 -2.3 -7.1 -1.2 -7.7 -.7 -6.5 .2 -4.1 .4 -3.6 .7 -6.5 1.8 -5.3 2.4 -2.3 1.5 -1.8 1.4 -2.1 2.1 -1.2 1.8 -.7 1.8 -.4 1.7 0 1.8 .4 1.8 .7 1.8 1.5 2.1 2 2 2.1 1.6 2.4 1.4 3 1.4 5.9 1.9 7 1.4z" fill="#4157a5"/><path d="M547.2 720.7l7.6 .3 7.1 -.6 3.6 -.7 3.5 -.9 3.6 -1.2 2.3 -1.1 2.4 -1.3 2.2 -1.6 2 -1.7 1.4 -1.8 1 -1.8 .6 -1.7 .1 -2.4 -.3 -1.8 -.7 -1.8 -1.1 -1.7 -1.6 -1.8 -2.1 -1.8 -2.1 -1.3 -3 -1.5 -5.9 -2.1 -6.5 -1.3 -6.5 -.5 -7.6 .1 -8.3 1 -5.9 1.2 -5.9 1.6 -5.9 1.9 -6.5 2.4 -6.4 2.7 -5 2.3 -2.6 1.8 -.3 .6 0 .6 .4 .6 1.6 1.2 4.7 2.3 8.7 3.8 7.7 2.9 6.5 2 5.9 1.4 5.3 1 6 .7zM403.4 718.4l6.7 .1 6.5 -.4 7.1 -1 6.5 -1.5 7.7 -2.3 8.8 -3.5 6.9 -3.2 1.9 -1.2 1.2 -1.2 .3 -.6 0 -.6 -.7 -1.2 -2.3 -1.7 -4.3 -2.4 -6.2 -3 -6.2 -2.5 -5.4 -1.9 -6.5 -1.9 -7.6 -1.7 -7.7 -.8 -6.5 0 -7.1 .8 -5.9 1.3 -3 1 -2.9 1.3 -2.4 1.2 -2.3 1.6 -1.9 1.6 -1.5 1.8 -1.1 1.8 -.6 1.8 -.3 1.7 .1 1.8 .5 1.8 1 1.7 1.3 1.8 1.9 1.8 4.1 2.7 3 1.4 2.9 1 6.5 1.7 3.6 .5 3.9 .4z" fill="#4459a6"/><path d="M545.5 720.1l7.6 .5 6.5 -.4 6.5 -1.1 3.5 -1 3 -1.1 2.3 -1.1 2.4 -1.4 2 -1.4 1.8 -1.8 1.3 -1.8 .9 -1.8 .4 -1.7 .1 -1.8 -.3 -1.8 -.8 -1.8 -1.1 -1.7 -1.7 -1.8 -2 -1.7 -2.4 -1.4 -2.4 -1.2 -2.9 -1.2 -3 -.9 -3.5 -.8 -6.5 -.8 -7.1 -.1 -7.7 .6 -6.5 1.1 -5.3 1.3 -6.5 1.9 -6.5 2.4 -7.6 3.2 -4.6 2.3 -1.7 1.2 -.6 .6 -.2 .6 0 .6 .3 .6 1.3 1.2 3.1 1.7 7.1 3.3 7.6 3 6.5 2.2 5.4 1.4 5.3 1.1 6 .8zM401.4 717.8l6.9 .3 5.9 -.2 7.1 -.9 6.5 -1.3 7.7 -2.2 7.7 -2.9 7.3 -3.5 1.9 -1.1 1.4 -1.2 .7 -1.2 0 -.6 -.5 -1.2 -2 -1.7 -2.9 -1.8 -5.8 -3 -6 -2.6 -5.4 -1.9 -5.9 -1.8 -7.6 -1.7 -7.1 -.9 -5.9 -.2 -7.1 .6 -6.5 1.4 -3 .9 -2.9 1.2 -2.4 1.2 -2.3 1.5 -1.8 1.5 -1.4 1.4 -1.3 1.8 -.8 1.8 -.4 1.7 0 1.8 .4 1.8 .8 1.8 1.3 1.7 1.1 1.2 2 1.7 2 1.3 2.8 1.4 2.3 1 3 1 3.5 .9 6.7 1z" fill="#4860ab"/><path d="M544.3 719.6l7.6 .5 6.5 -.2 6.5 -1 5.9 -1.7 4.9 -2.4 2.2 -1.5 1.7 -1.4 1.5 -1.8 1 -1.8 .6 -1.7 .2 -1.8 -.2 -1.8 -.6 -1.8 -1 -1.7 -1 -1.2 -1.6 -1.6 -1.9 -1.4 -2.3 -1.3 -2.9 -1.4 -5.9 -1.8 -6.5 -1.1 -7.1 -.3 -7.7 .5 -5.9 .9 -5.9 1.2 -5.9 1.7 -5.3 1.8 -6.9 2.8 -4.9 2.3 -2.8 1.8 -1.2 1.2 -.2 .6 0 .6 .8 1.2 2.4 1.7 5.1 2.7 6.5 2.8 7.1 2.5 5.9 1.7 5.9 1.3 5.4 .9zM400.2 717.2l5.7 .4 7.7 -.1 6.5 -.8 7.1 -1.4 7.1 -2 7.7 -2.9 6.5 -3.3 1.7 -1.1 1.3 -1.2 .6 -1.2 .1 -.6 -.5 -1.2 -1.7 -1.7 -2.7 -1.8 -4.3 -2.4 -5.7 -2.6 -5.9 -2.2 -5.6 -1.7 -6.9 -1.5 -7 -1 -6 -.2 -6.4 .4 -6.5 1.3 -5.4 1.8 -4.7 2.4 -2.1 1.5 -1.4 1.4 -1.4 1.6 -.9 1.8 -.6 1.7 -.1 1.8 .2 1.8 .7 1.8 1.2 1.7 1 1.2 1.6 1.5 2.1 1.5 2.7 1.4 2.3 1 5.9 1.8 6.1 1.1z" fill="#5270b5"/><path d="M549.9 719.6l6.7 -.1 6.5 -.8 5.3 -1.3 3 -1.1 2.3 -1.1 2.4 -1.4 1.8 -1.3 1.2 -1.2 1.4 -1.8 .9 -1.8 .5 -1.7 .1 -1.8 -.3 -1.8 -.8 -1.8 -1.3 -1.7 -1.1 -1.3 -1.8 -1.4 -4.1 -2.4 -5.4 -2 -5.9 -1.3 -5.9 -.5 -7.1 0 -7.1 .8 -5.3 .9 -5.9 1.5 -5.9 1.8 -5.4 2.1 -5.2 2.4 -4.1 2.3 -1.3 1.2 -.4 .6 -.2 1.2 .2 .6 1 1.2 3.6 2.3 6.1 3 6.9 2.6 5.9 1.9 6.5 1.6 6.5 1.1 5.7 .5zM399.4 716.6l5.4 .5 7.6 -.1 6.5 -.6 6.5 -1.2 7.1 -1.9 7 -2.6 6 -3 1.9 -1.1 1.4 -1.2 .9 -1.2 .2 -.6 -.1 -1.2 -1.1 -1.8 -2.2 -1.7 -4 -2.4 -5.2 -2.5 -5.4 -2.1 -5.9 -1.9 -6.5 -1.5 -7.1 -1.1 -5.3 -.3 -6.5 .4 -5.9 1 -5.9 1.8 -4.7 2.3 -1.8 1.2 -1.7 1.5 -1.2 1.4 -1.1 1.6 -.7 1.8 -.3 1.7 .2 1.8 .5 1.8 1 1.7 1 1.2 1.7 1.7 1.8 1.3 4.1 2.2 5.4 1.8 6.4 1.3z" fill="#5a7fc2"/><path d="M548.3 719.0l6.5 .1 5.9 -.5 5.9 -1.2 5.4 -2 4 -2.3 1.4 -1.2 1.7 -1.8 .8 -1.2 .8 -1.8 .3 -1.7 0 -1.8 -.5 -1.8 -.6 -1.2 -1.3 -1.7 -1.3 -1.3 -3.6 -2.5 -2.3 -1.2 -3 -1.2 -5.3 -1.4 -5.9 -.7 -6.5 -.2 -7.1 .5 -5.9 1 -5.3 1.2 -5.9 1.7 -5.3 2 -4.7 2.1 -4.2 2.3 -2.1 1.8 -.5 1.2 0 .6 .2 .6 .9 1.2 1.4 1.1 1.9 1.2 5.3 2.7 5.9 2.3 5.9 2 5.9 1.5 5.3 .9 5.9 .7zM405.8 716.6l6.1 0 5.9 -.5 5.9 -1 6.5 -1.7 6.1 -2.1 5.2 -2.4 3.9 -2.3 1.3 -1.2 .8 -1.2 .2 -.6 0 -1.2 -1 -1.8 -2.1 -1.7 -3.8 -2.4 -5.3 -2.5 -5.3 -2.1 -5.3 -1.7 -6 -1.3 -6.5 -1 -5.9 -.3 -6.5 .5 -5.9 1.1 -5.3 1.7 -4.1 2.1 -1.8 1.3 -1.8 1.6 -1 1.2 -1.1 1.8 -.4 1.2 -.3 1.7 .2 1.8 .5 1.8 1.1 1.7 1 1.2 3 2.5 4.1 2.3 5.3 1.8 6 1.2 6.3 .5z" fill="#649fd6"/><path d="M547.5 718.4l6.7 .2 5.9 -.4 6 -1.3 4.7 -1.7 4.1 -2.3 1.8 -1.4 1.3 -1.4 .8 -1.2 .9 -1.8 .2 -1.1 .1 -1.8 -.2 -1.2 -.6 -1.8 -1.2 -1.7 -1.1 -1.2 -3.2 -2.4 -2.3 -1.3 -2.4 -1 -5.3 -1.6 -5.9 -.9 -5.9 -.2 -6.5 .4 -5.9 .8 -5.3 1.1 -6 1.7 -5.3 1.9 -4.6 2.1 -4 2.3 -1.9 1.8 -.5 1.2 0 .6 .1 .6 .8 1.2 2.2 1.7 4.3 2.4 6 2.6 5.3 1.8 5.9 1.6 5.3 1 5.7 .7zM404.2 716.0l5.9 .1 5.9 -.4 5.9 -.9 5.9 -1.3 5.9 -2 5.3 -2.3 3.6 -2.1 1.4 -1.1 1.1 -1.2 .5 -1.2 .1 -.6 -.1 -.6 -.5 -1.2 -1.6 -1.7 -3.4 -2.4 -4.6 -2.4 -4.7 -1.9 -5.4 -1.8 -5.9 -1.4 -6.5 -1.1 -5.9 -.3 -5.9 .3 -5.3 .8 -5.3 1.6 -4.4 2.1 -3.3 2.3 -1.2 1.2 -1.3 1.8 -.7 1.8 -.3 1.1 0 1.8 .3 1.2 .7 1.8 .8 1.1 1.1 1.3 1.8 1.5 2.1 1.4 2 1.1 4.8 1.7 5.3 1.3 5.9 .6z" fill="#6ec1ee"/><path d="M547.1 717.8l6.5 .3 5.4 -.4 5.3 -.9 4.7 -1.5 4.1 -2.1 1.9 -1.3 1.3 -1.2 1 -1.2 1 -1.8 .4 -1.1 .3 -1.8 -.3 -1.8 -.4 -1.2 -1 -1.7 -1 -1.2 -1.3 -1.2 -1.9 -1.3 -4.1 -2.1 -5.3 -1.7 -5.3 -.8 -5.9 -.3 -6.4 .3 -6 .8 -5.4 1.1 -5.3 1.5 -5.2 1.9 -5.1 2.4 -2.8 1.7 -1.8 1.8 -.4 1.2 -.1 .6 .2 .6 .7 1.2 2.1 1.7 4.1 2.4 4.8 2.1 5.3 1.8 5.3 1.5 5.3 1 5.3 .7zM403.7 715.4l6.4 .1 5.3 -.3 5.3 -.7 5.3 -1.2 5.9 -1.9 4.8 -2 3.9 -2.3 1.4 -1.1 1 -1.2 .6 -1.8 -.5 -1.8 -1.5 -1.7 -3.3 -2.4 -4.6 -2.4 -4.7 -1.9 -4.7 -1.5 -5.4 -1.3 -5.9 -.9 -5.9 -.4 -5.3 .3 -5.3 .8 -5.3 1.6 -4.2 1.9 -2.1 1.4 -1.4 1.2 -1.9 2.4 -.6 1.2 -.5 1.7 0 1.2 .3 1.8 .8 1.8 .8 1.1 2.5 2.4 3.3 2.1 4.8 1.9 5.3 1.3 5.4 .6z" fill="#7cc4d5"/><path d="M547.2 717.2l5.9 .3 5.3 -.3 5.3 -.9 4.7 -1.5 4.2 -2.2 1.7 -1.3 1.2 -1.1 1.6 -2.5 .5 -1.1 .2 -1.8 -.2 -1.8 -.5 -1.2 -1.6 -2.4 -1.2 -1.1 -1.7 -1.4 -4.3 -2.2 -4.6 -1.4 -5.3 -.9 -5.3 -.3 -6.5 .2 -5.4 .7 -5.3 1.1 -5.3 1.4 -4.7 1.7 -4.7 2.3 -2.8 1.7 -1.7 1.8 -.4 1.2 -.1 .6 .2 .6 .7 1.2 1.9 1.7 3.3 2 4.8 2.1 4.7 1.7 5.3 1.5 4.7 .9 5.4 .7zM403.9 714.8l5.6 .1 5.3 -.2 5.3 -.8 5.3 -1.2 5.4 -1.7 4.8 -2.1 3.7 -2.3 1.6 -1.8 .6 -1.8 -.5 -1.8 -1.4 -1.7 -3.2 -2.4 -3.9 -2 -4.1 -1.8 -5.3 -1.7 -4.7 -1.1 -5.4 -.8 -5.9 -.4 -5.3 .3 -4.7 .8 -4.7 1.3 -4.2 1.9 -3.4 2.3 -2 2.4 -1 2.3 -.1 1.2 .1 1.8 .7 1.8 .7 1.2 2.3 2.3 1.7 1.2 2.1 1.2 4.2 1.7 4.8 1.1 5.6 .7z" fill="#8cc6b5"/><path d="M547.8 716.6l5.8 .2 4.8 -.3 4.7 -.8 4.7 -1.5 3.6 -1.8 2.8 -2.3 1.7 -2.4 .4 -1.1 .3 -1.8 -.3 -1.8 -.4 -1.2 -1.7 -2.3 -2.8 -2.3 -3.7 -1.9 -4.6 -1.5 -4.7 -.8 -4.8 -.3 -6.4 .2 -5.4 .7 -5.3 1 -4.7 1.3 -4.8 1.8 -3.7 1.8 -2.7 1.7 -1.7 1.8 -.4 1.2 0 .6 .1 .6 .7 1.2 1.9 1.7 2.9 1.8 4.1 1.9 4.8 1.7 4.7 1.3 4.7 .9 5.4 .7zM404.8 714.2l5.3 .1 5.3 -.4 5.3 -.8 5.1 -1.2 5 -1.8 3.7 -1.8 1.9 -1.2 1.4 -1.1 1.3 -1.8 .2 -1.8 -.7 -1.8 -1.7 -1.7 -2.5 -1.8 -3.6 -1.9 -4.8 -1.9 -4.7 -1.4 -4.7 -1 -5.3 -.7 -4.8 -.2 -5.3 .3 -4.7 .9 -4.1 1.3 -3.6 1.7 -3.1 2.3 -1.9 2.4 -.8 2.3 0 1.8 .3 1.2 1.3 2.4 2.5 2.3 3.5 2.1 4.1 1.6 4.8 1.1 5.3 .5z" fill="#8ec39a"/><path d="M549.2 716.0l5 .1 4.8 -.3 4.7 -1 4.1 -1.5 3.5 -2 1.4 -1.2 1 -1.2 1.3 -2.3 .2 -2.4 -.7 -2.4 -1.8 -2.3 -2.5 -2 -3.6 -1.7 -4.1 -1.3 -4.7 -.8 -4.2 -.3 -5.9 .2 -5.3 .6 -4.7 .9 -4.7 1.3 -4.2 1.5 -3.2 1.6 -2.7 1.7 -1.6 1.8 -.5 1.2 0 .6 .1 .6 .7 1.2 1.8 1.7 2.9 1.8 3.9 1.8 4.5 1.5 4.8 1.2 4.7 .9 5 .5zM400.2 713.1l4.6 .4 5.3 .1 5.3 -.4 4.7 -.7 4.8 -1.2 4.7 -1.7 3.6 -1.9 2.4 -1.7 1.3 -1.8 .3 -1.8 -.7 -1.8 -1.7 -1.7 -2.5 -1.8 -3.4 -1.8 -4 -1.5 -4.8 -1.4 -4.7 -1 -5.3 -.6 -4.2 -.1 -4.7 .3 -4.7 1 -4.1 1.4 -3.6 1.9 -2.2 1.8 -1.7 2.4 -.4 1.1 -.2 1.2 .1 1.2 .3 1.2 1.4 2.4 1.1 1.1 1.6 1.2 3 1.7 4.1 1.5 4.3 1z" fill="#97c47b"/><path d="M545.1 714.8l5 .5 4.7 .1 4.2 -.4 4.1 -.9 4.1 -1.6 3 -1.7 2 -1.9 .8 -1.2 .5 -1.1 .2 -1.2 0 -1.2 -.2 -1.2 -.5 -1.2 -.8 -1.2 -1.2 -1.1 -2.5 -1.8 -3 -1.4 -4.2 -1.3 -4.1 -.6 -4.7 -.2 -4.8 .2 -4.7 .5 -4.7 .9 -4.5 1.3 -3.8 1.5 -2.9 1.5 -2.4 1.7 -1.2 1.8 -.2 1.2 .1 .6 .6 1.2 1.9 1.7 2.9 1.8 3.6 1.6 4.1 1.3 4.2 1.1 4.4 .7zM401.6 712.5l4.3 .3 5.4 0 4.7 -.5 4.1 -.7 4.2 -1.1 4.2 -1.6 3.2 -1.8 2.1 -1.7 .7 -1.2 .4 -1.8 -.7 -1.8 -1.7 -1.7 -2.5 -1.8 -3.6 -1.8 -3.9 -1.4 -4.7 -1.2 -4.8 -.8 -5.3 -.5 -3.5 .1 -4.2 .5 -4.1 1 -3.5 1.4 -3 1.8 -2.1 2.1 -.8 1.2 -.5 1.1 -.1 1.2 0 1.2 .3 1.2 .6 1.2 1.5 1.7 2.4 1.8 3.4 1.7 3.6 1.1 3.9 .8z" fill="#a2c76a"/><path d="M547.5 714.2l5 .3 3.5 -.1 4.1 -.5 3.6 -1 2.9 -1.2 2.5 -1.6 1.7 -1.8 .8 -1.2 .4 -1.1 .1 -1.2 -.1 -1.2 -.8 -1.8 -1.6 -1.9 -3 -2 -3.3 -1.4 -3.7 -.9 -4.2 -.5 -4.1 -.1 -4.6 .3 -4.3 .6 -4.1 .9 -4.1 1.3 -3.2 1.4 -2.9 1.7 -1.6 1.7 -.5 1.3 0 1.2 1.1 1.7 2.3 1.8 2.2 1.2 3.1 1.3 4.2 1.3 4.1 .9 4.5 .6zM404.4 711.9l5.1 .1 4.1 -.3 4.2 -.6 4.1 -.9 3.6 -1.3 2.9 -1.4 2.2 -1.5 1.4 -1.8 .4 -1.2 -.3 -1.8 -1.4 -1.7 -2.3 -1.8 -3 -1.6 -3.5 -1.4 -3.5 -1 -3.8 -.7 -4.5 -.6 -4.2 -.1 -4.1 .3 -3.5 .7 -3.6 1.2 -2.8 1.4 -2.3 1.8 -1.3 1.8 -.7 1.7 0 1.2 .2 1.2 .5 1.2 .8 1.2 1.9 1.7 3.1 1.8 3 1.1 3.5 .8 3.8 .5z" fill="#acc95c"/><path d="M546.0 713.1l4.1 .4 4.1 0 3.6 -.3 3.5 -.7 3 -1.1 2.5 -1.3 2 -1.8 1.1 -1.7 .3 -1.8 -.3 -1.8 -1.1 -1.8 -2.2 -1.8 -2.9 -1.5 -3 -1 -3.5 -.7 -3.6 -.2 -4.1 .1 -4.1 .4 -3.6 .6 -4.1 1.1 -3.4 1.3 -2.3 1.1 -1.6 1.2 -1.3 1.8 -.2 1.2 .1 .6 .6 1.2 1.2 1.1 1.7 1.2 2.4 1.2 3.4 1.3 4.1 1 3.6 .7zM402.7 710.7l3.2 .3 4.8 -.1 4.1 -.4 3.6 -.6 3.5 -1 2.9 -1.2 2.1 -1.1 2 -1.8 .6 -1.2 0 -1.8 -1 -1.7 -1.2 -1.2 -1.9 -1.2 -2.9 -1.5 -3 -1 -3.5 -.9 -4.1 -.7 -4.2 -.3 -3.5 .1 -3 .4 -3.5 .9 -3 1.1 -2.1 1.3 -1.9 1.8 -.9 1.7 -.3 1.8 .5 1.8 1.3 1.8 2.2 1.7 2.4 1.2 3.6 1.2 3.2 .6z" fill="#bfd44c"/><path d="M546.4 711.9l3.7 .4 3.5 .1 3 -.2 3 -.6 2.9 -.9 2.2 -1.2 1.5 -1.2 1.3 -1.7 .4 -1.8 -.4 -1.8 -.9 -1.3 -1.7 -1.6 -2.4 -1.2 -2.4 -.8 -2.9 -.6 -3 -.3 -3.5 0 -3.5 .3 -3.6 .6 -3.3 .8 -3.2 1.2 -2.3 1.1 -1.4 1.2 -.9 1.2 -.2 1.2 .4 1.2 .9 1.1 1.6 1.2 2.4 1.2 2.5 .9 3.1 .9 3.2 .6zM403.0 709.5l2.9 .3 4.2 0 3 -.3 3.5 -.6 2.9 -.8 2.6 -1 2.1 -1.1 1.3 -1.2 .8 -1.2 .2 -1.2 -.4 -1.2 -.3 -.6 -1.1 -1.1 -1.7 -1.2 -2.3 -1.2 -2.9 -1 -3 -.8 -3.6 -.6 -4.1 -.2 -2.9 .1 -2.4 .3 -2.9 .8 -2.4 .9 -1.8 1.1 -1.7 1.6 -.8 1.3 -.3 1.8 .5 1.6 .9 1.4 1.4 1.2 2.4 1.3 2.9 1 3 .6z" fill="#d0dd44"/><path d="M550.0 710.7l5.4 0 2.4 -.4 2.3 -.6 1.7 -.8 1.6 -1.2 1 -1.1 .5 -1.2 0 -1.2 -.5 -1.2 -1 -1.2 -1.6 -1.2 -1.7 -.7 -2.3 -.7 -2.4 -.4 -2.9 -.1 -5.9 .5 -4.8 1.2 -2 .8 -1.5 1 -.9 .8 -.7 1.2 .1 1.2 .8 1.2 1.3 1 1.3 .7 2.2 .9 2.4 .7 5.2 .8zM402.4 707.7l2.4 .4 2.9 .1 3 -.1 2.9 -.3 4.5 -1.2 1.4 -.7 1.7 -1.1 .7 -.9 .4 -.9 0 -1.2 -.6 -1.2 -2.2 -1.7 -2.3 -1.1 -2.4 -.7 -5.3 -.9 -2.4 -.2 -2.3 .1 -2.4 .4 -2.2 .6 -1.4 .6 -1.9 1.2 -1.2 1.2 -.6 1.1 0 1.8 .6 1.2 1.2 1.2 1.4 .9 1.9 .8 2.2 .6z" fill="#e4e43a"/><path d="M549.0 707.7l3.5 .4 2.3 -.1 2.4 -.6 1.8 -1.1 .6 -.9 .1 -.6 -.4 -1.2 -1.5 -1.2 -1.5 -.6 -1.5 -.3 -2.9 0 -3.2 .3 -2.1 .6 -2 1.2 -.4 .6 -.1 .6 .1 .6 .5 .6 2.2 1.1 2.1 .6zM405.2 705.4l2.5 .1 3 -.2 2.3 -.6 1.9 -1.1 .5 -.6 .2 -.6 -.1 -.6 -.4 -.6 -1.6 -1.1 -2.8 -1 -3 -.3 -2.5 .1 -2.3 .6 -1.8 1.1 -.7 1.2 .2 1.2 .5 .6 1.8 1.2 2.3 .6z" fill="#f4da30"/></g>
<rect x="361.70" y="585.40" width="236.20" height="236.40" fill="none" stroke="#000" stroke-width="2.3"/>
<line x1="405.95" y1="821.80" x2="405.95" y2="810.30" stroke="#000" stroke-width="2.9"/>
<line x1="361.70" y1="777.45" x2="373.20" y2="777.45" stroke="#000" stroke-width="2.9"/>
<line x1="479.80" y1="821.80" x2="479.80" y2="810.30" stroke="#000" stroke-width="2.9"/>
<line x1="361.70" y1="703.60" x2="373.20" y2="703.60" stroke="#000" stroke-width="2.9"/>
<line x1="553.65" y1="821.80" x2="553.65" y2="810.30" stroke="#000" stroke-width="2.9"/>
<line x1="361.70" y1="629.75" x2="373.20" y2="629.75" stroke="#000" stroke-width="2.9"/>
<line x1="369.02" y1="821.80" x2="369.02" y2="815.80" stroke="#000" stroke-width="2.0"/>
<line x1="361.70" y1="814.37" x2="367.70" y2="814.37" stroke="#000" stroke-width="2.0"/>
<line x1="442.87" y1="821.80" x2="442.87" y2="815.80" stroke="#000" stroke-width="2.0"/>
<line x1="361.70" y1="740.52" x2="367.70" y2="740.52" stroke="#000" stroke-width="2.0"/>
<line x1="516.72" y1="821.80" x2="516.72" y2="815.80" stroke="#000" stroke-width="2.0"/>
<line x1="361.70" y1="666.67" x2="367.70" y2="666.67" stroke="#000" stroke-width="2.0"/>
<line x1="590.57" y1="821.80" x2="590.57" y2="815.80" stroke="#000" stroke-width="2.0"/>
<line x1="361.70" y1="592.82" x2="367.70" y2="592.82" stroke="#000" stroke-width="2.0"/>
<text transform="translate(386.65,619.05) scale(1.0270,1)" font-family="Liberation Serif, DejaVu Serif, serif" font-weight="bold" font-size="41.00" fill="#000">(g)</text>
<text transform="translate(448.41,618.60) scale(1.0598,1)" font-family="Liberation Serif, DejaVu Serif, serif" font-style="italic" font-size="40.51" fill="#000">t</text>
<text transform="translate(471.60,621.55) scale(1.4506,1)" font-family="Liberation Serif, DejaVu Serif, serif" font-size="36.00" fill="#000">=</text>
<text transform="translate(509.34,619.62) scale(0.9467,1)" font-family="Liberation Serif, DejaVu Serif, serif" font-size="39.12" fill="#000">10Γ</text>
<text transform="translate(387.94,853.20) scale(1.1494,1)" font-family="Liberation Serif, DejaVu Serif, serif" font-size="29.80" fill="#000">−5</text>
<text transform="translate(472.35,853.20) scale(1.0000,1)" font-family="Liberation Serif, DejaVu Serif, serif" font-size="29.80" fill="#000">0</text>
<text transform="translate(545.92,853.20) scale(1.0000,1)" font-family="Liberation Serif, DejaVu Serif, serif" font-size="29.80" fill="#000">5</text>
<text transform="translate(431.35,899.10) scale(0.9859,1)" font-family="Liberation Serif, DejaVu Serif, serif" font-size="40.48" fill="#000">Re</text>
<text transform="translate(477.11,899.23) scale(0.8040,1)" font-family="Liberation Serif, DejaVu Serif, serif" font-size="42.13" fill="#000">(</text>
<text transform="translate(489.37,898.73) scale(1.1421,1)" font-family="Liberation Serif, DejaVu Serif, serif" font-style="italic" font-size="36.10" fill="#000">α</text>
<text transform="translate(514.20,899.23) scale(0.8133,1)" font-family="Liberation Serif, DejaVu Serif, serif" font-size="42.13" fill="#000">)</text>
<defs><clipPath id="ch"><rect x="605.20" y="585.40" width="236.40" height="236.40"/></clipPath></defs>
<g clip-path="url(#ch)"><path d="M793.8 722.5l4 .1 4.8 -.3 4.7 -.6 3.5 -.6 4.2 -1.2 2.9 -1 3 -1.4 2.9 -1.7 2.4 -1.7 2.3 -2.2 1.6 -2.4 .7 -1.8 .5 -2.3 -.2 -2.4 -.5 -1.8 -1.2 -2.3 -1.5 -1.8 -1.9 -1.8 -2.2 -1.6 -2.9 -1.7 -3 -1.3 -2.9 -1.1 -4.2 -1.1 -3.5 -.7 -4.1 -.5 -4.2 -.3 -8.2 .2 -8.3 .9 -9.5 2 -10.6 3.3 -23.6 8.7 -5.4 1.8 -1.3 .3 1 .6 7.4 2.5 18.3 7.2 10.7 3.6 6.5 1.8 5.9 1.2 6.5 1 5.4 .4zM642.2 719.6l6.2 .4 8.2 0 7.1 -.7 7.1 -1.2 6.5 -1.6 6.5 -2 24.2 -8.8 5.9 -1.9 1.2 -.2 -1.2 -.3 -6.5 -2.4 -17.1 -7.1 -8.3 -3.2 -8.2 -2.7 -8.9 -2.2 -8.3 -1.2 -7 -.3 -4.2 .2 -4.1 .4 -7.1 1.4 -3.6 1.1 -3.5 1.4 -3 1.4 -2.6 1.7 -2.1 1.8 -1.7 1.7 -1.6 2.4 -.7 1.8 -.4 2.3 .3 2.4 .8 2.4 1.1 1.7 1.6 1.9 2.4 2 2.9 1.9 3 1.5 3.5 1.4 3.6 1 3.5 .8 4.5 .8z" fill="#2f3785"/><path d="M790.4 721.9l8 .3 4.2 -.2 4.1 -.6 4.1 -.8 3.6 -.9 2.9 -1.1 3.6 -1.6 2.7 -1.6 2.3 -1.8 1.8 -1.7 1.6 -2.4 .8 -1.8 .5 -2.3 -.1 -1.8 -.6 -2.4 -.9 -1.7 -1.6 -2.1 -1.8 -1.7 -2.4 -1.8 -2.9 -1.6 -3 -1.4 -3.5 -1.2 -3 -.8 -7.1 -1.2 -4.1 -.3 -4.7 0 -8.3 .5 -8.9 1.5 -7.6 1.9 -7.7 2.5 -8.3 3 -18.9 7.4 .4 .6 1.4 .6 20.1 7.9 10 3.6 5.9 1.8 6.5 1.6 5.3 1 5.6 .6zM646.3 719.6l7.4 .1 6.5 -.3 6.5 -.9 7.1 -1.5 7.1 -2 8.2 -2.8 19.1 -7.4 1.3 -.6 .9 -.6 -.4 -.6 -1.1 -.6 -16.8 -7.3 -8.9 -3.6 -7.8 -2.7 -8.1 -2.2 -8.9 -1.5 -7.7 -.6 -7.1 .4 -4.1 .6 -3.5 .7 -4.2 1.1 -2.9 1.1 -3 1.3 -2.9 1.7 -2.1 1.6 -1.9 1.7 -1.8 2.4 -.8 1.8 -.6 2.3 0 1.8 .4 1.8 1 2.3 1.3 1.8 1.7 1.8 2.2 1.7 2.3 1.5 3 1.4 3.5 1.4 3 .9 4.1 1 4.2 .6 3.8 .4z" fill="#3a4699"/><path d="M788.4 721.3l8.3 .5 4.1 -.1 3.5 -.3 3.6 -.6 4.1 -.9 3.6 -1.1 2.9 -1.2 3 -1.5 2.3 -1.5 2.4 -2.1 1.6 -1.8 1 -1.8 .7 -1.8 .3 -2.3 -.1 -1.8 -.9 -2.4 -1 -1.7 -1.5 -1.8 -2 -1.8 -2.2 -1.5 -3 -1.6 -2.9 -1.2 -3.6 -1.2 -6.5 -1.4 -4.1 -.5 -3.6 -.1 -8.2 .2 -8.3 1 -8.9 1.9 -11.2 3.6 -7.7 2.8 -11.1 4.5 -3.9 1.8 -.7 .6 .2 .6 .8 .6 2.6 1.2 13.3 5.5 9.5 3.6 5.9 1.9 6.5 1.8 5.3 1.1 5.9 .8zM643.9 719.0l5.7 .3 8.2 -.1 7.7 -.9 6.5 -1.3 8.3 -2.3 8.8 -3.1 12.4 -5 2.6 -1.2 2 -1.2 .5 -.6 -.1 -.6 -.6 -.6 -4.3 -2.3 -13.6 -6.2 -6.5 -2.6 -6 -2 -7.6 -2.1 -8.3 -1.6 -8.3 -.7 -6.5 .3 -3.5 .4 -4.2 .8 -3.5 .9 -3.5 1.1 -3 1.3 -2.4 1.3 -2.3 1.5 -1.9 1.6 -1.6 1.8 -1.2 1.8 -.9 2.4 -.2 1.7 .2 2.4 .6 1.8 1 1.7 1.5 1.8 1.9 1.8 2.3 1.6 3 1.6 2.4 1.1 3.5 1.2 3 .8 4.1 .9 3.8 .5z" fill="#3d509f"/><path d="M793.4 721.3l3.9 .1 4.1 -.1 7.1 -1 6.5 -1.8 2.9 -1.1 3 -1.5 2.4 -1.7 2.1 -1.7 1.6 -1.8 1 -1.8 .7 -1.8 .3 -1.7 -.1 -2.4 -.6 -1.8 -.9 -1.7 -1.4 -1.8 -1.9 -1.8 -2 -1.5 -2.4 -1.3 -3 -1.4 -3.5 -1.2 -3 -.8 -7 -1.2 -7.7 -.4 -8.3 .5 -8.3 1.4 -4.7 1.1 -5.9 1.6 -11.8 4.3 -7.6 3.1 -5.2 2.3 -1.9 1.2 -.5 .6 .1 .6 .6 .6 2 1.2 7.8 3.5 9.4 3.8 8.3 2.9 6.5 1.9 5.9 1.3 5.9 .9 5.6 .4zM642.4 718.4l6 .5 8.2 -.1 7.1 -.7 7.1 -1.3 8.3 -2.2 8.3 -2.9 9.4 -4 3.7 -1.7 1.9 -1.2 1 -1.2 0 -.6 -1 -1.2 -2.8 -1.7 -5.9 -3 -6.9 -3.1 -6.5 -2.6 -5.3 -1.8 -8.3 -2.3 -7.1 -1.2 -7.7 -.7 -6.5 .2 -4.1 .4 -3.6 .7 -6.5 1.8 -5.3 2.4 -2.3 1.5 -1.8 1.4 -2.1 2.1 -1.2 1.8 -.7 1.8 -.4 1.7 0 1.8 .4 1.8 .7 1.8 1.5 2.1 2 2 2.1 1.6 2.4 1.4 3 1.4 5.9 1.9 7 1.4z" fill="#4157a5"/><path d="M790.8 720.7l7.6 .3 7.1 -.6 3.6 -.7 3.5 -.9 3.6 -1.2 2.3 -1.1 2.4 -1.3 2.2 -1.6 2 -1.7 1.4 -1.8 1 -1.8 .6 -1.7 .1 -2.4 -.3 -1.8 -.7 -1.8 -1.1 -1.7 -1.6 -1.8 -2.1 -1.8 -2.1 -1.3 -3 -1.5 -5.9 -2.1 -6.5 -1.3 -6.5 -.5 -7.6 .1 -8.3 1 -5.9 1.2 -5.9 1.6 -5.9 1.9 -6.5 2.4 -6.4 2.7 -5 2.3 -2.6 1.8 -.3 .6 0 .6 .4 .6 1.6 1.2 4.7 2.3 8.7 3.8 7.7 2.9 6.5 2 5.9 1.4 5.3 1 6 .7zM647.0 718.4l6.7 .1 6.5 -.4 7.1 -1 6.5 -1.5 7.7 -2.3 8.8 -3.5 6.9 -3.2 1.9 -1.2 1.2 -1.2 .3 -.6 0 -.6 -.7 -1.2 -2.3 -1.7 -4.3 -2.4 -6.2 -3 -6.2 -2.5 -5.4 -1.9 -6.5 -1.9 -7.6 -1.7 -7.7 -.8 -6.5 0 -7.1 .8 -5.9 1.3 -3 1 -2.9 1.3 -2.4 1.2 -2.3 1.6 -1.9 1.6 -1.5 1.8 -1.1 1.8 -.6 1.8 -.3 1.7 .1 1.8 .5 1.8 1 1.7 1.3 1.8 1.9 1.8 4.1 2.7 3 1.4 2.9 1 6.5 1.7 3.6 .5 3.9 .4z" fill="#4459a6"/><path d="M789.1 720.1l7.6 .5 6.5 -.4 6.5 -1.1 3.5 -1 3 -1.1 2.3 -1.1 2.4 -1.4 2 -1.4 1.8 -1.8 1.3 -1.8 .9 -1.8 .4 -1.7 .1 -1.8 -.3 -1.8 -.8 -1.8 -1.1 -1.7 -1.7 -1.8 -2 -1.7 -2.4 -1.4 -2.4 -1.2 -2.9 -1.2 -3 -.9 -3.5 -.8 -6.5 -.8 -7.1 -.1 -7.7 .6 -6.5 1.1 -5.3 1.3 -6.5 1.9 -6.5 2.4 -7.6 3.2 -4.6 2.3 -1.7 1.2 -.6 .6 -.2 .6 0 .6 .3 .6 1.3 1.2 3.1 1.7 7.1 3.3 7.6 3 6.5 2.2 5.4 1.4 5.3 1.1 6 .8zM645.0 717.8l6.9 .3 5.9 -.2 7.1 -.9 6.5 -1.3 7.7 -2.2 7.7 -2.9 7.3 -3.5 1.9 -1.1 1.4 -1.2 .7 -1.2 0 -.6 -.5 -1.2 -2 -1.7 -2.9 -1.8 -5.8 -3 -6 -2.6 -5.4 -1.9 -5.9 -1.8 -7.6 -1.7 -7.1 -.9 -5.9 -.2 -7.1 .6 -6.5 1.4 -3 .9 -2.9 1.2 -2.4 1.2 -2.3 1.5 -1.8 1.5 -1.4 1.4 -1.3 1.8 -.8 1.8 -.4 1.7 0 1.8 .4 1.8 .8 1.8 1.3 1.7 1.1 1.2 2 1.7 2 1.3 2.8 1.4 2.3 1 3 1 3.5 .9 6.7 1z" fill="#4860ab"/><path d="M787.9 719.6l7.6 .5 6.5 -.2 6.5 -1 5.9 -1.7 4.9 -2.4 2.2 -1.5 1.7 -1.4 1.5 -1.8 1 -1.8 .6 -1.7 .2 -1.8 -.2 -1.8 -.6 -1.8 -1 -1.7 -1 -1.2 -1.6 -1.6 -1.9 -1.4 -2.3 -1.3 -2.9 -1.4 -5.9 -1.8 -6.5 -1.1 -7.1 -.3 -7.7 .5 -5.9 .9 -5.9 1.2 -5.9 1.7 -5.3 1.8 -6.9 2.8 -4.9 2.3 -2.8 1.8 -1.2 1.2 -.2 .6 0 .6 .8 1.2 2.4 1.7 5.1 2.7 6.5 2.8 7.1 2.5 5.9 1.7 5.9 1.3 5.4 .9zM643.8 717.2l5.8 .4 7.6 -.1 6.5 -.8 7.1 -1.4 7.1 -2 7.7 -2.9 6.5 -3.3 1.7 -1.1 1.3 -1.2 .6 -1.2 .1 -.6 -.5 -1.2 -1.7 -1.7 -2.7 -1.8 -4.3 -2.4 -5.7 -2.6 -5.9 -2.2 -5.6 -1.7 -6.9 -1.5 -7 -1 -5.9 -.2 -6.5 .4 -6.5 1.3 -5.4 1.8 -4.7 2.4 -2.1 1.5 -1.4 1.4 -1.4 1.6 -.9 1.8 -.6 1.7 -.1 1.8 .2 1.8 .7 1.8 1.2 1.7 1 1.2 1.6 1.5 2.1 1.5 2.7 1.4 2.3 1 5.9 1.8 6.1 1.1z" fill="#5270b5"/><path d="M793.5 719.6l6.7 -.1 6.5 -.8 5.3 -1.3 3 -1.1 2.3 -1.1 2.4 -1.4 1.8 -1.3 1.2 -1.2 1.4 -1.8 .9 -1.8 .5 -1.7 .1 -1.8 -.3 -1.8 -.8 -1.8 -1.3 -1.7 -1.1 -1.3 -1.8 -1.4 -4.1 -2.4 -5.4 -2 -5.9 -1.3 -5.9 -.5 -7.1 0 -7.1 .8 -5.3 .9 -5.9 1.5 -5.9 1.8 -5.4 2.1 -5.2 2.4 -4.1 2.3 -1.3 1.2 -.4 .6 -.2 1.2 .2 .6 1 1.2 3.6 2.3 6.1 3 6.9 2.6 5.9 1.9 6.5 1.6 6.5 1.1 5.7 .5zM643.0 716.6l5.4 .5 7.6 -.1 6.5 -.6 6.5 -1.2 7.1 -1.9 7 -2.6 6 -3 1.9 -1.1 1.4 -1.2 .9 -1.2 .2 -.6 -.1 -1.2 -1.1 -1.8 -2.2 -1.7 -4 -2.4 -5.2 -2.5 -5.4 -2.1 -5.9 -1.9 -6.5 -1.5 -7.1 -1.1 -5.3 -.3 -6.5 .4 -5.9 1 -5.9 1.8 -4.7 2.3 -1.8 1.2 -1.7 1.5 -1.2 1.4 -1.1 1.6 -.7 1.8 -.3 1.7 .2 1.8 .5 1.8 1 1.7 1 1.2 1.7 1.7 1.8 1.3 4.1 2.2 5.4 1.8 6.4 1.3z" fill="#5a7fc2"/><path d="M791.9 719.0l6.5 .1 5.9 -.5 5.9 -1.2 5.4 -2 4 -2.3 1.4 -1.2 1.7 -1.8 .8 -1.2 .8 -1.8 .3 -1.7 0 -1.8 -.5 -1.8 -.6 -1.2 -1.3 -1.7 -1.3 -1.3 -3.6 -2.5 -2.3 -1.2 -3 -1.2 -5.3 -1.4 -5.9 -.7 -6.5 -.2 -7.1 .5 -5.9 1 -5.3 1.2 -5.9 1.7 -5.3 2 -4.7 2.1 -4.2 2.3 -2.1 1.8 -.5 1.2 0 .6 .2 .6 .9 1.2 1.4 1.1 1.9 1.2 5.3 2.7 5.9 2.3 5.9 2 5.9 1.5 5.3 .9 5.9 .7zM649.4 716.6l6.1 0 5.9 -.5 5.9 -1 6.5 -1.7 6.1 -2.1 5.2 -2.4 3.9 -2.3 1.3 -1.2 .8 -1.2 .2 -.6 0 -1.2 -1 -1.8 -2.1 -1.7 -3.8 -2.4 -5.3 -2.5 -5.3 -2.1 -5.3 -1.7 -6 -1.3 -6.5 -1 -5.9 -.3 -6.5 .5 -5.9 1.1 -5.3 1.7 -4.1 2.1 -1.8 1.3 -1.8 1.6 -1 1.2 -1.1 1.8 -.4 1.2 -.3 1.7 .2 1.8 .5 1.8 1.1 1.7 1 1.2 3 2.5 4.1 2.3 5.3 1.8 6 1.2 6.3 .5z" fill="#649fd6"/><path d="M791.1 718.4l6.7 .2 5.9 -.4 6 -1.3 4.7 -1.7 4.1 -2.3 1.8 -1.4 1.3 -1.4 .8 -1.2 .9 -1.8 .2 -1.1 .1 -1.8 -.2 -1.2 -.6 -1.8 -1.2 -1.7 -1.1 -1.2 -3.2 -2.4 -2.3 -1.3 -2.4 -1 -5.3 -1.6 -5.9 -.9 -5.9 -.2 -6.5 .4 -5.9 .8 -5.3 1.1 -6 1.7 -5.3 1.9 -4.6 2.1 -4 2.3 -1.9 1.8 -.5 1.2 0 .6 .1 .6 .8 1.2 2.2 1.7 4.3 2.4 6 2.6 5.3 1.8 5.9 1.6 5.3 1 5.7 .7zM647.8 716.0l5.9 .1 5.9 -.4 5.9 -.9 5.9 -1.3 5.9 -2 5.3 -2.3 3.6 -2.1 1.4 -1.1 1.1 -1.2 .5 -1.2 .1 -.6 -.1 -.6 -.5 -1.2 -1.6 -1.7 -3.4 -2.4 -4.6 -2.4 -4.7 -1.9 -5.4 -1.8 -5.9 -1.4 -6.5 -1.1 -5.9 -.3 -5.9 .3 -5.3 .8 -5.3 1.6 -4.4 2.1 -3.3 2.3 -1.2 1.2 -1.3 1.8 -.7 1.8 -.3 1.1 0 1.8 .3 1.2 .7 1.8 .8 1.1 1.1 1.3 1.8 1.5 2.1 1.4 2 1.1 4.8 1.7 5.3 1.3 5.9 .6z" fill="#6ec1ee"/><path d="M790.7 717.8l6.6 .3 5.3 -.4 5.3 -.9 4.7 -1.5 4.1 -2.1 1.9 -1.3 1.3 -1.2 1 -1.2 1 -1.8 .4 -1.1 .3 -1.8 -.3 -1.8 -.4 -1.2 -1 -1.7 -1 -1.2 -1.3 -1.2 -1.9 -1.3 -4.1 -2.1 -5.3 -1.7 -5.3 -.8 -5.9 -.3 -6.4 .3 -6 .8 -5.4 1.1 -5.3 1.5 -5.2 1.9 -5.1 2.4 -2.8 1.7 -1.8 1.8 -.4 1.2 -.1 .6 .2 .6 .7 1.2 2.1 1.7 4.1 2.4 4.8 2.1 5.3 1.8 5.3 1.5 5.3 1 5.3 .7zM647.3 715.4l6.4 .1 5.3 -.3 5.3 -.7 5.3 -1.2 5.9 -1.9 4.8 -2 3.9 -2.3 1.4 -1.1 1 -1.2 .6 -1.8 -.5 -1.8 -1.5 -1.7 -3.3 -2.4 -4.6 -2.4 -4.7 -1.9 -4.7 -1.5 -5.4 -1.3 -5.9 -.9 -5.9 -.4 -5.3 .3 -5.3 .8 -5.3 1.6 -4.2 1.9 -2.1 1.4 -1.4 1.2 -1.9 2.4 -.6 1.2 -.5 1.7 0 1.2 .3 1.8 .8 1.8 .8 1.1 2.5 2.4 3.3 2.1 4.8 1.9 5.3 1.3 5.4 .6z" fill="#7cc4d5"/><path d="M790.8 717.2l5.9 .3 5.3 -.3 5.3 -.9 4.7 -1.5 4.2 -2.2 1.7 -1.3 1.2 -1.1 1.6 -2.5 .5 -1.1 .2 -1.8 -.2 -1.8 -.5 -1.2 -1.6 -2.4 -1.2 -1.1 -1.7 -1.4 -4.3 -2.2 -4.6 -1.4 -5.3 -.9 -5.3 -.3 -6.5 .2 -5.4 .7 -5.3 1.1 -5.3 1.4 -4.7 1.7 -4.7 2.3 -2.8 1.7 -1.7 1.8 -.4 1.2 -.1 .6 .2 .6 .7 1.2 1.9 1.7 3.3 2 4.8 2.1 4.7 1.7 5.3 1.5 4.7 .9 5.4 .7zM647.5 714.8l5.6 .1 5.3 -.2 5.3 -.8 5.3 -1.2 5.4 -1.7 4.8 -2.1 3.7 -2.3 1.6 -1.8 .6 -1.8 -.5 -1.8 -1.4 -1.7 -3.2 -2.4 -3.9 -2 -4.1 -1.8 -5.3 -1.7 -4.7 -1.1 -5.4 -.8 -5.9 -.4 -5.3 .3 -4.7 .8 -4.7 1.3 -4.2 1.9 -3.4 2.3 -2 2.4 -1 2.3 -.1 1.2 .1 1.8 .7 1.8 .7 1.2 2.3 2.3 1.7 1.2 2.1 1.2 4.2 1.7 4.8 1.1 5.6 .7z" fill="#8cc6b5"/><path d="M791.4 716.6l5.9 .2 4.7 -.3 4.7 -.8 4.7 -1.5 3.6 -1.8 2.8 -2.3 1.7 -2.4 .4 -1.1 .3 -1.8 -.3 -1.8 -.4 -1.2 -1.7 -2.3 -2.8 -2.3 -3.7 -1.9 -4.6 -1.5 -4.7 -.8 -4.7 -.3 -6.5 .2 -5.4 .7 -5.3 1 -4.7 1.3 -4.8 1.8 -3.7 1.8 -2.7 1.7 -1.7 1.8 -.4 1.2 0 .6 .1 .6 .7 1.2 1.9 1.7 2.9 1.8 4.1 1.9 4.8 1.7 4.7 1.3 4.7 .9 5.4 .7zM648.4 714.2l5.3 .1 5.3 -.4 5.3 -.8 5.1 -1.2 5 -1.8 3.7 -1.8 1.9 -1.2 1.4 -1.1 1.3 -1.8 .2 -1.8 -.7 -1.8 -1.7 -1.7 -2.5 -1.8 -3.6 -1.9 -4.8 -1.9 -4.7 -1.4 -4.7 -1 -5.3 -.7 -4.8 -.2 -5.3 .3 -4.7 .9 -4.1 1.3 -3.6 1.7 -3.1 2.3 -1.9 2.4 -.8 2.3 0 1.8 .3 1.2 1.3 2.4 2.5 2.3 3.5 2.1 4.1 1.6 4.8 1.1 5.3 .5z" fill="#8ec39a"/><path d="M792.8 716.0l5 .1 4.8 -.3 4.7 -1 4.1 -1.5 3.5 -2 1.4 -1.2 1 -1.2 1.3 -2.3 .2 -2.4 -.7 -2.4 -1.8 -2.3 -2.5 -2 -3.6 -1.7 -4.1 -1.3 -4.7 -.8 -4.1 -.3 -6 .2 -5.3 .6 -4.7 .9 -4.7 1.3 -4.2 1.5 -3.2 1.6 -2.7 1.7 -1.6 1.8 -.5 1.2 0 .6 .1 .6 .7 1.2 1.8 1.7 2.9 1.8 3.9 1.8 4.5 1.5 4.8 1.2 4.7 .9 5 .5zM643.8 713.1l4.6 .4 5.3 .1 5.3 -.4 4.7 -.7 4.8 -1.2 4.7 -1.7 3.6 -1.9 2.4 -1.7 1.3 -1.8 .3 -1.8 -.7 -1.8 -1.7 -1.7 -2.5 -1.8 -3.4 -1.8 -4 -1.5 -4.8 -1.4 -4.7 -1 -5.3 -.6 -4.1 -.1 -4.8 .3 -4.7 1 -4.1 1.4 -3.6 1.9 -2.2 1.8 -1.7 2.4 -.4 1.1 -.2 1.2 .1 1.2 .3 1.2 1.4 2.4 1.1 1.1 1.6 1.2 3 1.7 4.1 1.5 4.3 1z" fill="#97c47b"/><path d="M788.7 714.8l5 .5 4.7 .1 4.2 -.4 4.1 -.9 4.1 -1.6 3 -1.7 2 -1.9 .8 -1.2 .5 -1.1 .2 -1.2 0 -1.2 -.2 -1.2 -.5 -1.2 -.8 -1.2 -1.2 -1.1 -2.5 -1.8 -3 -1.4 -4.2 -1.3 -4.1 -.6 -4.7 -.2 -4.8 .2 -4.7 .5 -4.7 .9 -4.5 1.3 -3.8 1.5 -2.9 1.5 -2.4 1.7 -1.2 1.8 -.2 1.2 .1 .6 .6 1.2 1.9 1.7 2.9 1.8 3.6 1.6 4.1 1.3 4.2 1.1 4.4 .7zM645.2 712.5l4.4 .3 5.3 0 4.7 -.5 4.1 -.7 4.2 -1.1 4.2 -1.6 3.2 -1.8 2.1 -1.7 .7 -1.2 .4 -1.8 -.7 -1.8 -1.7 -1.7 -2.5 -1.8 -3.6 -1.8 -3.9 -1.4 -4.7 -1.2 -4.8 -.8 -5.3 -.5 -3.5 .1 -4.2 .5 -4.1 1 -3.5 1.4 -3 1.8 -2.1 2.1 -.8 1.2 -.5 1.1 -.1 1.2 0 1.2 .3 1.2 .6 1.2 1.5 1.7 2.4 1.8 3.4 1.7 3.6 1.1 3.9 .8z" fill="#a2c76a"/><path d="M791.1 714.2l5 .3 3.5 -.1 4.1 -.5 3.6 -1 2.9 -1.2 2.5 -1.6 1.7 -1.8 .8 -1.2 .4 -1.1 .1 -1.2 -.1 -1.2 -.8 -1.8 -1.6 -1.9 -3 -2 -3.3 -1.4 -3.7 -.9 -4.2 -.5 -4.1 -.1 -4.6 .3 -4.3 .6 -4.1 .9 -4.1 1.3 -3.2 1.4 -2.9 1.7 -1.6 1.7 -.5 1.3 0 1.2 1.1 1.7 2.3 1.8 2.2 1.2 3.1 1.3 4.2 1.3 4.1 .9 4.5 .6zM648.0 711.9l5.1 .1 4.1 -.3 4.2 -.6 4.1 -.9 3.6 -1.3 2.9 -1.4 2.2 -1.5 1.4 -1.8 .4 -1.2 -.3 -1.8 -1.4 -1.7 -2.3 -1.8 -3 -1.6 -3.5 -1.4 -3.5 -1 -3.8 -.7 -4.5 -.6 -4.1 -.1 -4.2 .3 -3.5 .7 -3.6 1.2 -2.8 1.4 -2.3 1.8 -1.3 1.8 -.7 1.7 0 1.2 .2 1.2 .5 1.2 .8 1.2 1.9 1.7 3.1 1.8 3 1.1 3.5 .8 3.8 .5z" fill="#acc95c"/><path d="M789.6 713.1l4.1 .4 4.1 0 3.6 -.3 3.5 -.7 3 -1.1 2.5 -1.3 2 -1.8 1.1 -1.7 .3 -1.8 -.3 -1.8 -1.1 -1.8 -2.2 -1.8 -2.9 -1.5 -3 -1 -3.5 -.7 -3.5 -.2 -4.2 .1 -4.1 .4 -3.6 .6 -4.1 1.1 -3.4 1.3 -2.3 1.1 -1.6 1.2 -1.3 1.8 -.2 1.2 .1 .6 .6 1.2 1.2 1.1 1.7 1.2 2.4 1.2 3.4 1.3 4.1 1 3.6 .7zM646.3 710.7l3.3 .3 4.7 -.1 4.1 -.4 3.6 -.6 3.5 -1 2.9 -1.2 2.1 -1.1 2 -1.8 .6 -1.2 0 -1.8 -1 -1.7 -1.2 -1.2 -1.9 -1.2 -2.9 -1.5 -3 -1 -3.5 -.9 -4.1 -.7 -4.2 -.3 -3.5 .1 -3 .4 -3.5 .9 -3 1.1 -2.1 1.3 -1.9 1.8 -.9 1.7 -.3 1.8 .5 1.8 1.3 1.8 2.2 1.7 2.4 1.2 3.6 1.2 3.2 .6z" fill="#bfd44c"/><path d="M790.0 711.9l3.7 .4 3.6 .1 2.9 -.2 3 -.6 2.9 -.9 2.2 -1.2 1.5 -1.2 1.3 -1.7 .4 -1.8 -.4 -1.8 -.9 -1.3 -1.7 -1.6 -2.4 -1.2 -2.4 -.8 -2.9 -.6 -3 -.3 -3.5 0 -3.5 .3 -3.6 .6 -3.3 .8 -3.2 1.2 -2.3 1.1 -1.4 1.2 -.9 1.2 -.2 1.2 .4 1.2 .9 1.1 1.6 1.2 2.4 1.2 2.5 .9 3.1 .9 3.2 .6zM646.6 709.5l3 .3 4.1 0 3 -.3 3.5 -.6 2.9 -.8 2.6 -1 2.1 -1.1 1.3 -1.2 .8 -1.2 .2 -1.2 -.4 -1.2 -.3 -.6 -1.1 -1.1 -1.7 -1.2 -2.3 -1.2 -2.9 -1 -3 -.8 -3.6 -.6 -4.1 -.2 -2.9 .1 -2.4 .3 -2.9 .8 -2.4 .9 -1.8 1.1 -1.7 1.6 -.8 1.3 -.3 1.8 .5 1.6 .9 1.4 1.4 1.2 2.4 1.3 2.9 1 3 .6z" fill="#d0dd44"/><path d="M793.6 710.7l5.4 0 2.4 -.4 2.3 -.6 1.7 -.8 1.6 -1.2 1 -1.1 .5 -1.2 0 -1.2 -.5 -1.2 -1 -1.2 -1.6 -1.2 -1.7 -.7 -2.3 -.7 -2.4 -.4 -2.9 -.1 -5.9 .5 -4.8 1.2 -2 .8 -1.5 1 -.9 .8 -.7 1.2 .1 1.2 .8 1.2 1.3 1 1.3 .7 2.2 .9 2.4 .7 5.2 .8zM646.0 707.7l2.4 .4 2.9 .1 3 -.1 2.9 -.3 4.5 -1.2 1.4 -.7 1.7 -1.1 .7 -.9 .4 -.9 0 -1.2 -.6 -1.2 -2.2 -1.7 -2.3 -1.1 -2.4 -.7 -5.3 -.9 -2.4 -.2 -2.3 .1 -2.4 .4 -2.2 .6 -1.4 .6 -1.9 1.2 -1.2 1.2 -.6 1.1 0 1.8 .6 1.2 1.2 1.2 1.4 .9 1.9 .8 2.2 .6z" fill="#e4e43a"/><path d="M792.6 707.7l3.5 .4 2.3 -.1 2.4 -.6 1.8 -1.1 .6 -.9 .1 -.6 -.4 -1.2 -1.5 -1.2 -1.5 -.6 -1.5 -.3 -2.9 0 -3.2 .3 -2.1 .6 -2 1.2 -.4 .6 -.1 .6 .1 .6 .5 .6 2.2 1.1 2.1 .6zM648.8 705.4l2.5 .1 3 -.2 2.3 -.6 1.9 -1.1 .5 -.6 .2 -.6 -.1 -.6 -.4 -.6 -1.6 -1.1 -2.8 -1 -3 -.3 -2.5 .1 -2.3 .6 -1.8 1.1 -.7 1.2 .2 1.2 .5 .6 1.8 1.2 2.3 .6z" fill="#f4da30"/></g>
<rect x="605.20" y="585.40" width="236.40" height="236.40" fill="none" stroke="#000" stroke-width="2.3"/>
<line x1="649.55" y1="821.80" x2="649.55" y2="810.30" stroke="#000" stroke-width="2.9"/>
<line x1="605.20" y1="777.45" x2="616.70" y2="777.45" stroke="#000" stroke-width="2.9"/>
<line x1="723.40" y1="821.80" x2="723.40" y2="810.30" stroke="#000" stroke-width="2.9"/>
<line x1="605.20" y1="703.60" x2="616.70" y2="703.60" stroke="#000" stroke-width="2.9"/>
<line x1="797.25" y1="821.80" x2="797.25" y2="810.30" stroke="#000" stroke-width="2.9"/>
<line x1="605.20" y1="629.75" x2="616.70" y2="629.75" stroke="#000" stroke-width="2.9"/>
<line x1="612.63" y1="821.80" x2="612.63" y2="815.80" stroke="#000" stroke-width="2.0"/>
<line x1="605.20" y1="814.37" x2="611.20" y2="814.37" stroke="#000" stroke-width="2.0"/>
<line x1="686.48" y1="821.80" x2="686.48" y2="815.80" stroke="#000" stroke-width="2.0"/>
<line x1="605.20" y1="740.52" x2="611.20" y2="740.52" stroke="#000" stroke-width="2.0"/>
<line x1="760.33" y1="821.80" x2="760.33" y2="815.80" stroke="#000" stroke-width="2.0"/>
<line x1="605.20" y1="666.67" x2="611.20" y2="666.67" stroke="#000" stroke-width="2.0"/>
<line x1="834.18" y1="821.80" x2="834.18" y2="815.80" stroke="#000" stroke-width="2.0"/>
<line x1="605.20" y1="592.82" x2="611.20" y2="592.82" stroke="#000" stroke-width="2.0"/>
<text transform="translate(630.24,619.30) scale(1.0211,1)" font-family="Liberation Serif, DejaVu Serif, serif" font-weight="bold" font-size="41.36" fill="#000">(h)</text>
<text transform="translate(694.21,618.60) scale(1.0598,1)" font-family="Liberation Serif, DejaVu Serif, serif" font-style="italic" font-size="40.51" fill="#000">t</text>
<text transform="translate(717.30,621.55) scale(1.4506,1)" font-family="Liberation Serif, DejaVu Serif, serif" font-size="36.00" fill="#000">=</text>
<text transform="translate(755.45,619.62) scale(0.9381,1)" font-family="Liberation Serif, DejaVu Serif, serif" font-size="39.41" fill="#000">15Γ</text>
<text transform="translate(631.54,853.20) scale(1.1494,1)" font-family="Liberation Serif, DejaVu Serif, serif" font-size="29.80" fill="#000">−5</text>
<text transform="translate(715.95,853.20) scale(1.0000,1)" font-family="Liberation Serif, DejaVu Serif, serif" font-size="29.80" fill="#000">0</text>
<text transform="translate(789.52,853.20) scale(1.0000,1)" font-family="Liberation Serif, DejaVu Serif, serif" font-size="29.80" fill="#000">5</text>
<text transform="translate(674.95,899.10) scale(0.9859,1)" font-family="Liberation Serif, DejaVu Serif, serif" font-size="40.48" fill="#000">Re</text>
<text transform="translate(720.71,899.23) scale(0.8040,1)" font-family="Liberation Serif, DejaVu Serif, serif" font-size="42.13" fill="#000">(</text>
<text transform="translate(732.97,898.73) scale(1.1421,1)" font-family="Liberation Serif, DejaVu Serif, serif" font-style="italic" font-size="36.10" fill="#000">α</text>
<text transform="translate(757.80,899.23) scale(0.8133,1)" font-family="Liberation Serif, DejaVu Serif, serif" font-size="42.13" fill="#000">)</text>
<defs><clipPath id="ci"><rect x="1044.00" y="1.20" width="606.00" height="405.40"/></clipPath></defs>
<path d="M1070.60,240.66 L1071.34,219.50 L1072.08,164.08 L1072.82,95.59 L1073.56,40.18 L1074.30,19.01 L1075.04,33.05 L1075.79,73.02 L1076.53,132.85 L1077.28,203.41 L1078.02,273.98 L1078.77,333.80 L1079.51,373.78 L1080.26,387.81 L1080.99,384.29 L1081.73,373.98 L1082.46,357.57 L1083.20,336.18 L1083.94,311.27 L1084.67,284.55 L1085.41,257.82 L1086.14,232.92 L1086.88,211.53 L1087.61,195.12 L1088.35,184.80 L1089.09,181.28 L1089.81,182.90 L1090.54,187.68 L1091.27,195.36 L1092.00,205.58 L1092.73,217.82 L1093.46,231.46 L1094.19,245.82 L1094.92,260.19 L1095.65,273.83 L1096.38,286.06 L1097.11,296.28 L1097.84,303.97 L1098.56,308.75 L1099.29,310.36 L1100.03,309.11 L1100.77,305.42 L1101.50,299.56 L1102.24,291.92 L1102.97,283.03 L1103.71,273.48 L1104.44,263.94 L1105.18,255.04 L1105.92,247.41 L1106.65,241.54 L1107.39,237.86 L1108.12,236.60 L1108.83,237.27 L1109.54,239.25 L1110.25,242.44 L1110.96,246.67 L1111.67,251.74 L1112.38,257.39 L1113.09,263.34 L1113.80,269.29 L1114.51,274.94 L1115.22,280.01 L1115.93,284.25 L1116.64,287.43 L1117.35,289.41 L1118.05,290.08 L1118.77,289.55 L1119.48,287.98 L1120.19,285.49 L1120.91,282.24 L1121.62,278.46 L1122.33,274.41 L1123.04,270.35 L1123.76,266.57 L1124.47,263.32 L1125.18,260.83 L1125.89,259.27 L1126.61,258.73 L1127.31,259.08 L1128.01,260.10 L1128.71,261.75 L1129.41,263.91 L1130.11,266.47 L1130.81,269.27 L1131.51,272.16 L1132.21,274.97 L1132.91,277.53 L1133.61,279.69 L1134.31,281.33 L1135.01,282.36 L1135.71,282.70 L1136.45,282.45 L1137.18,281.72 L1137.92,280.54 L1138.66,279.02 L1139.39,277.24 L1140.13,275.33 L1140.86,273.42 L1141.60,271.64 L1142.33,270.11 L1143.07,268.94 L1143.81,268.20 L1144.54,267.95 L1145.28,268.17 L1146.01,268.82 L1146.75,269.84 L1147.48,271.18 L1148.22,272.74 L1148.96,274.41 L1149.69,276.08 L1150.43,277.63 L1151.16,278.97 L1151.90,280.00 L1152.63,280.64 L1153.37,280.86 L1154.12,280.71 L1154.87,280.27 L1155.63,279.59 L1156.38,278.70 L1157.13,277.70 L1157.88,276.65 L1158.64,275.64 L1159.39,274.76 L1160.14,274.07 L1160.89,273.63 L1161.65,273.48 L1162.34,273.56 L1163.03,273.78 L1163.72,274.13 L1164.41,274.59 L1165.10,275.15 L1165.79,275.78 L1166.48,276.43 L1167.16,277.09 L1167.85,277.71 L1168.54,278.27 L1169.23,278.74 L1169.92,279.09 L1170.61,279.31 L1171.30,279.38 L1171.99,279.34 L1172.68,279.21 L1173.37,279.00 L1174.06,278.73 L1174.75,278.39 L1175.44,278.02 L1176.13,277.63 L1176.82,277.24 L1177.51,276.87 L1178.20,276.54 L1178.89,276.26 L1179.58,276.05 L1180.27,275.93 L1180.96,275.88 L1181.65,275.90 L1182.34,275.97 L1183.03,276.07 L1183.72,276.21 L1184.41,276.37 L1185.10,276.56 L1185.79,276.77 L1186.48,276.99 L1187.17,277.20 L1187.86,277.41 L1188.55,277.60 L1189.24,277.77 L1189.93,277.91 L1190.62,278.01 L1191.31,278.07 L1192.00,278.09 L1192.73,278.08 L1193.47,278.05 L1194.20,278.01 L1194.94,277.94 L1195.67,277.86 L1196.41,277.78 L1197.15,277.68 L1197.88,277.58 L1198.62,277.49 L1199.35,277.40 L1200.09,277.32 L1200.82,277.26 L1201.56,277.21 L1202.30,277.18 L1203.03,277.17 L1203.72,277.17 L1204.41,277.18 L1205.10,277.18 L1205.79,277.19 L1206.48,277.20 L1207.17,277.21 L1207.86,277.23 L1208.55,277.24 L1209.24,277.26 L1209.93,277.28 L1210.62,277.30 L1211.31,277.32 L1212.00,277.34 L1212.69,277.36 L1213.38,277.38 L1214.07,277.40 L1214.76,277.42 L1215.45,277.44 L1216.14,277.45 L1216.83,277.47 L1217.52,277.49 L1218.21,277.50 L1218.90,277.51 L1219.59,277.52 L1220.28,277.53 L1220.97,277.54 L1221.66,277.54 L1222.34,277.54 L1223.03,277.54 L1223.72,277.54 L1224.41,277.54 L1225.10,277.54 L1225.79,277.54 L1226.48,277.54 L1227.17,277.54 L1227.86,277.54 L1228.55,277.54 L1229.24,277.54 L1229.93,277.54 L1230.62,277.54 L1231.31,277.54 L1232.00,277.54 L1232.69,277.54 L1233.38,277.54 L1234.07,277.54 L1234.76,277.54 L1235.45,277.54 L1236.14,277.54 L1236.83,277.54 L1237.52,277.54 L1238.21,277.54 L1238.90,277.54 L1239.59,277.54 L1240.28,277.54 L1240.97,277.54 L1241.66,277.54 L1242.35,277.54 L1243.04,277.54 L1243.73,277.54 L1244.42,277.54 L1245.11,277.54 L1245.80,277.54 L1246.49,277.54 L1247.18,277.54 L1247.87,277.54 L1248.56,277.54 L1249.25,277.54 L1249.93,277.54 L1250.62,277.54 L1251.31,277.54 L1252.00,277.54 L1252.69,277.54 L1253.38,277.54 L1254.07,277.54 L1254.76,277.54 L1255.45,277.54 L1256.14,277.54 L1256.83,277.54 L1257.52,277.54 L1258.21,277.54 L1258.90,277.54 L1259.59,277.54 L1260.28,277.54 L1260.97,277.54 L1261.66,277.54 L1262.35,277.54 L1263.04,277.54 L1263.73,277.54 L1264.42,277.54 L1265.11,277.54 L1265.80,277.54 L1266.49,277.54 L1267.18,277.54 L1267.87,277.54 L1268.56,277.54 L1269.25,277.54 L1269.94,277.54 L1270.63,277.54 L1271.32,277.54 L1272.01,277.54 L1272.70,277.54 L1273.39,277.54 L1274.08,277.54 L1274.77,277.54 L1275.46,277.54 L1276.15,277.54 L1276.84,277.54 L1277.52,277.54 L1278.21,277.54 L1278.90,277.54 L1279.59,277.54 L1280.28,277.54 L1280.97,277.54 L1281.66,277.54 L1282.35,277.54 L1283.04,277.54 L1283.73,277.54 L1284.42,277.54 L1285.11,277.54 L1285.80,277.54 L1286.49,277.54 L1287.18,277.54 L1287.87,277.54 L1288.56,277.54 L1289.25,277.54 L1289.94,277.54 L1290.63,277.54 L1291.32,277.54 L1292.01,277.54 L1292.70,277.54 L1293.39,277.54 L1294.08,277.54 L1294.77,277.54 L1295.46,277.54 L1296.15,277.54 L1296.84,277.54 L1297.53,277.54 L1298.22,277.54 L1298.91,277.54 L1299.60,277.54 L1300.29,277.54 L1300.98,277.54 L1301.67,277.54 L1302.36,277.54 L1303.05,277.54 L1303.74,277.54 L1304.43,277.54 L1305.11,277.54 L1305.80,277.54 L1306.49,277.54 L1307.18,277.54 L1307.87,277.54 L1308.56,277.54 L1309.25,277.54 L1309.94,277.54 L1310.63,277.54 L1311.32,277.54 L1312.01,277.54 L1312.70,277.54 L1313.39,277.54 L1314.08,277.54 L1314.77,277.54 L1315.46,277.54 L1316.15,277.54 L1316.84,277.54 L1317.53,277.54 L1318.22,277.54 L1318.91,277.54 L1319.60,277.54 L1320.29,277.54 L1320.98,277.54 L1321.67,277.54 L1322.36,277.54 L1323.05,277.54 L1323.74,277.54 L1324.43,277.54 L1325.12,277.54 L1325.81,277.54 L1326.50,277.54 L1327.19,277.54 L1327.88,277.54 L1328.57,277.54 L1329.26,277.54 L1329.95,277.54 L1330.64,277.54 L1331.33,277.54 L1332.02,277.54 L1332.70,277.54 L1333.39,277.54 L1334.08,277.54 L1334.77,277.54 L1335.46,277.54 L1336.15,277.54 L1336.84,277.54 L1337.53,277.54 L1338.22,277.54 L1338.91,277.54 L1339.60,277.54 L1340.29,277.54 L1340.98,277.54 L1341.67,277.54 L1342.36,277.54 L1343.05,277.54 L1343.74,277.54 L1344.43,277.54 L1345.12,277.54 L1345.81,277.54 L1346.50,277.54 L1347.19,277.54 L1347.88,277.54 L1348.57,277.54 L1349.26,277.54 L1349.95,277.54 L1350.64,277.54 L1351.33,277.54 L1352.02,277.54 L1352.71,277.54 L1353.40,277.54 L1354.09,277.54 L1354.78,277.54 L1355.47,277.54 L1356.16,277.54 L1356.85,277.54 L1357.54,277.54 L1358.23,277.54 L1358.92,277.54 L1359.61,277.54 L1360.29,277.54 L1360.98,277.54 L1361.67,277.54 L1362.36,277.54 L1363.05,277.54 L1363.74,277.54 L1364.43,277.54 L1365.12,277.54 L1365.81,277.54 L1366.50,277.54 L1367.19,277.54 L1367.88,277.54 L1368.57,277.54 L1369.26,277.54 L1369.95,277.54 L1370.64,277.54 L1371.33,277.54 L1372.02,277.54 L1372.71,277.54 L1373.40,277.54 L1374.09,277.54 L1374.78,277.54 L1375.47,277.54 L1376.16,277.54 L1376.85,277.54 L1377.54,277.54 L1378.23,277.54 L1378.92,277.54 L1379.61,277.54 L1380.30,277.54 L1380.99,277.54 L1381.68,277.54 L1382.37,277.54 L1383.06,277.54 L1383.75,277.54 L1384.44,277.54 L1385.13,277.54 L1385.82,277.54 L1386.51,277.54 L1387.20,277.54 L1387.88,277.54 L1388.57,277.54 L1389.26,277.54 L1389.95,277.54 L1390.64,277.54 L1391.33,277.54 L1392.02,277.54 L1392.71,277.54 L1393.40,277.54 L1394.09,277.54 L1394.78,277.54 L1395.47,277.54 L1396.16,277.54 L1396.85,277.54 L1397.54,277.54 L1398.23,277.54 L1398.92,277.54 L1399.61,277.54 L1400.30,277.54 L1400.99,277.54 L1401.68,277.54 L1402.37,277.54 L1403.06,277.54 L1403.75,277.54 L1404.44,277.54 L1405.13,277.54 L1405.82,277.54 L1406.51,277.54 L1407.20,277.54 L1407.89,277.54 L1408.58,277.54 L1409.27,277.54 L1409.96,277.54 L1410.65,277.54 L1411.34,277.54 L1412.03,277.54 L1412.72,277.54 L1413.41,277.54 L1414.10,277.54 L1414.79,277.54 L1415.47,277.54 L1416.16,277.54 L1416.85,277.54 L1417.54,277.54 L1418.23,277.54 L1418.92,277.54 L1419.61,277.54 L1420.30,277.54 L1420.99,277.54 L1421.68,277.54 L1422.37,277.54 L1423.06,277.54 L1423.75,277.54 L1424.44,277.54 L1425.13,277.54 L1425.82,277.54 L1426.51,277.54 L1427.20,277.54 L1427.89,277.54 L1428.58,277.54 L1429.27,277.54 L1429.96,277.54 L1430.65,277.54 L1431.34,277.54 L1432.03,277.54 L1432.72,277.54 L1433.41,277.54 L1434.10,277.54 L1434.79,277.54 L1435.48,277.54 L1436.17,277.54 L1436.86,277.54 L1437.55,277.54 L1438.24,277.54 L1438.93,277.54 L1439.62,277.54 L1440.31,277.54 L1441.00,277.54 L1441.69,277.54 L1442.38,277.54 L1443.06,277.54 L1443.75,277.54 L1444.44,277.54 L1445.13,277.54 L1445.82,277.54 L1446.51,277.54 L1447.20,277.54 L1447.89,277.54 L1448.58,277.54 L1449.27,277.54 L1449.96,277.54 L1450.65,277.54 L1451.34,277.54 L1452.03,277.54 L1452.72,277.54 L1453.41,277.54 L1454.10,277.54 L1454.79,277.54 L1455.48,277.54 L1456.17,277.54 L1456.86,277.54 L1457.55,277.54 L1458.24,277.54 L1458.93,277.54 L1459.62,277.54 L1460.31,277.54 L1461.00,277.54 L1461.69,277.54 L1462.38,277.54 L1463.07,277.54 L1463.76,277.54 L1464.45,277.54 L1465.14,277.54 L1465.83,277.54 L1466.52,277.54 L1467.21,277.54 L1467.90,277.54 L1468.59,277.54 L1469.28,277.54 L1469.97,277.54 L1470.65,277.54 L1471.34,277.54 L1472.03,277.54 L1472.72,277.54 L1473.41,277.54 L1474.10,277.54 L1474.79,277.54 L1475.48,277.54 L1476.17,277.54 L1476.86,277.54 L1477.55,277.54 L1478.24,277.54 L1478.93,277.54 L1479.62,277.54 L1480.31,277.54 L1481.00,277.54 L1481.69,277.54 L1482.38,277.54 L1483.07,277.54 L1483.76,277.54 L1484.45,277.54 L1485.14,277.54 L1485.83,277.54 L1486.52,277.54 L1487.21,277.54 L1487.90,277.54 L1488.59,277.54 L1489.28,277.54 L1489.97,277.54 L1490.66,277.54 L1491.35,277.54 L1492.04,277.54 L1492.73,277.54 L1493.42,277.54 L1494.11,277.54 L1494.80,277.54 L1495.49,277.54 L1496.18,277.54 L1496.87,277.54 L1497.56,277.54 L1498.24,277.54 L1498.93,277.54 L1499.62,277.54 L1500.31,277.54 L1501.00,277.54 L1501.69,277.54 L1502.38,277.54 L1503.07,277.54 L1503.76,277.54 L1504.45,277.54 L1505.14,277.54 L1505.83,277.54 L1506.52,277.54 L1507.21,277.54 L1507.90,277.54 L1508.59,277.54 L1509.28,277.54 L1509.97,277.54 L1510.66,277.54 L1511.35,277.54 L1512.04,277.54 L1512.73,277.54 L1513.42,277.54 L1514.11,277.54 L1514.80,277.54 L1515.49,277.54 L1516.18,277.54 L1516.87,277.54 L1517.56,277.54 L1518.25,277.54 L1518.94,277.54 L1519.63,277.54 L1520.32,277.54 L1521.01,277.54 L1521.70,277.54 L1522.39,277.54 L1523.08,277.54 L1523.77,277.54 L1524.46,277.54 L1525.15,277.54 L1525.84,277.54 L1526.52,277.54 L1527.21,277.54 L1527.90,277.54 L1528.59,277.54 L1529.28,277.54 L1529.97,277.54 L1530.66,277.54 L1531.35,277.54 L1532.04,277.54 L1532.73,277.54 L1533.42,277.54 L1534.11,277.54 L1534.80,277.54 L1535.49,277.54 L1536.18,277.54 L1536.87,277.54 L1537.56,277.54 L1538.25,277.54 L1538.94,277.54 L1539.63,277.54 L1540.32,277.54 L1541.01,277.54 L1541.70,277.54 L1542.39,277.54 L1543.08,277.54 L1543.77,277.54 L1544.46,277.54 L1545.15,277.54 L1545.84,277.54 L1546.53,277.54 L1547.22,277.54 L1547.91,277.54 L1548.60,277.54 L1549.29,277.54 L1549.98,277.54 L1550.67,277.54 L1551.36,277.54 L1552.05,277.54 L1552.74,277.54 L1553.42,277.54 L1554.11,277.54 L1554.80,277.54 L1555.49,277.54 L1556.18,277.54 L1556.87,277.54 L1557.56,277.54 L1558.25,277.54 L1558.94,277.54 L1559.63,277.54 L1560.32,277.54 L1561.01,277.54 L1561.70,277.54 L1562.39,277.54 L1563.08,277.54 L1563.77,277.54 L1564.46,277.54 L1565.15,277.54 L1565.84,277.54 L1566.53,277.54 L1567.22,277.54 L1567.91,277.54 L1568.60,277.54 L1569.29,277.54 L1569.98,277.54 L1570.67,277.54 L1571.36,277.54 L1572.05,277.54 L1572.74,277.54 L1573.43,277.54 L1574.12,277.54 L1574.81,277.54 L1575.50,277.54 L1576.19,277.54 L1576.88,277.54 L1577.57,277.54 L1578.26,277.54 L1578.95,277.54 L1579.64,277.54 L1580.33,277.54 L1581.01,277.54 L1581.70,277.54 L1582.39,277.54 L1583.08,277.54 L1583.77,277.54 L1584.46,277.54 L1585.15,277.54 L1585.84,277.54 L1586.53,277.54 L1587.22,277.54 L1587.91,277.54 L1588.60,277.54 L1589.29,277.54 L1589.98,277.54 L1590.67,277.54 L1591.36,277.54 L1592.05,277.54 L1592.74,277.54 L1593.43,277.54 L1594.12,277.54 L1594.81,277.54 L1595.50,277.54 L1596.19,277.54 L1596.88,277.54 L1597.57,277.54 L1598.26,277.54 L1598.95,277.54 L1599.64,277.54 L1600.33,277.54 L1601.02,277.54 L1601.71,277.54 L1602.40,277.54 L1603.09,277.54 L1603.78,277.54 L1604.47,277.54 L1605.16,277.54 L1605.85,277.54 L1606.54,277.54 L1607.23,277.54 L1607.92,277.54 L1608.61,277.54 L1609.29,277.54 L1609.98,277.54 L1610.67,277.54 L1611.36,277.54 L1612.05,277.54 L1612.74,277.54 L1613.43,277.54 L1614.12,277.54 L1614.81,277.54 L1615.50,277.54 L1616.19,277.54 L1616.88,277.54 L1617.57,277.54 L1618.26,277.54 L1618.95,277.54 L1619.64,277.54 L1620.33,277.54 L1621.02,277.54 L1621.71,277.54 L1622.40,277.54" fill="none" stroke="#d13c3b" stroke-width="3.0" stroke-linejoin="round" stroke-linecap="square" clip-path="url(#ci)"/>
<path d="M1070.60,240.66 L1071.34,219.50 L1072.08,164.08 L1072.82,95.59 L1073.56,40.18 L1074.30,19.01 L1075.04,33.05 L1075.79,73.02 L1076.53,132.85 L1077.28,203.41 L1078.02,273.98 L1078.77,333.80 L1079.51,373.78 L1080.26,387.81 L1080.99,384.29 L1081.73,373.98 L1082.46,357.57 L1083.20,336.18 L1083.94,311.27 L1084.67,284.55 L1085.41,257.82 L1086.14,232.92 L1086.88,211.53 L1087.61,195.12 L1088.35,184.80 L1089.09,181.28 L1089.81,182.90 L1090.54,187.68 L1091.27,195.36 L1092.00,205.58 L1092.73,217.82 L1093.46,231.46 L1094.19,245.82 L1094.92,260.19 L1095.65,273.83 L1096.38,286.06 L1097.11,296.28 L1097.84,303.97 L1098.56,308.75 L1099.29,310.36 L1100.03,309.11 L1100.77,305.42 L1101.50,299.56 L1102.24,291.92 L1102.97,283.03 L1103.71,273.48 L1104.44,263.94 L1105.18,255.04 L1105.92,247.41 L1106.65,241.54 L1107.39,237.86 L1108.12,236.60 L1108.83,237.27 L1109.54,239.25 L1110.25,242.44 L1110.96,246.67 L1111.67,251.74 L1112.38,257.39 L1113.09,263.34 L1113.80,269.29 L1114.51,274.94 L1115.22,280.01 L1115.93,284.25 L1116.64,287.43 L1117.35,289.41 L1118.05,290.08 L1118.77,289.55 L1119.48,287.98 L1120.19,285.49 L1120.91,282.24 L1121.62,278.46 L1122.33,274.41 L1123.04,270.35 L1123.76,266.57 L1124.47,263.32 L1125.18,260.83 L1125.89,259.27 L1126.61,258.73 L1127.31,259.08 L1128.01,260.10 L1128.71,261.75 L1129.41,263.91 L1130.11,266.47 L1130.81,269.27 L1131.51,272.16 L1132.21,274.97 L1132.91,277.53 L1133.61,279.69 L1134.31,281.33 L1135.01,282.36 L1135.71,282.70 L1136.45,282.45 L1137.18,281.72 L1137.92,280.54 L1138.66,279.02 L1139.39,277.24 L1140.13,275.33 L1140.86,273.42 L1141.60,271.64 L1142.33,270.11 L1143.07,268.94 L1143.81,268.20 L1144.54,267.95 L1145.28,268.17 L1146.01,268.82 L1146.75,269.84 L1147.48,271.18 L1148.22,272.74 L1148.96,274.41 L1149.69,276.08 L1150.43,277.63 L1151.16,278.97 L1151.90,280.00 L1152.63,280.64 L1153.37,280.86 L1154.12,280.71 L1154.87,280.27 L1155.63,279.59 L1156.38,278.70 L1157.13,277.70 L1157.88,276.65 L1158.64,275.64 L1159.39,274.76 L1160.14,274.07 L1160.89,273.63 L1161.65,273.48 L1162.34,273.56 L1163.03,273.78 L1163.72,274.13 L1164.41,274.59 L1165.10,275.15 L1165.79,275.78 L1166.48,276.43 L1167.16,277.09 L1167.85,277.71 L1168.54,278.27 L1169.23,278.74 L1169.92,279.09 L1170.61,279.31 L1171.30,279.38 L1171.99,279.34 L1172.68,279.21 L1173.37,279.00 L1174.06,278.73 L1174.75,278.39 L1175.44,278.02 L1176.13,277.63 L1176.82,277.24 L1177.51,276.87 L1178.20,276.54 L1178.89,276.26 L1179.58,276.05 L1180.27,275.93 L1180.96,275.88 L1181.65,275.90 L1182.34,275.97 L1183.03,276.07 L1183.72,276.21 L1184.41,276.37 L1185.10,276.56 L1185.79,276.77 L1186.48,276.99 L1187.17,277.20 L1187.86,277.41 L1188.55,277.60 L1189.24,277.77 L1189.93,277.91 L1190.62,278.01 L1191.31,278.07 L1192.00,278.09 L1192.73,278.08 L1193.47,278.05 L1194.20,278.01 L1194.94,277.94 L1195.67,277.86 L1196.41,277.78 L1197.15,277.68 L1197.88,277.58 L1198.62,277.49 L1199.35,277.40 L1200.09,277.32 L1200.82,277.26 L1201.56,277.21 L1202.30,277.18 L1203.03,277.17 L1203.72,277.17 L1204.41,277.18 L1205.10,277.18 L1205.79,277.19 L1206.48,277.20 L1207.17,277.21 L1207.86,277.23 L1208.55,277.24 L1209.24,277.26 L1209.93,277.28 L1210.62,277.30 L1211.31,277.32 L1212.00,277.34 L1212.69,277.36 L1213.38,277.38 L1214.07,277.40 L1214.76,277.42 L1215.45,277.44 L1216.14,277.45 L1216.83,277.47 L1217.52,277.49 L1218.21,277.50 L1218.90,277.51 L1219.59,277.52 L1220.28,277.53 L1220.97,277.54 L1221.66,277.54 L1222.34,277.54 L1223.03,277.54 L1223.72,277.54 L1224.41,277.54 L1225.10,277.54 L1225.79,277.54 L1226.48,277.54 L1227.17,277.54 L1227.86,277.54 L1228.55,277.54 L1229.24,277.54 L1229.93,277.54 L1230.62,277.54 L1231.31,277.54 L1232.00,277.54 L1232.69,277.54 L1233.38,277.54 L1234.07,277.54 L1234.76,277.54 L1235.45,277.54 L1236.14,277.54 L1236.83,277.54 L1237.52,277.54 L1238.21,277.54 L1238.90,277.54 L1239.59,277.54 L1240.28,277.54 L1240.97,277.54 L1241.66,277.54 L1242.35,277.54 L1243.04,277.54 L1243.73,277.54 L1244.42,277.54 L1245.11,277.54 L1245.80,277.54 L1246.49,277.54 L1247.18,277.54 L1247.87,277.54 L1248.56,277.54 L1249.25,277.54 L1249.93,277.54 L1250.62,277.54 L1251.31,277.54 L1252.00,277.54 L1252.69,277.54 L1253.38,277.54 L1254.07,277.54 L1254.76,277.54 L1255.45,277.54 L1256.14,277.54 L1256.83,277.54 L1257.52,277.54 L1258.21,277.54 L1258.90,277.54 L1259.59,277.54 L1260.28,277.54 L1260.97,277.54 L1261.66,277.54 L1262.35,277.54 L1263.04,277.54 L1263.73,277.54 L1264.42,277.54 L1265.11,277.54 L1265.80,277.54 L1266.49,277.54 L1267.18,277.54 L1267.87,277.54 L1268.56,277.54 L1269.25,277.54 L1269.94,277.54 L1270.63,277.54 L1271.32,277.54 L1272.01,277.54 L1272.70,277.54 L1273.39,277.54 L1274.08,277.54 L1274.77,277.54 L1275.46,277.54 L1276.15,277.54 L1276.84,277.54 L1277.52,277.54 L1278.21,277.54 L1278.90,277.54 L1279.59,277.54 L1280.28,277.54 L1280.97,277.54 L1281.66,277.54 L1282.35,277.54 L1283.04,277.54 L1283.73,277.54 L1284.42,277.54 L1285.11,277.54 L1285.80,277.54 L1286.49,277.54 L1287.18,277.54 L1287.87,277.54 L1288.56,277.54 L1289.25,277.54 L1289.94,277.54 L1290.63,277.54 L1291.32,277.54 L1292.01,277.54 L1292.70,277.54 L1293.39,277.54 L1294.08,277.54 L1294.77,277.54 L1295.46,277.54 L1296.15,277.54 L1296.84,277.54 L1297.53,277.54 L1298.22,277.54 L1298.91,277.54 L1299.60,277.54 L1300.29,277.54 L1300.98,277.54 L1301.67,277.54 L1302.36,277.54 L1303.05,277.54 L1303.74,277.54 L1304.43,277.54 L1305.11,277.54 L1305.80,277.54 L1306.49,277.54 L1307.18,277.54 L1307.87,277.54 L1308.56,277.54 L1309.25,277.54 L1309.94,277.54 L1310.63,277.54 L1311.32,277.54 L1312.01,277.54 L1312.70,277.54 L1313.39,277.54 L1314.08,277.54 L1314.77,277.54 L1315.46,277.54 L1316.15,277.54 L1316.84,277.54 L1317.53,277.54 L1318.22,277.54 L1318.91,277.54 L1319.60,277.54 L1320.29,277.54 L1320.98,277.54 L1321.67,277.54 L1322.36,277.54 L1323.05,277.54 L1323.74,277.54 L1324.43,277.54 L1325.12,277.54 L1325.81,277.54 L1326.50,277.54 L1327.19,277.54 L1327.88,277.54 L1328.57,277.54 L1329.26,277.54 L1329.95,277.54 L1330.64,277.54 L1331.33,277.54 L1332.02,277.54 L1332.70,277.54 L1333.39,277.54 L1334.08,277.54 L1334.77,277.54 L1335.46,277.54 L1336.15,277.54 L1336.84,277.54 L1337.53,277.54 L1338.22,277.54 L1338.91,277.54 L1339.60,277.54 L1340.29,277.54 L1340.98,277.54 L1341.67,277.54 L1342.36,277.54 L1343.05,277.54 L1343.74,277.54 L1344.43,277.54 L1345.12,277.54 L1345.81,277.54 L1346.50,277.54 L1347.19,277.54 L1347.88,277.54 L1348.57,277.54 L1349.26,277.54 L1349.95,277.54 L1350.64,277.54 L1351.33,277.54 L1352.02,277.54 L1352.71,277.54 L1353.40,277.54 L1354.09,277.54 L1354.78,277.54 L1355.47,277.54 L1356.16,277.54 L1356.85,277.54 L1357.54,277.54 L1358.23,277.54 L1358.92,277.54 L1359.61,277.54 L1360.29,277.54 L1360.98,277.54 L1361.67,277.54 L1362.36,277.54 L1363.05,277.54 L1363.74,277.54 L1364.43,277.54 L1365.12,277.54 L1365.81,277.54 L1366.50,277.54 L1367.19,277.54 L1367.88,277.54 L1368.57,277.54 L1369.26,277.54 L1369.95,277.54 L1370.64,277.54 L1371.33,277.54 L1372.02,277.54 L1372.71,277.54 L1373.40,277.54 L1374.09,277.54 L1374.78,277.54 L1375.47,277.54 L1376.16,277.54 L1376.85,277.54 L1377.54,277.54 L1378.23,277.54 L1378.92,277.54 L1379.61,277.54 L1380.30,277.54 L1380.99,277.54 L1381.68,277.54 L1382.37,277.54 L1383.06,277.54 L1383.75,277.54 L1384.44,277.54 L1385.13,277.54 L1385.82,277.54 L1386.51,277.54 L1387.20,277.54 L1387.88,277.54 L1388.57,277.54 L1389.26,277.54 L1389.95,277.54 L1390.64,277.54 L1391.33,277.54 L1392.02,277.54 L1392.71,277.54 L1393.40,277.54 L1394.09,277.54 L1394.78,277.54 L1395.47,277.54 L1396.16,277.54 L1396.85,277.54 L1397.54,277.54 L1398.23,277.54 L1398.92,277.54 L1399.61,277.54 L1400.30,277.54 L1400.99,277.54 L1401.68,277.54 L1402.37,277.54 L1403.06,277.54 L1403.75,277.54 L1404.44,277.54 L1405.13,277.54 L1405.82,277.54 L1406.51,277.54 L1407.20,277.54 L1407.89,277.54 L1408.58,277.54 L1409.27,277.54 L1409.96,277.54 L1410.65,277.54 L1411.34,277.54 L1412.03,277.54 L1412.72,277.54 L1413.41,277.54 L1414.10,277.54 L1414.79,277.54 L1415.47,277.54 L1416.16,277.54 L1416.85,277.54 L1417.54,277.54 L1418.23,277.54 L1418.92,277.54 L1419.61,277.54 L1420.30,277.54 L1420.99,277.54 L1421.68,277.54 L1422.37,277.54 L1423.06,277.54 L1423.75,277.54 L1424.44,277.54 L1425.13,277.54 L1425.82,277.54 L1426.51,277.54 L1427.20,277.54 L1427.89,277.54 L1428.58,277.54 L1429.27,277.54 L1429.96,277.54 L1430.65,277.54 L1431.34,277.54 L1432.03,277.54 L1432.72,277.54 L1433.41,277.54 L1434.10,277.54 L1434.79,277.54 L1435.48,277.54 L1436.17,277.54 L1436.86,277.54 L1437.55,277.54 L1438.24,277.54 L1438.93,277.54 L1439.62,277.54 L1440.31,277.54 L1441.00,277.54 L1441.69,277.54 L1442.38,277.54 L1443.06,277.54 L1443.75,277.54 L1444.44,277.54 L1445.13,277.54 L1445.82,277.54 L1446.51,277.54 L1447.20,277.54 L1447.89,277.54 L1448.58,277.54 L1449.27,277.54 L1449.96,277.54 L1450.65,277.54 L1451.34,277.54 L1452.03,277.54 L1452.72,277.54 L1453.41,277.54 L1454.10,277.54 L1454.79,277.54 L1455.48,277.54 L1456.17,277.54 L1456.86,277.54 L1457.55,277.54 L1458.24,277.54 L1458.93,277.54 L1459.62,277.54 L1460.31,277.54 L1461.00,277.54 L1461.69,277.54 L1462.38,277.54 L1463.07,277.54 L1463.76,277.54 L1464.45,277.54 L1465.14,277.54 L1465.83,277.54 L1466.52,277.54 L1467.21,277.54 L1467.90,277.54 L1468.59,277.54 L1469.28,277.54 L1469.97,277.54 L1470.65,277.54 L1471.34,277.54 L1472.03,277.54 L1472.72,277.54 L1473.41,277.54 L1474.10,277.54 L1474.79,277.54 L1475.48,277.54 L1476.17,277.54 L1476.86,277.54 L1477.55,277.54 L1478.24,277.54 L1478.93,277.54 L1479.62,277.54 L1480.31,277.54 L1481.00,277.54 L1481.69,277.54 L1482.38,277.54 L1483.07,277.54 L1483.76,277.54 L1484.45,277.54 L1485.14,277.54 L1485.83,277.54 L1486.52,277.54 L1487.21,277.54 L1487.90,277.54 L1488.59,277.54 L1489.28,277.54 L1489.97,277.54 L1490.66,277.54 L1491.35,277.54 L1492.04,277.54 L1492.73,277.54 L1493.42,277.54 L1494.11,277.54 L1494.80,277.54 L1495.49,277.54 L1496.18,277.54 L1496.87,277.54 L1497.56,277.54 L1498.24,277.54 L1498.93,277.54 L1499.62,277.54 L1500.31,277.54 L1501.00,277.54 L1501.69,277.54 L1502.38,277.54 L1503.07,277.54 L1503.76,277.54 L1504.45,277.54 L1505.14,277.54 L1505.83,277.54 L1506.52,277.54 L1507.21,277.54 L1507.90,277.54 L1508.59,277.54 L1509.28,277.54 L1509.97,277.54 L1510.66,277.54 L1511.35,277.54 L1512.04,277.54 L1512.73,277.54 L1513.42,277.54 L1514.11,277.54 L1514.80,277.54 L1515.49,277.54 L1516.18,277.54 L1516.87,277.54 L1517.56,277.54 L1518.25,277.54 L1518.94,277.54 L1519.63,277.54 L1520.32,277.54 L1521.01,277.54 L1521.70,277.54 L1522.39,277.54 L1523.08,277.54 L1523.77,277.54 L1524.46,277.54 L1525.15,277.54 L1525.84,277.54 L1526.52,277.54 L1527.21,277.54 L1527.90,277.54 L1528.59,277.54 L1529.28,277.54 L1529.97,277.54 L1530.66,277.54 L1531.35,277.54 L1532.04,277.54 L1532.73,277.54 L1533.42,277.54 L1534.11,277.54 L1534.80,277.54 L1535.49,277.54 L1536.18,277.54 L1536.87,277.54 L1537.56,277.54 L1538.25,277.54 L1538.94,277.54 L1539.63,277.54 L1540.32,277.54 L1541.01,277.54 L1541.70,277.54 L1542.39,277.54 L1543.08,277.54 L1543.77,277.54 L1544.46,277.54 L1545.15,277.54 L1545.84,277.54 L1546.53,277.54 L1547.22,277.54 L1547.91,277.54 L1548.60,277.54 L1549.29,277.54 L1549.98,277.54 L1550.67,277.54 L1551.36,277.54 L1552.05,277.54 L1552.74,277.54 L1553.42,277.54 L1554.11,277.54 L1554.80,277.54 L1555.49,277.54 L1556.18,277.54 L1556.87,277.54 L1557.56,277.54 L1558.25,277.54 L1558.94,277.54 L1559.63,277.54 L1560.32,277.54 L1561.01,277.54 L1561.70,277.54 L1562.39,277.54 L1563.08,277.54 L1563.77,277.54 L1564.46,277.54 L1565.15,277.54 L1565.84,277.54 L1566.53,277.54 L1567.22,277.54 L1567.91,277.54 L1568.60,277.54 L1569.29,277.54 L1569.98,277.54 L1570.67,277.54 L1571.36,277.54 L1572.05,277.54 L1572.74,277.54 L1573.43,277.54 L1574.12,277.54 L1574.81,277.54 L1575.50,277.54 L1576.19,277.54 L1576.88,277.54 L1577.57,277.54 L1578.26,277.54 L1578.95,277.54 L1579.64,277.54 L1580.33,277.54 L1581.01,277.54 L1581.70,277.54 L1582.39,277.54 L1583.08,277.54 L1583.77,277.54 L1584.46,277.54 L1585.15,277.54 L1585.84,277.54 L1586.53,277.54 L1587.22,277.54 L1587.91,277.54 L1588.60,277.54 L1589.29,277.54 L1589.98,277.54 L1590.67,277.54 L1591.36,277.54 L1592.05,277.54 L1592.74,277.54 L1593.43,277.54 L1594.12,277.54 L1594.81,277.54 L1595.50,277.54 L1596.19,277.54 L1596.88,277.54 L1597.57,277.54 L1598.26,277.54 L1598.95,277.54 L1599.64,277.54 L1600.33,277.54 L1601.02,277.54 L1601.71,277.54 L1602.40,277.54 L1603.09,277.54 L1603.78,277.54 L1604.47,277.54 L1605.16,277.54 L1605.85,277.54 L1606.54,277.54 L1607.23,277.54 L1607.92,277.54 L1608.61,277.54 L1609.29,277.54 L1609.98,277.54 L1610.67,277.54 L1611.36,277.54 L1612.05,277.54 L1612.74,277.54 L1613.43,277.54 L1614.12,277.54 L1614.81,277.54 L1615.50,277.54 L1616.19,277.54 L1616.88,277.54 L1617.57,277.54 L1618.26,277.54 L1618.95,277.54 L1619.64,277.54 L1620.33,277.54 L1621.02,277.54 L1621.71,277.54 L1622.40,277.54" fill="none" stroke="#4e72bd" stroke-width="3.0" stroke-linejoin="round" stroke-dasharray="11.5,4" stroke-dashoffset="8.8" clip-path="url(#ci)"/>
<rect x="1044.00" y="1.20" width="606.00" height="405.40" fill="none" stroke="#000" stroke-width="2.3"/>
<line x1="1070.60" y1="406.60" x2="1070.60" y2="395.10" stroke="#000" stroke-width="2.9"/>
<line x1="1208.55" y1="406.60" x2="1208.55" y2="395.10" stroke="#000" stroke-width="2.9"/>
<line x1="1346.50" y1="406.60" x2="1346.50" y2="395.10" stroke="#000" stroke-width="2.9"/>
<line x1="1484.45" y1="406.60" x2="1484.45" y2="395.10" stroke="#000" stroke-width="2.9"/>
<line x1="1622.40" y1="406.60" x2="1622.40" y2="395.10" stroke="#000" stroke-width="2.9"/>
<line x1="1139.57" y1="406.60" x2="1139.57" y2="400.60" stroke="#000" stroke-width="2.0"/>
<line x1="1277.52" y1="406.60" x2="1277.52" y2="400.60" stroke="#000" stroke-width="2.0"/>
<line x1="1415.47" y1="406.60" x2="1415.47" y2="400.60" stroke="#000" stroke-width="2.0"/>
<line x1="1553.42" y1="406.60" x2="1553.42" y2="400.60" stroke="#000" stroke-width="2.0"/>
<line x1="1044.00" y1="391.50" x2="1055.50" y2="391.50" stroke="#000" stroke-width="2.9"/>
<line x1="1044.00" y1="299.30" x2="1055.50" y2="299.30" stroke="#000" stroke-width="2.9"/>
<line x1="1044.00" y1="207.10" x2="1055.50" y2="207.10" stroke="#000" stroke-width="2.9"/>
<line x1="1044.00" y1="114.90" x2="1055.50" y2="114.90" stroke="#000" stroke-width="2.9"/>
<line x1="1044.00" y1="22.70" x2="1055.50" y2="22.70" stroke="#000" stroke-width="2.9"/>
<line x1="1044.00" y1="345.40" x2="1050.00" y2="345.40" stroke="#000" stroke-width="2.0"/>
<line x1="1044.00" y1="253.20" x2="1050.00" y2="253.20" stroke="#000" stroke-width="2.0"/>
<line x1="1044.00" y1="161.00" x2="1050.00" y2="161.00" stroke="#000" stroke-width="2.0"/>
<line x1="1044.00" y1="68.80" x2="1050.00" y2="68.80" stroke="#000" stroke-width="2.0"/>
<text transform="translate(981.51,401.90) scale(1.0000,1)" font-family="Liberation Serif, DejaVu Serif, serif" font-size="29.80" fill="#000">10.5</text>
<text transform="translate(981.48,309.70) scale(1.0000,1)" font-family="Liberation Serif, DejaVu Serif, serif" font-size="29.80" fill="#000">11.0</text>
<text transform="translate(981.51,217.50) scale(1.0000,1)" font-family="Liberation Serif, DejaVu Serif, serif" font-size="29.80" fill="#000">11.5</text>
<text transform="translate(981.48,125.30) scale(1.0000,1)" font-family="Liberation Serif, DejaVu Serif, serif" font-size="29.80" fill="#000">12.0</text>
<text transform="translate(981.51,33.10) scale(1.0000,1)" font-family="Liberation Serif, DejaVu Serif, serif" font-size="29.80" fill="#000">12.5</text>
<text transform="translate(1106.15,367.04) scale(1.0335,1)" font-family="Liberation Serif, DejaVu Serif, serif" font-weight="bold" font-size="40.70" fill="#000">(i)</text>
<text transform="translate(966.60,240.50) rotate(-90) translate(-14.21,0) scale(0.5943,1)" font-family="Noto Sans CJK JP, sans-serif" font-size="40.67" fill="#000">〈</text>
<text transform="translate(960.91,228.90) rotate(-90) translate(-1.19,0) scale(1.0411,1)" font-family="Liberation Serif, DejaVu Serif, serif" font-style="italic" font-size="38.41" fill="#000">â</text>
<text transform="translate(949.12,209.30) rotate(-90) translate(-0.65,0) scale(0.6862,1)" font-family="Liberation Serif, DejaVu Serif, serif" font-size="30.58" fill="#000">†</text>
<text transform="translate(960.91,196.00) rotate(-90) translate(-1.19,0) scale(1.0411,1)" font-family="Liberation Serif, DejaVu Serif, serif" font-style="italic" font-size="38.41" fill="#000">â</text>
<text transform="translate(966.60,175.80) rotate(-90) translate(-1.33,0) scale(0.6284,1)" font-family="Noto Sans CJK JP, sans-serif" font-size="40.67" fill="#000">〉</text>
<defs><clipPath id="cj"><rect x="1043.90" y="419.40" width="606.10" height="405.00"/></clipPath></defs>
<path d="M1070.60,443.48 L1071.29,440.67 L1071.98,438.82 L1072.67,437.73 L1073.36,437.20 L1074.05,437.02 L1074.74,437.11 L1075.43,439.91 L1076.12,445.24 L1076.82,451.33 L1077.51,457.63 L1078.20,465.44 L1078.89,472.75 L1079.58,477.76 L1080.27,482.14 L1080.96,486.18 L1081.65,489.54 L1082.34,491.87 L1083.03,492.84 L1083.72,492.84 L1084.41,492.80 L1085.10,492.75 L1085.79,492.68 L1086.48,492.59 L1087.17,492.49 L1087.87,492.20 L1088.56,491.70 L1089.25,491.07 L1089.94,490.38 L1090.63,489.68 L1091.32,489.06 L1092.01,488.56 L1092.70,488.27 L1093.39,488.23 L1094.08,488.45 L1094.77,488.86 L1095.46,489.44 L1096.15,490.13 L1096.84,490.91 L1097.53,491.71 L1098.22,492.52 L1098.92,493.27 L1099.61,493.94 L1100.30,494.48 L1100.99,494.94 L1101.68,495.35 L1102.37,495.74 L1103.06,496.11 L1103.75,496.49 L1104.44,496.89 L1105.13,497.34 L1105.82,497.84 L1106.51,498.43 L1107.20,499.17 L1107.89,500.05 L1108.58,501.03 L1109.27,502.09 L1109.96,503.18 L1110.66,504.26 L1111.35,505.31 L1112.04,506.29 L1112.73,507.17 L1113.42,508.04 L1114.11,508.91 L1114.80,509.77 L1115.49,510.61 L1116.18,511.41 L1116.87,512.16 L1117.56,512.85 L1118.25,513.47 L1118.94,514.02 L1119.63,514.50 L1120.32,514.93 L1121.01,515.32 L1121.71,515.69 L1122.40,516.04 L1123.09,516.38 L1123.78,516.73 L1124.47,517.11 L1125.16,517.51 L1125.85,517.95 L1126.54,518.44 L1127.23,519.00 L1127.92,519.61 L1128.61,520.27 L1129.30,520.97 L1129.99,521.69 L1130.68,522.43 L1131.37,523.19 L1132.06,523.95 L1132.76,524.70 L1133.45,525.43 L1134.14,526.14 L1134.83,526.77 L1135.52,527.36 L1136.21,527.92 L1136.90,528.47 L1137.59,529.02 L1138.28,529.55 L1138.97,530.08 L1139.66,530.61 L1140.35,531.14 L1141.04,531.68 L1141.73,532.21 L1142.42,532.75 L1143.11,533.30 L1143.81,533.85 L1144.50,534.41 L1145.19,534.97 L1145.88,535.54 L1146.57,536.11 L1147.26,536.69 L1147.95,537.27 L1148.64,537.85 L1149.33,538.43 L1150.02,539.01 L1150.71,539.59 L1151.40,540.16 L1152.09,540.74 L1152.78,541.31 L1153.47,541.89 L1154.16,542.46 L1154.85,543.04 L1155.55,543.61 L1156.24,544.18 L1156.93,544.75 L1157.62,545.32 L1158.31,545.89 L1159.00,546.46 L1159.69,547.03 L1160.38,547.60 L1161.07,548.16 L1161.76,548.73 L1162.45,549.29 L1163.14,549.86 L1163.83,550.43 L1164.52,550.99 L1165.21,551.55 L1165.90,552.12 L1166.60,552.68 L1167.29,553.24 L1167.98,553.80 L1168.67,554.36 L1169.36,554.92 L1170.05,555.48 L1170.74,556.04 L1171.43,556.60 L1172.12,557.16 L1172.81,557.72 L1173.50,558.27 L1174.19,558.83 L1174.88,559.38 L1175.57,559.94 L1176.26,560.49 L1176.95,561.04 L1177.65,561.60 L1178.34,562.15 L1179.03,562.70 L1179.72,563.24 L1180.41,563.79 L1181.10,564.34 L1181.79,564.88 L1182.48,565.43 L1183.17,565.97 L1183.86,566.52 L1184.55,567.06 L1185.24,567.60 L1185.93,568.14 L1186.62,568.67 L1187.31,569.21 L1188.00,569.75 L1188.69,570.28 L1189.39,570.81 L1190.08,571.35 L1190.77,571.88 L1191.46,572.41 L1192.15,572.94 L1192.84,573.46 L1193.53,573.99 L1194.22,574.51 L1194.91,575.03 L1195.60,575.56 L1196.29,576.08 L1196.98,576.60 L1197.67,577.11 L1198.36,577.63 L1199.05,578.14 L1199.74,578.66 L1200.44,579.17 L1201.13,579.68 L1201.82,580.19 L1202.51,580.69 L1203.20,581.20 L1203.89,581.70 L1204.58,582.21 L1205.27,582.71 L1205.96,583.21 L1206.65,583.71 L1207.34,584.20 L1208.03,584.70 L1208.72,585.19 L1209.41,585.69 L1210.10,586.18 L1210.79,586.67 L1211.49,587.15 L1212.18,587.64 L1212.87,588.13 L1213.56,588.61 L1214.25,589.09 L1214.94,589.57 L1215.63,590.05 L1216.32,590.52 L1217.01,591.00 L1217.70,591.47 L1218.39,591.94 L1219.08,592.42 L1219.77,592.88 L1220.46,593.35 L1221.15,593.82 L1221.84,594.28 L1222.53,594.74 L1223.23,595.21 L1223.92,595.67 L1224.61,596.13 L1225.30,596.58 L1225.99,597.04 L1226.68,597.49 L1227.37,597.95 L1228.06,598.40 L1228.75,598.85 L1229.44,599.30 L1230.13,599.74 L1230.82,600.19 L1231.51,600.63 L1232.20,601.08 L1232.89,601.52 L1233.58,601.96 L1234.28,602.40 L1234.97,602.84 L1235.66,603.27 L1236.35,603.71 L1237.04,604.14 L1237.73,604.58 L1238.42,605.01 L1239.11,605.44 L1239.80,605.87 L1240.49,606.30 L1241.18,606.72 L1241.87,607.15 L1242.56,607.57 L1243.25,608.00 L1243.94,608.42 L1244.63,608.84 L1245.33,609.26 L1246.02,609.68 L1246.71,610.10 L1247.40,610.52 L1248.09,610.93 L1248.78,611.35 L1249.47,611.76 L1250.16,612.18 L1250.85,612.59 L1251.54,613.00 L1252.23,613.41 L1252.92,613.82 L1253.61,614.23 L1254.30,614.64 L1254.99,615.04 L1255.68,615.45 L1256.37,615.86 L1257.07,616.26 L1257.76,616.66 L1258.45,617.07 L1259.14,617.47 L1259.83,617.87 L1260.52,618.27 L1261.21,618.67 L1261.90,619.07 L1262.59,619.47 L1263.28,619.87 L1263.97,620.27 L1264.66,620.66 L1265.35,621.06 L1266.04,621.45 L1266.73,621.85 L1267.42,622.24 L1268.12,622.63 L1268.81,623.03 L1269.50,623.42 L1270.19,623.81 L1270.88,624.20 L1271.57,624.59 L1272.26,624.98 L1272.95,625.36 L1273.64,625.75 L1274.33,626.14 L1275.02,626.52 L1275.71,626.91 L1276.40,627.29 L1277.09,627.67 L1277.78,628.06 L1278.47,628.44 L1279.17,628.82 L1279.86,629.20 L1280.55,629.58 L1281.24,629.96 L1281.93,630.34 L1282.62,630.71 L1283.31,631.09 L1284.00,631.46 L1284.69,631.84 L1285.38,632.21 L1286.07,632.59 L1286.76,632.96 L1287.45,633.33 L1288.14,633.70 L1288.83,634.07 L1289.52,634.44 L1290.22,634.81 L1290.91,635.18 L1291.60,635.55 L1292.29,635.91 L1292.98,636.28 L1293.67,636.65 L1294.36,637.01 L1295.05,637.37 L1295.74,637.74 L1296.43,638.10 L1297.12,638.46 L1297.81,638.82 L1298.50,639.18 L1299.19,639.54 L1299.88,639.90 L1300.57,640.26 L1301.26,640.61 L1301.96,640.97 L1302.65,641.32 L1303.34,641.68 L1304.03,642.03 L1304.72,642.39 L1305.41,642.74 L1306.10,643.09 L1306.79,643.44 L1307.48,643.79 L1308.17,644.14 L1308.86,644.49 L1309.55,644.84 L1310.24,645.18 L1310.93,645.53 L1311.62,645.88 L1312.31,646.22 L1313.01,646.56 L1313.70,646.91 L1314.39,647.25 L1315.08,647.59 L1315.77,647.93 L1316.46,648.27 L1317.15,648.61 L1317.84,648.95 L1318.53,649.29 L1319.22,649.63 L1319.91,649.96 L1320.60,650.30 L1321.29,650.63 L1321.98,650.97 L1322.67,651.30 L1323.36,651.63 L1324.06,651.97 L1324.75,652.30 L1325.44,652.63 L1326.13,652.96 L1326.82,653.29 L1327.51,653.62 L1328.20,653.94 L1328.89,654.27 L1329.58,654.60 L1330.27,654.92 L1330.96,655.25 L1331.65,655.57 L1332.34,655.89 L1333.03,656.21 L1333.72,656.54 L1334.41,656.86 L1335.10,657.18 L1335.80,657.50 L1336.49,657.82 L1337.18,658.13 L1337.87,658.45 L1338.56,658.77 L1339.25,659.08 L1339.94,659.40 L1340.63,659.71 L1341.32,660.03 L1342.01,660.34 L1342.70,660.65 L1343.39,660.97 L1344.08,661.28 L1344.77,661.59 L1345.46,661.90 L1346.15,662.21 L1346.85,662.52 L1347.54,662.83 L1348.23,663.13 L1348.92,663.44 L1349.61,663.75 L1350.30,664.05 L1350.99,664.36 L1351.68,664.67 L1352.37,664.97 L1353.06,665.27 L1353.75,665.58 L1354.44,665.88 L1355.13,666.18 L1355.82,666.48 L1356.51,666.79 L1357.20,667.09 L1357.90,667.39 L1358.59,667.69 L1359.28,667.99 L1359.97,668.28 L1360.66,668.58 L1361.35,668.88 L1362.04,669.18 L1362.73,669.48 L1363.42,669.77 L1364.11,670.07 L1364.80,670.36 L1365.49,670.66 L1366.18,670.95 L1366.87,671.25 L1367.56,671.54 L1368.25,671.83 L1368.94,672.13 L1369.64,672.42 L1370.33,672.71 L1371.02,673.00 L1371.71,673.29 L1372.40,673.58 L1373.09,673.88 L1373.78,674.17 L1374.47,674.45 L1375.16,674.74 L1375.85,675.03 L1376.54,675.32 L1377.23,675.61 L1377.92,675.90 L1378.61,676.18 L1379.30,676.47 L1379.99,676.76 L1380.69,677.04 L1381.38,677.33 L1382.07,677.61 L1382.76,677.90 L1383.45,678.18 L1384.14,678.47 L1384.83,678.75 L1385.52,679.04 L1386.21,679.32 L1386.90,679.60 L1387.59,679.88 L1388.28,680.16 L1388.97,680.45 L1389.66,680.73 L1390.35,681.01 L1391.04,681.29 L1391.74,681.57 L1392.43,681.84 L1393.12,682.12 L1393.81,682.40 L1394.50,682.68 L1395.19,682.96 L1395.88,683.23 L1396.57,683.51 L1397.26,683.78 L1397.95,684.06 L1398.64,684.33 L1399.33,684.60 L1400.02,684.88 L1400.71,685.15 L1401.40,685.42 L1402.09,685.69 L1402.78,685.96 L1403.48,686.23 L1404.17,686.50 L1404.86,686.77 L1405.55,687.04 L1406.24,687.31 L1406.93,687.58 L1407.62,687.84 L1408.31,688.11 L1409.00,688.37 L1409.69,688.64 L1410.38,688.90 L1411.07,689.16 L1411.76,689.43 L1412.45,689.69 L1413.14,689.95 L1413.83,690.21 L1414.53,690.47 L1415.22,690.73 L1415.91,690.99 L1416.60,691.25 L1417.29,691.50 L1417.98,691.76 L1418.67,692.02 L1419.36,692.27 L1420.05,692.53 L1420.74,692.78 L1421.43,693.03 L1422.12,693.28 L1422.81,693.54 L1423.50,693.79 L1424.19,694.04 L1424.88,694.29 L1425.58,694.54 L1426.27,694.78 L1426.96,695.03 L1427.65,695.28 L1428.34,695.52 L1429.03,695.77 L1429.72,696.01 L1430.41,696.25 L1431.10,696.50 L1431.79,696.74 L1432.48,696.98 L1433.17,697.22 L1433.86,697.46 L1434.55,697.70 L1435.24,697.94 L1435.93,698.17 L1436.63,698.41 L1437.32,698.65 L1438.01,698.88 L1438.70,699.12 L1439.39,699.35 L1440.08,699.58 L1440.77,699.82 L1441.46,700.05 L1442.15,700.28 L1442.84,700.51 L1443.53,700.74 L1444.22,700.97 L1444.91,701.20 L1445.60,701.42 L1446.29,701.65 L1446.98,701.88 L1447.67,702.10 L1448.37,702.33 L1449.06,702.55 L1449.75,702.78 L1450.44,703.00 L1451.13,703.22 L1451.82,703.45 L1452.51,703.67 L1453.20,703.89 L1453.89,704.11 L1454.58,704.33 L1455.27,704.55 L1455.96,704.77 L1456.65,704.99 L1457.34,705.20 L1458.03,705.42 L1458.72,705.64 L1459.42,705.85 L1460.11,706.07 L1460.80,706.28 L1461.49,706.50 L1462.18,706.71 L1462.87,706.93 L1463.56,707.14 L1464.25,707.35 L1464.94,707.56 L1465.63,707.77 L1466.32,707.98 L1467.01,708.19 L1467.70,708.40 L1468.39,708.61 L1469.08,708.82 L1469.77,709.03 L1470.47,709.24 L1471.16,709.44 L1471.85,709.65 L1472.54,709.86 L1473.23,710.06 L1473.92,710.27 L1474.61,710.47 L1475.30,710.68 L1475.99,710.88 L1476.68,711.08 L1477.37,711.29 L1478.06,711.49 L1478.75,711.69 L1479.44,711.89 L1480.13,712.09 L1480.82,712.30 L1481.51,712.50 L1482.21,712.70 L1482.90,712.89 L1483.59,713.09 L1484.28,713.29 L1484.97,713.49 L1485.66,713.69 L1486.35,713.89 L1487.04,714.08 L1487.73,714.28 L1488.42,714.48 L1489.11,714.67 L1489.80,714.87 L1490.49,715.06 L1491.18,715.26 L1491.87,715.45 L1492.56,715.64 L1493.26,715.84 L1493.95,716.03 L1494.64,716.22 L1495.33,716.42 L1496.02,716.61 L1496.71,716.80 L1497.40,716.99 L1498.09,717.18 L1498.78,717.37 L1499.47,717.56 L1500.16,717.75 L1500.85,717.94 L1501.54,718.13 L1502.23,718.32 L1502.92,718.51 L1503.61,718.70 L1504.31,718.88 L1505.00,719.07 L1505.69,719.26 L1506.38,719.45 L1507.07,719.63 L1507.76,719.82 L1508.45,720.00 L1509.14,720.19 L1509.83,720.37 L1510.52,720.56 L1511.21,720.74 L1511.90,720.93 L1512.59,721.11 L1513.28,721.29 L1513.97,721.48 L1514.66,721.66 L1515.35,721.84 L1516.05,722.02 L1516.74,722.21 L1517.43,722.39 L1518.12,722.57 L1518.81,722.75 L1519.50,722.93 L1520.19,723.11 L1520.88,723.29 L1521.57,723.47 L1522.26,723.65 L1522.95,723.83 L1523.64,724.01 L1524.33,724.18 L1525.02,724.36 L1525.71,724.54 L1526.40,724.72 L1527.10,724.89 L1527.79,725.07 L1528.48,725.25 L1529.17,725.42 L1529.86,725.60 L1530.55,725.77 L1531.24,725.95 L1531.93,726.12 L1532.62,726.30 L1533.31,726.47 L1534.00,726.64 L1534.69,726.82 L1535.38,726.99 L1536.07,727.16 L1536.76,727.34 L1537.45,727.51 L1538.15,727.68 L1538.84,727.85 L1539.53,728.02 L1540.22,728.19 L1540.91,728.36 L1541.60,728.53 L1542.29,728.70 L1542.98,728.87 L1543.67,729.04 L1544.36,729.21 L1545.05,729.38 L1545.74,729.55 L1546.43,729.72 L1547.12,729.89 L1547.81,730.05 L1548.50,730.22 L1549.19,730.39 L1549.89,730.55 L1550.58,730.72 L1551.27,730.89 L1551.96,731.05 L1552.65,731.22 L1553.34,731.38 L1554.03,731.55 L1554.72,731.71 L1555.41,731.88 L1556.10,732.04 L1556.79,732.20 L1557.48,732.37 L1558.17,732.53 L1558.86,732.69 L1559.55,732.85 L1560.24,733.02 L1560.94,733.18 L1561.63,733.34 L1562.32,733.50 L1563.01,733.66 L1563.70,733.82 L1564.39,733.98 L1565.08,734.14 L1565.77,734.30 L1566.46,734.46 L1567.15,734.62 L1567.84,734.78 L1568.53,734.94 L1569.22,735.10 L1569.91,735.26 L1570.60,735.41 L1571.29,735.57 L1571.99,735.73 L1572.68,735.88 L1573.37,736.04 L1574.06,736.20 L1574.75,736.35 L1575.44,736.51 L1576.13,736.66 L1576.82,736.82 L1577.51,736.97 L1578.20,737.13 L1578.89,737.28 L1579.58,737.44 L1580.27,737.59 L1580.96,737.74 L1581.65,737.90 L1582.34,738.05 L1583.04,738.20 L1583.73,738.35 L1584.42,738.50 L1585.11,738.66 L1585.80,738.81 L1586.49,738.96 L1587.18,739.11 L1587.87,739.26 L1588.56,739.41 L1589.25,739.56 L1589.94,739.71 L1590.63,739.86 L1591.32,740.00 L1592.01,740.15 L1592.70,740.30 L1593.39,740.45 L1594.08,740.60 L1594.78,740.74 L1595.47,740.89 L1596.16,741.04 L1596.85,741.18 L1597.54,741.33 L1598.23,741.47 L1598.92,741.62 L1599.61,741.76 L1600.30,741.91 L1600.99,742.05 L1601.68,742.20 L1602.37,742.34 L1603.06,742.48 L1603.75,742.63 L1604.44,742.77 L1605.13,742.91 L1605.83,743.05 L1606.52,743.20 L1607.21,743.34 L1607.90,743.48 L1608.59,743.62 L1609.28,743.76 L1609.97,743.90 L1610.66,744.04 L1611.35,744.18 L1612.04,744.32 L1612.73,744.46 L1613.42,744.60 L1614.11,744.74 L1614.80,744.88 L1615.49,745.01 L1616.18,745.15 L1616.88,745.29 L1617.57,745.42 L1618.26,745.56 L1618.95,745.70 L1619.64,745.83 L1620.33,745.97 L1621.02,746.11 L1621.71,746.24 L1622.40,746.38" fill="none" stroke="#d13c3b" stroke-width="3.0" stroke-linejoin="round" stroke-linecap="square" clip-path="url(#cj)"/>
<path d="M1070.60,442.61 L1071.29,444.54 L1071.98,447.27 L1072.67,450.67 L1073.36,454.62 L1074.05,458.98 L1074.74,463.61 L1075.43,468.40 L1076.12,473.91 L1076.82,480.47 L1077.51,487.79 L1078.20,496.34 L1078.89,506.20 L1079.58,514.50 L1080.27,521.89 L1080.96,528.36 L1081.65,533.38 L1082.34,537.40 L1083.03,540.97 L1083.72,544.18 L1084.41,547.09 L1085.10,549.75 L1085.79,552.25 L1086.48,554.62 L1087.17,556.93 L1087.87,559.23 L1088.56,561.58 L1089.25,563.86 L1089.94,565.99 L1090.63,568.01 L1091.32,569.96 L1092.01,571.90 L1092.70,573.84 L1093.39,575.84 L1094.08,577.93 L1094.77,580.14 L1095.46,582.46 L1096.15,584.83 L1096.84,587.27 L1097.53,589.75 L1098.22,592.27 L1098.92,594.82 L1099.61,597.39 L1100.30,599.97 L1100.99,602.56 L1101.68,605.15 L1102.37,607.73 L1103.06,610.29 L1103.75,612.84 L1104.44,615.36 L1105.13,617.90 L1105.82,620.49 L1106.51,623.13 L1107.20,625.77 L1107.89,628.42 L1108.58,631.04 L1109.27,633.63 L1109.96,636.17 L1110.66,638.65 L1111.35,641.04 L1112.04,643.35 L1112.73,645.56 L1113.42,647.66 L1114.11,649.67 L1114.80,651.63 L1115.49,653.53 L1116.18,655.38 L1116.87,657.17 L1117.56,658.93 L1118.25,660.65 L1118.94,662.34 L1119.63,664.00 L1120.32,665.63 L1121.01,667.24 L1121.71,668.83 L1122.40,670.41 L1123.09,671.98 L1123.78,673.52 L1124.47,675.04 L1125.16,676.53 L1125.85,677.99 L1126.54,679.43 L1127.23,680.85 L1127.92,682.25 L1128.61,683.64 L1129.30,685.00 L1129.99,686.35 L1130.68,687.69 L1131.37,689.02 L1132.06,690.34 L1132.76,691.64 L1133.45,692.94 L1134.14,694.23 L1134.83,695.51 L1135.52,696.78 L1136.21,698.04 L1136.90,699.29 L1137.59,700.53 L1138.28,701.75 L1138.97,702.97 L1139.66,704.17 L1140.35,705.36 L1141.04,706.53 L1141.73,707.70 L1142.42,708.85 L1143.11,709.99 L1143.81,711.11 L1144.50,712.22 L1145.19,713.32 L1145.88,714.41 L1146.57,715.48 L1147.26,716.54 L1147.95,717.58 L1148.64,718.61 L1149.33,719.63 L1150.02,720.64 L1150.71,721.64 L1151.40,722.62 L1152.09,723.59 L1152.78,724.55 L1153.47,725.51 L1154.16,726.45 L1154.85,727.38 L1155.55,728.30 L1156.24,729.21 L1156.93,730.11 L1157.62,731.00 L1158.31,731.89 L1159.00,732.76 L1159.69,733.63 L1160.38,734.48 L1161.07,735.33 L1161.76,736.17 L1162.45,737.01 L1163.14,737.83 L1163.83,738.65 L1164.52,739.47 L1165.21,740.28 L1165.90,741.08 L1166.60,741.87 L1167.29,742.66 L1167.98,743.43 L1168.67,744.20 L1169.36,744.96 L1170.05,745.72 L1170.74,746.46 L1171.43,747.20 L1172.12,747.92 L1172.81,748.64 L1173.50,749.35 L1174.19,750.05 L1174.88,750.74 L1175.57,751.42 L1176.26,752.10 L1176.95,752.76 L1177.65,753.41 L1178.34,754.05 L1179.03,754.69 L1179.72,755.31 L1180.41,755.93 L1181.10,756.53 L1181.79,757.12 L1182.48,757.71 L1183.17,758.28 L1183.86,758.85 L1184.55,759.40 L1185.24,759.95 L1185.93,760.49 L1186.62,761.01 L1187.31,761.53 L1188.00,762.04 L1188.69,762.53 L1189.39,763.02 L1190.08,763.50 L1190.77,763.98 L1191.46,764.44 L1192.15,764.90 L1192.84,765.35 L1193.53,765.80 L1194.22,766.24 L1194.91,766.67 L1195.60,767.10 L1196.29,767.52 L1196.98,767.93 L1197.67,768.34 L1198.36,768.75 L1199.05,769.15 L1199.74,769.54 L1200.44,769.94 L1201.13,770.32 L1201.82,770.71 L1202.51,771.09 L1203.20,771.46 L1203.89,771.83 L1204.58,772.20 L1205.27,772.57 L1205.96,772.93 L1206.65,773.29 L1207.34,773.65 L1208.03,774.00 L1208.72,774.35 L1209.41,774.70 L1210.10,775.05 L1210.79,775.40 L1211.49,775.74 L1212.18,776.08 L1212.87,776.42 L1213.56,776.76 L1214.25,777.10 L1214.94,777.43 L1215.63,777.76 L1216.32,778.09 L1217.01,778.41 L1217.70,778.73 L1218.39,779.05 L1219.08,779.37 L1219.77,779.68 L1220.46,779.99 L1221.15,780.30 L1221.84,780.60 L1222.53,780.90 L1223.23,781.20 L1223.92,781.50 L1224.61,781.79 L1225.30,782.08 L1225.99,782.36 L1226.68,782.65 L1227.37,782.93 L1228.06,783.20 L1228.75,783.48 L1229.44,783.75 L1230.13,784.01 L1230.82,784.28 L1231.51,784.54 L1232.20,784.80 L1232.89,785.05 L1233.58,785.30 L1234.28,785.55 L1234.97,785.80 L1235.66,786.04 L1236.35,786.28 L1237.04,786.51 L1237.73,786.74 L1238.42,786.97 L1239.11,787.20 L1239.80,787.42 L1240.49,787.64 L1241.18,787.86 L1241.87,788.07 L1242.56,788.29 L1243.25,788.50 L1243.94,788.70 L1244.63,788.91 L1245.33,789.11 L1246.02,789.31 L1246.71,789.51 L1247.40,789.71 L1248.09,789.90 L1248.78,790.09 L1249.47,790.28 L1250.16,790.47 L1250.85,790.65 L1251.54,790.84 L1252.23,791.02 L1252.92,791.19 L1253.61,791.37 L1254.30,791.54 L1254.99,791.71 L1255.68,791.88 L1256.37,792.05 L1257.07,792.21 L1257.76,792.38 L1258.45,792.54 L1259.14,792.70 L1259.83,792.85 L1260.52,793.01 L1261.21,793.16 L1261.90,793.31 L1262.59,793.46 L1263.28,793.60 L1263.97,793.75 L1264.66,793.89 L1265.35,794.03 L1266.04,794.17 L1266.73,794.31 L1267.42,794.44 L1268.12,794.57 L1268.81,794.70 L1269.50,794.83 L1270.19,794.96 L1270.88,795.09 L1271.57,795.21 L1272.26,795.34 L1272.95,795.46 L1273.64,795.58 L1274.33,795.70 L1275.02,795.81 L1275.71,795.93 L1276.40,796.04 L1277.09,796.15 L1277.78,796.27 L1278.47,796.38 L1279.17,796.48 L1279.86,796.59 L1280.55,796.70 L1281.24,796.80 L1281.93,796.91 L1282.62,797.01 L1283.31,797.11 L1284.00,797.21 L1284.69,797.31 L1285.38,797.40 L1286.07,797.50 L1286.76,797.59 L1287.45,797.69 L1288.14,797.78 L1288.83,797.87 L1289.52,797.96 L1290.22,798.05 L1290.91,798.14 L1291.60,798.23 L1292.29,798.32 L1292.98,798.40 L1293.67,798.49 L1294.36,798.57 L1295.05,798.65 L1295.74,798.73 L1296.43,798.81 L1297.12,798.89 L1297.81,798.97 L1298.50,799.05 L1299.19,799.13 L1299.88,799.20 L1300.57,799.28 L1301.26,799.35 L1301.96,799.43 L1302.65,799.50 L1303.34,799.57 L1304.03,799.64 L1304.72,799.72 L1305.41,799.78 L1306.10,799.85 L1306.79,799.92 L1307.48,799.99 L1308.17,800.06 L1308.86,800.12 L1309.55,800.19 L1310.24,800.25 L1310.93,800.32 L1311.62,800.38 L1312.31,800.44 L1313.01,800.50 L1313.70,800.56 L1314.39,800.62 L1315.08,800.68 L1315.77,800.74 L1316.46,800.80 L1317.15,800.86 L1317.84,800.91 L1318.53,800.97 L1319.22,801.03 L1319.91,801.08 L1320.60,801.13 L1321.29,801.19 L1321.98,801.24 L1322.67,801.29 L1323.36,801.34 L1324.06,801.40 L1324.75,801.45 L1325.44,801.50 L1326.13,801.55 L1326.82,801.59 L1327.51,801.64 L1328.20,801.69 L1328.89,801.74 L1329.58,801.78 L1330.27,801.83 L1330.96,801.88 L1331.65,801.92 L1332.34,801.97 L1333.03,802.01 L1333.72,802.05 L1334.41,802.10 L1335.10,802.14 L1335.80,802.18 L1336.49,802.22 L1337.18,802.26 L1337.87,802.30 L1338.56,802.34 L1339.25,802.38 L1339.94,802.42 L1340.63,802.46 L1341.32,802.50 L1342.01,802.54 L1342.70,802.58 L1343.39,802.61 L1344.08,802.65 L1344.77,802.69 L1345.46,802.72 L1346.15,802.76 L1346.85,802.79 L1347.54,802.83 L1348.23,802.86 L1348.92,802.89 L1349.61,802.93 L1350.30,802.96 L1350.99,802.99 L1351.68,803.03 L1352.37,803.06 L1353.06,803.09 L1353.75,803.12 L1354.44,803.15 L1355.13,803.18 L1355.82,803.21 L1356.51,803.24 L1357.20,803.27 L1357.90,803.30 L1358.59,803.33 L1359.28,803.36 L1359.97,803.39 L1360.66,803.41 L1361.35,803.44 L1362.04,803.47 L1362.73,803.50 L1363.42,803.52 L1364.11,803.55 L1364.80,803.58 L1365.49,803.60 L1366.18,803.63 L1366.87,803.65 L1367.56,803.68 L1368.25,803.70 L1368.94,803.73 L1369.64,803.75 L1370.33,803.77 L1371.02,803.80 L1371.71,803.82 L1372.40,803.84 L1373.09,803.87 L1373.78,803.89 L1374.47,803.91 L1375.16,803.93 L1375.85,803.95 L1376.54,803.98 L1377.23,804.00 L1377.92,804.02 L1378.61,804.04 L1379.30,804.06 L1379.99,804.08 L1380.69,804.10 L1381.38,804.12 L1382.07,804.14 L1382.76,804.16 L1383.45,804.18 L1384.14,804.20 L1384.83,804.21 L1385.52,804.23 L1386.21,804.25 L1386.90,804.27 L1387.59,804.29 L1388.28,804.30 L1388.97,804.32 L1389.66,804.34 L1390.35,804.36 L1391.04,804.37 L1391.74,804.39 L1392.43,804.41 L1393.12,804.42 L1393.81,804.44 L1394.50,804.45 L1395.19,804.47 L1395.88,804.48 L1396.57,804.50 L1397.26,804.51 L1397.95,804.53 L1398.64,804.54 L1399.33,804.56 L1400.02,804.57 L1400.71,804.59 L1401.40,804.60 L1402.09,804.61 L1402.78,804.63 L1403.48,804.64 L1404.17,804.66 L1404.86,804.67 L1405.55,804.68 L1406.24,804.69 L1406.93,804.71 L1407.62,804.72 L1408.31,804.73 L1409.00,804.74 L1409.69,804.76 L1410.38,804.77 L1411.07,804.78 L1411.76,804.79 L1412.45,804.80 L1413.14,804.82 L1413.83,804.83 L1414.53,804.84 L1415.22,804.85 L1415.91,804.86 L1416.60,804.87 L1417.29,804.88 L1417.98,804.89 L1418.67,804.90 L1419.36,804.91 L1420.05,804.92 L1420.74,804.93 L1421.43,804.94 L1422.12,804.95 L1422.81,804.96 L1423.50,804.97 L1424.19,804.98 L1424.88,804.99 L1425.58,805.00 L1426.27,805.01 L1426.96,805.02 L1427.65,805.03 L1428.34,805.04 L1429.03,805.05 L1429.72,805.06 L1430.41,805.06 L1431.10,805.07 L1431.79,805.08 L1432.48,805.09 L1433.17,805.10 L1433.86,805.11 L1434.55,805.11 L1435.24,805.12 L1435.93,805.13 L1436.63,805.14 L1437.32,805.15 L1438.01,805.15 L1438.70,805.16 L1439.39,805.17 L1440.08,805.18 L1440.77,805.18 L1441.46,805.19 L1442.15,805.20 L1442.84,805.21 L1443.53,805.21 L1444.22,805.22 L1444.91,805.23 L1445.60,805.23 L1446.29,805.24 L1446.98,805.25 L1447.67,805.25 L1448.37,805.26 L1449.06,805.27 L1449.75,805.27 L1450.44,805.28 L1451.13,805.29 L1451.82,805.29 L1452.51,805.30 L1453.20,805.30 L1453.89,805.31 L1454.58,805.32 L1455.27,805.32 L1455.96,805.33 L1456.65,805.33 L1457.34,805.34 L1458.03,805.35 L1458.72,805.35 L1459.42,805.36 L1460.11,805.36 L1460.80,805.37 L1461.49,805.37 L1462.18,805.38 L1462.87,805.38 L1463.56,805.39 L1464.25,805.39 L1464.94,805.40 L1465.63,805.40 L1466.32,805.41 L1467.01,805.41 L1467.70,805.42 L1468.39,805.42 L1469.08,805.43 L1469.77,805.43 L1470.47,805.44 L1471.16,805.44 L1471.85,805.45 L1472.54,805.45 L1473.23,805.46 L1473.92,805.46 L1474.61,805.46 L1475.30,805.47 L1475.99,805.47 L1476.68,805.48 L1477.37,805.48 L1478.06,805.49 L1478.75,805.49 L1479.44,805.49 L1480.13,805.50 L1480.82,805.50 L1481.51,805.51 L1482.21,805.51 L1482.90,805.51 L1483.59,805.52 L1484.28,805.52 L1484.97,805.53 L1485.66,805.53 L1486.35,805.53 L1487.04,805.54 L1487.73,805.54 L1488.42,805.54 L1489.11,805.55 L1489.80,805.55 L1490.49,805.55 L1491.18,805.56 L1491.87,805.56 L1492.56,805.56 L1493.26,805.57 L1493.95,805.57 L1494.64,805.57 L1495.33,805.58 L1496.02,805.58 L1496.71,805.58 L1497.40,805.59 L1498.09,805.59 L1498.78,805.59 L1499.47,805.60 L1500.16,805.60 L1500.85,805.60 L1501.54,805.61 L1502.23,805.61 L1502.92,805.61 L1503.61,805.61 L1504.31,805.62 L1505.00,805.62 L1505.69,805.62 L1506.38,805.63 L1507.07,805.63 L1507.76,805.63 L1508.45,805.63 L1509.14,805.64 L1509.83,805.64 L1510.52,805.64 L1511.21,805.64 L1511.90,805.65 L1512.59,805.65 L1513.28,805.65 L1513.97,805.65 L1514.66,805.66 L1515.35,805.66 L1516.05,805.66 L1516.74,805.66 L1517.43,805.67 L1518.12,805.67 L1518.81,805.67 L1519.50,805.67 L1520.19,805.67 L1520.88,805.68 L1521.57,805.68 L1522.26,805.68 L1522.95,805.68 L1523.64,805.69 L1524.33,805.69 L1525.02,805.69 L1525.71,805.69 L1526.40,805.69 L1527.10,805.70 L1527.79,805.70 L1528.48,805.70 L1529.17,805.70 L1529.86,805.70 L1530.55,805.71 L1531.24,805.71 L1531.93,805.71 L1532.62,805.71 L1533.31,805.71 L1534.00,805.72 L1534.69,805.72 L1535.38,805.72 L1536.07,805.72 L1536.76,805.72 L1537.45,805.72 L1538.15,805.73 L1538.84,805.73 L1539.53,805.73 L1540.22,805.73 L1540.91,805.73 L1541.60,805.73 L1542.29,805.74 L1542.98,805.74 L1543.67,805.74 L1544.36,805.74 L1545.05,805.74 L1545.74,805.74 L1546.43,805.74 L1547.12,805.75 L1547.81,805.75 L1548.50,805.75 L1549.19,805.75 L1549.89,805.75 L1550.58,805.75 L1551.27,805.76 L1551.96,805.76 L1552.65,805.76 L1553.34,805.76 L1554.03,805.76 L1554.72,805.76 L1555.41,805.76 L1556.10,805.76 L1556.79,805.77 L1557.48,805.77 L1558.17,805.77 L1558.86,805.77 L1559.55,805.77 L1560.24,805.77 L1560.94,805.77 L1561.63,805.77 L1562.32,805.78 L1563.01,805.78 L1563.70,805.78 L1564.39,805.78 L1565.08,805.78 L1565.77,805.78 L1566.46,805.78 L1567.15,805.78 L1567.84,805.79 L1568.53,805.79 L1569.22,805.79 L1569.91,805.79 L1570.60,805.79 L1571.29,805.79 L1571.99,805.79 L1572.68,805.79 L1573.37,805.79 L1574.06,805.79 L1574.75,805.80 L1575.44,805.80 L1576.13,805.80 L1576.82,805.80 L1577.51,805.80 L1578.20,805.80 L1578.89,805.80 L1579.58,805.80 L1580.27,805.80 L1580.96,805.80 L1581.65,805.81 L1582.34,805.81 L1583.04,805.81 L1583.73,805.81 L1584.42,805.81 L1585.11,805.81 L1585.80,805.81 L1586.49,805.81 L1587.18,805.81 L1587.87,805.81 L1588.56,805.81 L1589.25,805.81 L1589.94,805.82 L1590.63,805.82 L1591.32,805.82 L1592.01,805.82 L1592.70,805.82 L1593.39,805.82 L1594.08,805.82 L1594.78,805.82 L1595.47,805.82 L1596.16,805.82 L1596.85,805.82 L1597.54,805.82 L1598.23,805.82 L1598.92,805.83 L1599.61,805.83 L1600.30,805.83 L1600.99,805.83 L1601.68,805.83 L1602.37,805.83 L1603.06,805.83 L1603.75,805.83 L1604.44,805.83 L1605.13,805.83 L1605.83,805.83 L1606.52,805.83 L1607.21,805.83 L1607.90,805.83 L1608.59,805.83 L1609.28,805.84 L1609.97,805.84 L1610.66,805.84 L1611.35,805.84 L1612.04,805.84 L1612.73,805.84 L1613.42,805.84 L1614.11,805.84 L1614.80,805.84 L1615.49,805.84 L1616.18,805.84 L1616.88,805.84 L1617.57,805.84 L1618.26,805.84 L1618.95,805.84 L1619.64,805.84 L1620.33,805.84 L1621.02,805.85 L1621.71,805.85 L1622.40,805.85" fill="none" stroke="#4e72bd" stroke-width="3.0" stroke-linejoin="round" stroke-dasharray="11.3,4.4" stroke-dashoffset="2.6" clip-path="url(#cj)"/>
<rect x="1043.90" y="419.40" width="606.10" height="405.00" fill="none" stroke="#000" stroke-width="2.3"/>
<line x1="1070.60" y1="824.40" x2="1070.60" y2="812.90" stroke="#000" stroke-width="2.9"/>
<line x1="1208.55" y1="824.40" x2="1208.55" y2="812.90" stroke="#000" stroke-width="2.9"/>
<line x1="1346.50" y1="824.40" x2="1346.50" y2="812.90" stroke="#000" stroke-width="2.9"/>
<line x1="1484.45" y1="824.40" x2="1484.45" y2="812.90" stroke="#000" stroke-width="2.9"/>
<line x1="1622.40" y1="824.40" x2="1622.40" y2="812.90" stroke="#000" stroke-width="2.9"/>
<line x1="1139.57" y1="824.40" x2="1139.57" y2="818.40" stroke="#000" stroke-width="2.0"/>
<line x1="1277.52" y1="824.40" x2="1277.52" y2="818.40" stroke="#000" stroke-width="2.0"/>
<line x1="1415.47" y1="824.40" x2="1415.47" y2="818.40" stroke="#000" stroke-width="2.0"/>
<line x1="1553.42" y1="824.40" x2="1553.42" y2="818.40" stroke="#000" stroke-width="2.0"/>
<line x1="1043.90" y1="805.90" x2="1055.40" y2="805.90" stroke="#000" stroke-width="2.9"/>
<line x1="1043.90" y1="698.10" x2="1055.40" y2="698.10" stroke="#000" stroke-width="2.9"/>
<line x1="1043.90" y1="590.30" x2="1055.40" y2="590.30" stroke="#000" stroke-width="2.9"/>
<line x1="1043.90" y1="482.50" x2="1055.40" y2="482.50" stroke="#000" stroke-width="2.9"/>
<line x1="1043.90" y1="752.00" x2="1049.90" y2="752.00" stroke="#000" stroke-width="2.0"/>
<line x1="1043.90" y1="644.20" x2="1049.90" y2="644.20" stroke="#000" stroke-width="2.0"/>
<line x1="1043.90" y1="536.40" x2="1049.90" y2="536.40" stroke="#000" stroke-width="2.0"/>
<line x1="1043.90" y1="428.60" x2="1049.90" y2="428.60" stroke="#000" stroke-width="2.0"/>
<text transform="translate(1019.13,816.30) scale(1.0000,1)" font-family="Liberation Serif, DejaVu Serif, serif" font-size="29.80" fill="#000">0</text>
<text transform="translate(1019.79,708.50) scale(1.0000,1)" font-family="Liberation Serif, DejaVu Serif, serif" font-size="29.80" fill="#000">1</text>
<text transform="translate(1019.64,600.70) scale(1.0000,1)" font-family="Liberation Serif, DejaVu Serif, serif" font-size="29.80" fill="#000">2</text>
<text transform="translate(1019.16,492.90) scale(1.0000,1)" font-family="Liberation Serif, DejaVu Serif, serif" font-size="29.80" fill="#000">3</text>
<text transform="translate(1063.15,855.70) scale(1.0000,1)" font-family="Liberation Serif, DejaVu Serif, serif" font-size="29.80" fill="#000">0</text>
<text transform="translate(1200.82,855.70) scale(1.0000,1)" font-family="Liberation Serif, DejaVu Serif, serif" font-size="29.80" fill="#000">5</text>
<text transform="translate(1332.36,855.70) scale(1.0000,1)" font-family="Liberation Serif, DejaVu Serif, serif" font-size="29.80" fill="#000">10</text>
<text transform="translate(1470.32,855.70) scale(1.0000,1)" font-family="Liberation Serif, DejaVu Serif, serif" font-size="29.80" fill="#000">15</text>
<text transform="translate(1607.41,855.70) scale(1.0000,1)" font-family="Liberation Serif, DejaVu Serif, serif" font-size="29.80" fill="#000">20</text>
<text transform="translate(1106.22,785.07) scale(0.9872,1)" font-family="Liberation Serif, DejaVu Serif, serif" font-weight="bold" font-size="41.03" fill="#000">(j)</text>
<text transform="translate(1328.88,899.00) scale(0.9789,1)" font-family="Liberation Serif, DejaVu Serif, serif" font-size="39.71" fill="#000">Γ</text>
<text transform="translate(1350.29,899.09) scale(1.0768,1)" font-family="Liberation Serif, DejaVu Serif, serif" font-style="italic" font-size="42.43" fill="#000">t</text>
<text transform="translate(961.16,652.60) rotate(-90) translate(-3.47,0) scale(1.1026,1)" font-family="Liberation Serif, DejaVu Serif, serif" font-size="41.88" fill="#000">|</text>
<text transform="translate(966.68,642.10) rotate(-90) translate(-14.37,0) scale(0.5980,1)" font-family="Noto Sans CJK JP, sans-serif" font-size="40.88" fill="#000">〈</text>
<text transform="translate(961.20,630.10) rotate(-90) translate(-1.18,0) scale(1.0313,1)" font-family="Liberation Serif, DejaVu Serif, serif" font-style="italic" font-size="38.55" fill="#000">â</text>
<text transform="translate(966.68,610.30) rotate(-90) translate(-1.29,0) scale(0.6048,1)" font-family="Noto Sans CJK JP, sans-serif" font-size="40.88" fill="#000">〉</text>
<text transform="translate(961.16,593.20) rotate(-90) translate(-3.02,0) scale(0.9588,1)" font-family="Liberation Serif, DejaVu Serif, serif" font-size="41.88" fill="#000">|</text>
<rect x="1406.9" y="435.1" width="226.5" height="105.5" rx="7" ry="7" fill="#fff" fill-opacity="0.8" stroke="#cccccc" stroke-width="3.0"/>
<line x1="1418.2" y1="461" x2="1485.8" y2="461" stroke="#d13c3b" stroke-width="3.2"/>
<line x1="1418.9" y1="508.6" x2="1485.8" y2="508.6" stroke="#4e72bd" stroke-width="3.2" stroke-dasharray="11.3,4.4"/>
<text transform="translate(1509.41,473.52) scale(1.0241,1)" font-family="Liberation Serif, DejaVu Serif, serif" font-style="italic" font-size="33.02" fill="#000">ζ</text>
<text transform="translate(1534.26,475.80) scale(1.3524,1)" font-family="Liberation Serif, DejaVu Serif, serif" font-size="34.80" fill="#000">=</text>
<text transform="translate(1509.41,520.72) scale(1.0241,1)" font-family="Liberation Serif, DejaVu Serif, serif" font-style="italic" font-size="33.02" fill="#000">ζ</text>
<text transform="translate(1534.26,523.00) scale(1.3524,1)" font-family="Liberation Serif, DejaVu Serif, serif" font-size="34.80" fill="#000">=</text>
<text transform="translate(1568.50,473.28) scale(1.0306,1)" font-family="Liberation Serif, DejaVu Serif, serif" font-size="33.19" fill="#000">0</text>
<text transform="translate(1568.39,520.40) scale(1.0476,1)" font-family="Liberation Serif, DejaVu Serif, serif" font-size="33.60" fill="#000">Γ</text>
<text transform="translate(1590.00,527.33) scale(0.9927,1)" font-family="Liberation Serif, DejaVu Serif, serif" font-size="48.58" fill="#000">/</text>
<text transform="translate(1603.87,520.27) scale(0.9869,1)" font-family="Liberation Serif, DejaVu Serif, serif" font-size="33.71" fill="#000">5</text>
</svg>
</body></html>
